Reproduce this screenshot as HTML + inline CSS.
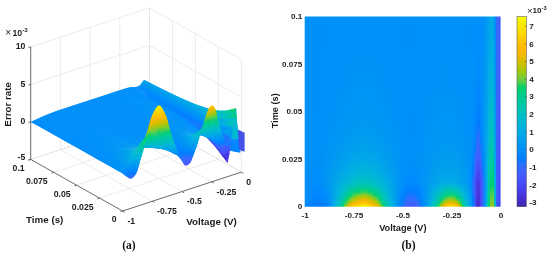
<!DOCTYPE html>
<html><head><meta charset="utf-8"><title>Figure</title>
<style>html,body{margin:0;padding:0;background:#fff}svg{display:block;filter:blur(0.32px)}</style></head>
<body>
<svg width="550" height="255" viewBox="0 0 550 255">
<defs>
<linearGradient id="cb" x1="0" y1="0" x2="0" y2="1"><stop offset="0.0000" stop-color="#f9fb00"/><stop offset="0.0312" stop-color="#f7ef00"/><stop offset="0.0625" stop-color="#f9e200"/><stop offset="0.0938" stop-color="#ffd500"/><stop offset="0.1250" stop-color="#ffc700"/><stop offset="0.1562" stop-color="#ffbb00"/><stop offset="0.1875" stop-color="#fbb700"/><stop offset="0.2188" stop-color="#e5bb00"/><stop offset="0.2500" stop-color="#cac100"/><stop offset="0.2812" stop-color="#a9c700"/><stop offset="0.3125" stop-color="#83cc2a"/><stop offset="0.3438" stop-color="#54cf4e"/><stop offset="0.3750" stop-color="#00d06c"/><stop offset="0.4062" stop-color="#00ce84"/><stop offset="0.4375" stop-color="#00ca99"/><stop offset="0.4688" stop-color="#00c6aa"/><stop offset="0.5000" stop-color="#00c2ba"/><stop offset="0.5312" stop-color="#00bdc9"/><stop offset="0.5625" stop-color="#00b6d7"/><stop offset="0.5938" stop-color="#00afe2"/><stop offset="0.6250" stop-color="#00a6e9"/><stop offset="0.6562" stop-color="#009cef"/><stop offset="0.6875" stop-color="#0092f7"/><stop offset="0.7188" stop-color="#0088ff"/><stop offset="0.7500" stop-color="#007cff"/><stop offset="0.7812" stop-color="#2d6fff"/><stop offset="0.8125" stop-color="#3c63ff"/><stop offset="0.8438" stop-color="#4358ff"/><stop offset="0.8750" stop-color="#474cf9"/><stop offset="0.9062" stop-color="#4840ee"/><stop offset="0.9375" stop-color="#4836dd"/><stop offset="0.9688" stop-color="#452dc7"/><stop offset="1.0000" stop-color="#4225af"/></linearGradient>
<clipPath id="hc"><rect x="304.7" y="16.5" width="195.9" height="190.2"/></clipPath>
<filter id="bl" x="-5%" y="-5%" width="110%" height="110%"><feGaussianBlur stdDeviation="0.75 0.3"/></filter>
<linearGradient id="s109" gradientUnits="userSpaceOnUse" x1="240.9" y1="0" x2="149.0" y2="0"><stop offset="0.040" stop-color="#0b79ff"/><stop offset="0.069" stop-color="#0d79ff"/><stop offset="0.098" stop-color="#0e79ff"/><stop offset="0.127" stop-color="#1079ff"/><stop offset="0.156" stop-color="#1178ff"/><stop offset="0.184" stop-color="#1378ff"/><stop offset="0.213" stop-color="#1478ff"/><stop offset="0.242" stop-color="#1578ff"/><stop offset="0.271" stop-color="#1677ff"/><stop offset="0.300" stop-color="#1777ff"/><stop offset="0.440" stop-color="#1b76ff"/><stop offset="0.580" stop-color="#1b76ff"/><stop offset="0.720" stop-color="#1b76ff"/><stop offset="0.860" stop-color="#1b76ff"/><stop offset="1.000" stop-color="#1b76ff"/></linearGradient>
<linearGradient id="s108" gradientUnits="userSpaceOnUse" x1="239.8" y1="0" x2="147.9" y2="0"><stop offset="0.040" stop-color="#0a7aff"/><stop offset="0.069" stop-color="#0c79ff"/><stop offset="0.098" stop-color="#0d79ff"/><stop offset="0.127" stop-color="#0e79ff"/><stop offset="0.156" stop-color="#1079ff"/><stop offset="0.184" stop-color="#1179ff"/><stop offset="0.213" stop-color="#1278ff"/><stop offset="0.242" stop-color="#1378ff"/><stop offset="0.271" stop-color="#1478ff"/><stop offset="0.300" stop-color="#1578ff"/><stop offset="0.440" stop-color="#1877ff"/><stop offset="0.580" stop-color="#1877ff"/><stop offset="0.720" stop-color="#1877ff"/><stop offset="0.860" stop-color="#1877ff"/><stop offset="1.000" stop-color="#1877ff"/></linearGradient>
<linearGradient id="s107" gradientUnits="userSpaceOnUse" x1="238.7" y1="0" x2="146.8" y2="0"><stop offset="0.040" stop-color="#0087ff"/><stop offset="0.069" stop-color="#0086ff"/><stop offset="0.098" stop-color="#0085ff"/><stop offset="0.127" stop-color="#0084ff"/><stop offset="0.156" stop-color="#0083ff"/><stop offset="0.184" stop-color="#0083ff"/><stop offset="0.213" stop-color="#0082ff"/><stop offset="0.242" stop-color="#0081ff"/><stop offset="0.271" stop-color="#0081ff"/><stop offset="0.300" stop-color="#0080ff"/><stop offset="0.440" stop-color="#007eff"/><stop offset="0.580" stop-color="#007eff"/><stop offset="0.720" stop-color="#007dff"/><stop offset="0.860" stop-color="#007dff"/><stop offset="1.000" stop-color="#007cff"/></linearGradient>
<linearGradient id="s106" gradientUnits="userSpaceOnUse" x1="237.6" y1="0" x2="145.7" y2="0"><stop offset="0.040" stop-color="#00b7d5"/><stop offset="0.069" stop-color="#00b4db"/><stop offset="0.098" stop-color="#00b1e0"/><stop offset="0.127" stop-color="#00aee3"/><stop offset="0.156" stop-color="#00abe6"/><stop offset="0.184" stop-color="#00a8e8"/><stop offset="0.213" stop-color="#00a6ea"/><stop offset="0.242" stop-color="#00a3eb"/><stop offset="0.271" stop-color="#00a1ec"/><stop offset="0.300" stop-color="#00a0ed"/><stop offset="0.440" stop-color="#0099f2"/><stop offset="0.580" stop-color="#0095f5"/><stop offset="0.720" stop-color="#0093f7"/><stop offset="0.860" stop-color="#0091f9"/><stop offset="1.000" stop-color="#008ffa"/></linearGradient>
<linearGradient id="s105" gradientUnits="userSpaceOnUse" x1="236.5" y1="0" x2="144.6" y2="0"><stop offset="0.040" stop-color="#00ce87"/><stop offset="0.069" stop-color="#00ca98"/><stop offset="0.098" stop-color="#00c7a6"/><stop offset="0.127" stop-color="#00c4b0"/><stop offset="0.156" stop-color="#00c2b9"/><stop offset="0.184" stop-color="#00c0c1"/><stop offset="0.213" stop-color="#00bdc8"/><stop offset="0.242" stop-color="#00bbcd"/><stop offset="0.271" stop-color="#00b9d2"/><stop offset="0.300" stop-color="#00b7d6"/><stop offset="0.440" stop-color="#00aee3"/><stop offset="0.580" stop-color="#00a8e8"/><stop offset="0.720" stop-color="#00a4ea"/><stop offset="0.860" stop-color="#00a1ec"/><stop offset="1.000" stop-color="#009eee"/></linearGradient>
<linearGradient id="c105" gradientUnits="userSpaceOnUse" x1="0" y1="109.9" x2="0" y2="111.3"><stop offset="0.000" stop-color="#1ed065"/><stop offset="0.167" stop-color="#00d06c"/><stop offset="0.333" stop-color="#00cf72"/><stop offset="0.500" stop-color="#00cf78"/><stop offset="0.667" stop-color="#00cf7d"/><stop offset="0.833" stop-color="#00ce82"/><stop offset="1.000" stop-color="#00ce87"/></linearGradient>
<linearGradient id="s104" gradientUnits="userSpaceOnUse" x1="235.5" y1="0" x2="143.6" y2="0"><stop offset="0.040" stop-color="#00ce81"/><stop offset="0.069" stop-color="#00cb94"/><stop offset="0.098" stop-color="#00c8a3"/><stop offset="0.127" stop-color="#00c5ae"/><stop offset="0.156" stop-color="#00c2b7"/><stop offset="0.184" stop-color="#00c0bf"/><stop offset="0.213" stop-color="#00bec6"/><stop offset="0.242" stop-color="#00bccb"/><stop offset="0.271" stop-color="#00bad0"/><stop offset="0.300" stop-color="#00b8d5"/><stop offset="0.440" stop-color="#00afe1"/><stop offset="0.580" stop-color="#00aae7"/><stop offset="0.720" stop-color="#00a5ea"/><stop offset="0.860" stop-color="#00a2eb"/><stop offset="1.000" stop-color="#00a0ed"/></linearGradient>
<linearGradient id="c104" gradientUnits="userSpaceOnUse" x1="0" y1="109.5" x2="0" y2="110.3"><stop offset="0.000" stop-color="#23d063"/><stop offset="0.167" stop-color="#05d069"/><stop offset="0.333" stop-color="#00cf6e"/><stop offset="0.500" stop-color="#00cf73"/><stop offset="0.667" stop-color="#00cf78"/><stop offset="0.833" stop-color="#00cf7c"/><stop offset="1.000" stop-color="#00ce81"/></linearGradient>
<linearGradient id="s103" gradientUnits="userSpaceOnUse" x1="234.4" y1="0" x2="142.5" y2="0"><stop offset="0.040" stop-color="#00c8a2"/><stop offset="0.069" stop-color="#00c4b2"/><stop offset="0.098" stop-color="#00c1be"/><stop offset="0.127" stop-color="#00bdc7"/><stop offset="0.156" stop-color="#00bacf"/><stop offset="0.184" stop-color="#00b7d5"/><stop offset="0.213" stop-color="#00b5da"/><stop offset="0.242" stop-color="#00b2de"/><stop offset="0.271" stop-color="#00b0e1"/><stop offset="0.300" stop-color="#00aee3"/><stop offset="0.440" stop-color="#00a6e9"/><stop offset="0.580" stop-color="#00a2ec"/><stop offset="0.720" stop-color="#009fee"/><stop offset="0.860" stop-color="#009def"/><stop offset="1.000" stop-color="#009bf0"/></linearGradient>
<linearGradient id="s102" gradientUnits="userSpaceOnUse" x1="233.3" y1="0" x2="141.4" y2="0"><stop offset="0.040" stop-color="#00bcca"/><stop offset="0.069" stop-color="#00b7d6"/><stop offset="0.098" stop-color="#00b2de"/><stop offset="0.127" stop-color="#00ade4"/><stop offset="0.156" stop-color="#00aae7"/><stop offset="0.184" stop-color="#00a6e9"/><stop offset="0.213" stop-color="#00a4ea"/><stop offset="0.242" stop-color="#00a2ec"/><stop offset="0.271" stop-color="#00a0ed"/><stop offset="0.300" stop-color="#009fee"/><stop offset="0.440" stop-color="#009af1"/><stop offset="0.580" stop-color="#0098f3"/><stop offset="0.720" stop-color="#0097f4"/><stop offset="0.860" stop-color="#0096f5"/><stop offset="1.000" stop-color="#0095f5"/></linearGradient>
<linearGradient id="s101" gradientUnits="userSpaceOnUse" x1="232.2" y1="0" x2="140.3" y2="0"><stop offset="0.040" stop-color="#00a2ec"/><stop offset="0.069" stop-color="#009cef"/><stop offset="0.098" stop-color="#0099f2"/><stop offset="0.127" stop-color="#0096f5"/><stop offset="0.156" stop-color="#0094f6"/><stop offset="0.184" stop-color="#0092f7"/><stop offset="0.213" stop-color="#0091f8"/><stop offset="0.242" stop-color="#0090f9"/><stop offset="0.271" stop-color="#0090f9"/><stop offset="0.300" stop-color="#0090fa"/><stop offset="0.440" stop-color="#008ffa"/><stop offset="0.580" stop-color="#0090f9"/><stop offset="0.720" stop-color="#0090f9"/><stop offset="0.860" stop-color="#0090f9"/><stop offset="1.000" stop-color="#0090f9"/></linearGradient>
<linearGradient id="c101" gradientUnits="userSpaceOnUse" x1="0" y1="134.6" x2="0" y2="130.6"><stop offset="0.000" stop-color="#009bf1"/><stop offset="0.167" stop-color="#009cf0"/><stop offset="0.333" stop-color="#009def"/><stop offset="0.500" stop-color="#009eee"/><stop offset="0.667" stop-color="#009fed"/><stop offset="0.833" stop-color="#00a0ed"/><stop offset="1.000" stop-color="#00a2ec"/></linearGradient>
<linearGradient id="s100" gradientUnits="userSpaceOnUse" x1="231.1" y1="0" x2="139.2" y2="0"><stop offset="0.040" stop-color="#1e75ff"/><stop offset="0.069" stop-color="#1b76ff"/><stop offset="0.098" stop-color="#1578ff"/><stop offset="0.127" stop-color="#0d79ff"/><stop offset="0.156" stop-color="#027bff"/><stop offset="0.184" stop-color="#007cff"/><stop offset="0.213" stop-color="#007eff"/><stop offset="0.242" stop-color="#007fff"/><stop offset="0.271" stop-color="#0081ff"/><stop offset="0.300" stop-color="#0082ff"/><stop offset="0.440" stop-color="#0087ff"/><stop offset="0.580" stop-color="#008afe"/><stop offset="0.720" stop-color="#008cfd"/><stop offset="0.860" stop-color="#008dfc"/><stop offset="1.000" stop-color="#008efb"/></linearGradient>
<linearGradient id="c100" gradientUnits="userSpaceOnUse" x1="0" y1="143.2" x2="0" y2="141.3"><stop offset="0.000" stop-color="#1b76ff"/><stop offset="0.167" stop-color="#1c76ff"/><stop offset="0.333" stop-color="#1c76ff"/><stop offset="0.500" stop-color="#1d76ff"/><stop offset="0.667" stop-color="#1d75ff"/><stop offset="0.833" stop-color="#1e75ff"/><stop offset="1.000" stop-color="#1e75ff"/></linearGradient>
<linearGradient id="s99" gradientUnits="userSpaceOnUse" x1="230.1" y1="0" x2="138.2" y2="0"><stop offset="0.040" stop-color="#474af7"/><stop offset="0.069" stop-color="#4552fd"/><stop offset="0.098" stop-color="#4358ff"/><stop offset="0.127" stop-color="#405dff"/><stop offset="0.156" stop-color="#3d62ff"/><stop offset="0.184" stop-color="#3967ff"/><stop offset="0.213" stop-color="#356bff"/><stop offset="0.242" stop-color="#2f6eff"/><stop offset="0.271" stop-color="#2871ff"/><stop offset="0.300" stop-color="#2075ff"/><stop offset="0.440" stop-color="#007fff"/><stop offset="0.580" stop-color="#0085ff"/><stop offset="0.720" stop-color="#0089ff"/><stop offset="0.860" stop-color="#008bfe"/><stop offset="1.000" stop-color="#008cfc"/></linearGradient>
<linearGradient id="c99" gradientUnits="userSpaceOnUse" x1="0" y1="149.6" x2="0" y2="150.7"><stop offset="0.000" stop-color="#4259ff"/><stop offset="0.167" stop-color="#4457ff"/><stop offset="0.333" stop-color="#4454ff"/><stop offset="0.500" stop-color="#4552fd"/><stop offset="0.667" stop-color="#464ffb"/><stop offset="0.833" stop-color="#474df9"/><stop offset="1.000" stop-color="#474af7"/></linearGradient>
<linearGradient id="s98" gradientUnits="userSpaceOnUse" x1="229.0" y1="0" x2="137.1" y2="0"><stop offset="0.040" stop-color="#4837e0"/><stop offset="0.069" stop-color="#4840ec"/><stop offset="0.098" stop-color="#4847f5"/><stop offset="0.127" stop-color="#464efa"/><stop offset="0.156" stop-color="#4454ff"/><stop offset="0.184" stop-color="#425aff"/><stop offset="0.213" stop-color="#405fff"/><stop offset="0.242" stop-color="#3c63ff"/><stop offset="0.271" stop-color="#3867ff"/><stop offset="0.300" stop-color="#346bff"/><stop offset="0.440" stop-color="#0c79ff"/><stop offset="0.580" stop-color="#0082ff"/><stop offset="0.720" stop-color="#0087ff"/><stop offset="0.860" stop-color="#008aff"/><stop offset="1.000" stop-color="#008cfd"/></linearGradient>
<linearGradient id="c98" gradientUnits="userSpaceOnUse" x1="0" y1="156.3" x2="0" y2="155.3"><stop offset="0.000" stop-color="#483de8"/><stop offset="0.167" stop-color="#483ce7"/><stop offset="0.333" stop-color="#483be6"/><stop offset="0.500" stop-color="#483ae5"/><stop offset="0.667" stop-color="#4839e3"/><stop offset="0.833" stop-color="#4838e2"/><stop offset="1.000" stop-color="#4837e0"/></linearGradient>
<linearGradient id="s97" gradientUnits="userSpaceOnUse" x1="227.9" y1="0" x2="136.0" y2="0"><stop offset="0.040" stop-color="#4630cd"/><stop offset="0.069" stop-color="#4837e0"/><stop offset="0.098" stop-color="#483fec"/><stop offset="0.127" stop-color="#4847f4"/><stop offset="0.156" stop-color="#464efa"/><stop offset="0.184" stop-color="#4554fe"/><stop offset="0.213" stop-color="#425aff"/><stop offset="0.242" stop-color="#405eff"/><stop offset="0.271" stop-color="#3c63ff"/><stop offset="0.300" stop-color="#3967ff"/><stop offset="0.440" stop-color="#1877ff"/><stop offset="0.580" stop-color="#0080ff"/><stop offset="0.720" stop-color="#0086ff"/><stop offset="0.860" stop-color="#0089ff"/><stop offset="1.000" stop-color="#008bfd"/></linearGradient>
<linearGradient id="c97" gradientUnits="userSpaceOnUse" x1="0" y1="162.5" x2="0" y2="157.9"><stop offset="0.000" stop-color="#4327b7"/><stop offset="0.167" stop-color="#4429bb"/><stop offset="0.333" stop-color="#442abf"/><stop offset="0.500" stop-color="#452bc2"/><stop offset="0.667" stop-color="#452dc6"/><stop offset="0.833" stop-color="#462eca"/><stop offset="1.000" stop-color="#4630cd"/></linearGradient>
<linearGradient id="s96" gradientUnits="userSpaceOnUse" x1="226.8" y1="0" x2="134.9" y2="0"><stop offset="0.040" stop-color="#4733d5"/><stop offset="0.069" stop-color="#483be6"/><stop offset="0.098" stop-color="#4844f1"/><stop offset="0.127" stop-color="#474bf8"/><stop offset="0.156" stop-color="#4552fd"/><stop offset="0.184" stop-color="#4358ff"/><stop offset="0.213" stop-color="#405dff"/><stop offset="0.242" stop-color="#3d62ff"/><stop offset="0.271" stop-color="#3966ff"/><stop offset="0.300" stop-color="#356aff"/><stop offset="0.440" stop-color="#0e79ff"/><stop offset="0.580" stop-color="#0082ff"/><stop offset="0.720" stop-color="#0087ff"/><stop offset="0.860" stop-color="#008aff"/><stop offset="1.000" stop-color="#008cfd"/></linearGradient>
<linearGradient id="c96" gradientUnits="userSpaceOnUse" x1="0" y1="159.1" x2="0" y2="157.3"><stop offset="0.000" stop-color="#4734d9"/><stop offset="0.167" stop-color="#4734d9"/><stop offset="0.333" stop-color="#4734d8"/><stop offset="0.500" stop-color="#4733d7"/><stop offset="0.667" stop-color="#4733d7"/><stop offset="0.833" stop-color="#4733d6"/><stop offset="1.000" stop-color="#4733d5"/></linearGradient>
<linearGradient id="s95" gradientUnits="userSpaceOnUse" x1="225.7" y1="0" x2="133.8" y2="0"><stop offset="0.040" stop-color="#483eeb"/><stop offset="0.069" stop-color="#4748f5"/><stop offset="0.098" stop-color="#4650fc"/><stop offset="0.127" stop-color="#4357ff"/><stop offset="0.156" stop-color="#405dff"/><stop offset="0.184" stop-color="#3d63ff"/><stop offset="0.213" stop-color="#3867ff"/><stop offset="0.242" stop-color="#336cff"/><stop offset="0.271" stop-color="#2d6fff"/><stop offset="0.300" stop-color="#2573ff"/><stop offset="0.440" stop-color="#007fff"/><stop offset="0.580" stop-color="#0085ff"/><stop offset="0.720" stop-color="#0089ff"/><stop offset="0.860" stop-color="#008bfd"/><stop offset="1.000" stop-color="#008dfc"/></linearGradient>
<linearGradient id="c95" gradientUnits="userSpaceOnUse" x1="0" y1="150.5" x2="0" y2="154.7"><stop offset="0.000" stop-color="#415cff"/><stop offset="0.167" stop-color="#4357ff"/><stop offset="0.333" stop-color="#4552fd"/><stop offset="0.500" stop-color="#474dfa"/><stop offset="0.667" stop-color="#4748f5"/><stop offset="0.833" stop-color="#4843f1"/><stop offset="1.000" stop-color="#483eeb"/></linearGradient>
<linearGradient id="s94" gradientUnits="userSpaceOnUse" x1="224.7" y1="0" x2="132.8" y2="0"><stop offset="0.040" stop-color="#464ffb"/><stop offset="0.069" stop-color="#4358ff"/><stop offset="0.098" stop-color="#3f60ff"/><stop offset="0.127" stop-color="#3a66ff"/><stop offset="0.156" stop-color="#336bff"/><stop offset="0.184" stop-color="#2c70ff"/><stop offset="0.213" stop-color="#2274ff"/><stop offset="0.242" stop-color="#1677ff"/><stop offset="0.271" stop-color="#047aff"/><stop offset="0.300" stop-color="#007dff"/><stop offset="0.440" stop-color="#0085ff"/><stop offset="0.580" stop-color="#0089ff"/><stop offset="0.720" stop-color="#008bfd"/><stop offset="0.860" stop-color="#008dfc"/><stop offset="1.000" stop-color="#008dfb"/></linearGradient>
<linearGradient id="c94" gradientUnits="userSpaceOnUse" x1="0" y1="143.4" x2="0" y2="151.5"><stop offset="0.000" stop-color="#007fff"/><stop offset="0.167" stop-color="#1877ff"/><stop offset="0.333" stop-color="#2f6eff"/><stop offset="0.500" stop-color="#3a66ff"/><stop offset="0.667" stop-color="#405eff"/><stop offset="0.833" stop-color="#4456ff"/><stop offset="1.000" stop-color="#464ffb"/></linearGradient>
<linearGradient id="s93" gradientUnits="userSpaceOnUse" x1="223.6" y1="0" x2="131.7" y2="0"><stop offset="0.040" stop-color="#425aff"/><stop offset="0.069" stop-color="#3c64ff"/><stop offset="0.098" stop-color="#336cff"/><stop offset="0.127" stop-color="#2872ff"/><stop offset="0.156" stop-color="#1877ff"/><stop offset="0.184" stop-color="#007bff"/><stop offset="0.213" stop-color="#007eff"/><stop offset="0.242" stop-color="#0081ff"/><stop offset="0.271" stop-color="#0083ff"/><stop offset="0.300" stop-color="#0084ff"/><stop offset="0.440" stop-color="#0089ff"/><stop offset="0.580" stop-color="#008cfd"/><stop offset="0.720" stop-color="#008dfc"/><stop offset="0.860" stop-color="#008efb"/><stop offset="1.000" stop-color="#008efb"/></linearGradient>
<linearGradient id="c93" gradientUnits="userSpaceOnUse" x1="0" y1="138.6" x2="0" y2="149.2"><stop offset="0.000" stop-color="#0096f5"/><stop offset="0.167" stop-color="#008dfc"/><stop offset="0.333" stop-color="#0083ff"/><stop offset="0.500" stop-color="#0d79ff"/><stop offset="0.667" stop-color="#2e6eff"/><stop offset="0.833" stop-color="#3b64ff"/><stop offset="1.000" stop-color="#425aff"/></linearGradient>
<linearGradient id="s92" gradientUnits="userSpaceOnUse" x1="222.5" y1="0" x2="130.6" y2="0"><stop offset="0.040" stop-color="#3c63ff"/><stop offset="0.069" stop-color="#316dff"/><stop offset="0.098" stop-color="#2174ff"/><stop offset="0.127" stop-color="#057aff"/><stop offset="0.156" stop-color="#007fff"/><stop offset="0.184" stop-color="#0082ff"/><stop offset="0.213" stop-color="#0084ff"/><stop offset="0.242" stop-color="#0086ff"/><stop offset="0.271" stop-color="#0088ff"/><stop offset="0.300" stop-color="#0089ff"/><stop offset="0.440" stop-color="#008cfc"/><stop offset="0.580" stop-color="#008efb"/><stop offset="0.720" stop-color="#008efb"/><stop offset="0.860" stop-color="#008ffa"/><stop offset="1.000" stop-color="#008ffa"/></linearGradient>
<linearGradient id="c92" gradientUnits="userSpaceOnUse" x1="0" y1="134.6" x2="0" y2="147.7"><stop offset="0.000" stop-color="#00a7e9"/><stop offset="0.167" stop-color="#009def"/><stop offset="0.333" stop-color="#0093f7"/><stop offset="0.500" stop-color="#0088ff"/><stop offset="0.667" stop-color="#007cff"/><stop offset="0.833" stop-color="#2d6fff"/><stop offset="1.000" stop-color="#3c63ff"/></linearGradient>
<linearGradient id="s91" gradientUnits="userSpaceOnUse" x1="221.4" y1="0" x2="129.5" y2="0"><stop offset="0.040" stop-color="#336cff"/><stop offset="0.069" stop-color="#2174ff"/><stop offset="0.098" stop-color="#007bff"/><stop offset="0.127" stop-color="#0080ff"/><stop offset="0.156" stop-color="#0083ff"/><stop offset="0.184" stop-color="#0086ff"/><stop offset="0.213" stop-color="#0088ff"/><stop offset="0.242" stop-color="#0089ff"/><stop offset="0.271" stop-color="#008bfe"/><stop offset="0.300" stop-color="#008cfd"/><stop offset="0.440" stop-color="#008efb"/><stop offset="0.580" stop-color="#008ffa"/><stop offset="0.720" stop-color="#008ffa"/><stop offset="0.860" stop-color="#008ffa"/><stop offset="1.000" stop-color="#008ffa"/></linearGradient>
<linearGradient id="c91" gradientUnits="userSpaceOnUse" x1="0" y1="131.2" x2="0" y2="146.2"><stop offset="0.000" stop-color="#00b4db"/><stop offset="0.167" stop-color="#00abe6"/><stop offset="0.333" stop-color="#00a0ed"/><stop offset="0.500" stop-color="#0094f6"/><stop offset="0.667" stop-color="#0087ff"/><stop offset="0.833" stop-color="#067aff"/><stop offset="1.000" stop-color="#336cff"/></linearGradient>
<linearGradient id="s90" gradientUnits="userSpaceOnUse" x1="220.3" y1="0" x2="128.4" y2="0"><stop offset="0.040" stop-color="#2274ff"/><stop offset="0.069" stop-color="#007bff"/><stop offset="0.098" stop-color="#0080ff"/><stop offset="0.127" stop-color="#0084ff"/><stop offset="0.156" stop-color="#0087ff"/><stop offset="0.184" stop-color="#0089ff"/><stop offset="0.213" stop-color="#008afe"/><stop offset="0.242" stop-color="#008bfd"/><stop offset="0.271" stop-color="#008cfc"/><stop offset="0.300" stop-color="#008dfc"/><stop offset="0.440" stop-color="#008ffa"/><stop offset="0.580" stop-color="#008ffa"/><stop offset="0.720" stop-color="#008ffa"/><stop offset="0.860" stop-color="#0090fa"/><stop offset="1.000" stop-color="#0090fa"/></linearGradient>
<linearGradient id="c90" gradientUnits="userSpaceOnUse" x1="0" y1="128.1" x2="0" y2="144.9"><stop offset="0.000" stop-color="#00bdc7"/><stop offset="0.167" stop-color="#00b5d9"/><stop offset="0.333" stop-color="#00abe6"/><stop offset="0.500" stop-color="#009eee"/><stop offset="0.667" stop-color="#0091f8"/><stop offset="0.833" stop-color="#0083ff"/><stop offset="1.000" stop-color="#2274ff"/></linearGradient>
<linearGradient id="s89" gradientUnits="userSpaceOnUse" x1="219.3" y1="0" x2="127.4" y2="0"><stop offset="0.040" stop-color="#007cff"/><stop offset="0.069" stop-color="#0081ff"/><stop offset="0.098" stop-color="#0084ff"/><stop offset="0.127" stop-color="#0087ff"/><stop offset="0.156" stop-color="#0089ff"/><stop offset="0.184" stop-color="#008afe"/><stop offset="0.213" stop-color="#008cfd"/><stop offset="0.242" stop-color="#008dfc"/><stop offset="0.271" stop-color="#008dfc"/><stop offset="0.300" stop-color="#008efb"/><stop offset="0.440" stop-color="#008ffa"/><stop offset="0.580" stop-color="#0090fa"/><stop offset="0.720" stop-color="#0090fa"/><stop offset="0.860" stop-color="#0090fa"/><stop offset="1.000" stop-color="#0090fa"/></linearGradient>
<linearGradient id="c89" gradientUnits="userSpaceOnUse" x1="0" y1="124.8" x2="0" y2="143.7"><stop offset="0.000" stop-color="#00c5ae"/><stop offset="0.167" stop-color="#00bec5"/><stop offset="0.333" stop-color="#00b5d9"/><stop offset="0.500" stop-color="#00a9e7"/><stop offset="0.667" stop-color="#009bf1"/><stop offset="0.833" stop-color="#008cfd"/><stop offset="1.000" stop-color="#007cff"/></linearGradient>
<linearGradient id="s88" gradientUnits="userSpaceOnUse" x1="218.2" y1="0" x2="126.3" y2="0"><stop offset="0.040" stop-color="#0083ff"/><stop offset="0.069" stop-color="#0086ff"/><stop offset="0.098" stop-color="#0088ff"/><stop offset="0.127" stop-color="#008aff"/><stop offset="0.156" stop-color="#008bfe"/><stop offset="0.184" stop-color="#008cfd"/><stop offset="0.213" stop-color="#008dfc"/><stop offset="0.242" stop-color="#008efb"/><stop offset="0.271" stop-color="#008efb"/><stop offset="0.300" stop-color="#008ffb"/><stop offset="0.440" stop-color="#0090fa"/><stop offset="0.580" stop-color="#0090f9"/><stop offset="0.720" stop-color="#0090f9"/><stop offset="0.860" stop-color="#0090f9"/><stop offset="1.000" stop-color="#0090f9"/></linearGradient>
<linearGradient id="c88" gradientUnits="userSpaceOnUse" x1="0" y1="120.5" x2="0" y2="142.6"><stop offset="0.000" stop-color="#00ce86"/><stop offset="0.167" stop-color="#00c7a8"/><stop offset="0.333" stop-color="#00bfc3"/><stop offset="0.500" stop-color="#00b4db"/><stop offset="0.667" stop-color="#00a5ea"/><stop offset="0.833" stop-color="#0094f6"/><stop offset="1.000" stop-color="#0083ff"/></linearGradient>
<linearGradient id="s87" gradientUnits="userSpaceOnUse" x1="217.1" y1="0" x2="125.2" y2="0"><stop offset="0.040" stop-color="#0089ff"/><stop offset="0.069" stop-color="#008afe"/><stop offset="0.098" stop-color="#008bfd"/><stop offset="0.127" stop-color="#008cfd"/><stop offset="0.156" stop-color="#008dfc"/><stop offset="0.184" stop-color="#008efb"/><stop offset="0.213" stop-color="#008efb"/><stop offset="0.242" stop-color="#008ffb"/><stop offset="0.271" stop-color="#008ffa"/><stop offset="0.300" stop-color="#008ffa"/><stop offset="0.440" stop-color="#0090f9"/><stop offset="0.580" stop-color="#0090f9"/><stop offset="0.720" stop-color="#0090f9"/><stop offset="0.860" stop-color="#0090f9"/><stop offset="1.000" stop-color="#0090f9"/></linearGradient>
<linearGradient id="c87" gradientUnits="userSpaceOnUse" x1="0" y1="115.4" x2="0" y2="141.6"><stop offset="0.000" stop-color="#69ce41"/><stop offset="0.167" stop-color="#00cf7c"/><stop offset="0.333" stop-color="#00c7a6"/><stop offset="0.500" stop-color="#00bec6"/><stop offset="0.667" stop-color="#00b0e0"/><stop offset="0.833" stop-color="#009eef"/><stop offset="1.000" stop-color="#0089ff"/></linearGradient>
<linearGradient id="s86" gradientUnits="userSpaceOnUse" x1="216.0" y1="0" x2="124.1" y2="0"><stop offset="0.040" stop-color="#008ffb"/><stop offset="0.069" stop-color="#008ffa"/><stop offset="0.098" stop-color="#008ffa"/><stop offset="0.127" stop-color="#008ffa"/><stop offset="0.156" stop-color="#008ffa"/><stop offset="0.184" stop-color="#008ffa"/><stop offset="0.213" stop-color="#008ffa"/><stop offset="0.242" stop-color="#0090fa"/><stop offset="0.271" stop-color="#0090fa"/><stop offset="0.300" stop-color="#0090fa"/><stop offset="0.440" stop-color="#0090f9"/><stop offset="0.580" stop-color="#0090f9"/><stop offset="0.720" stop-color="#0090f9"/><stop offset="0.860" stop-color="#0090f9"/><stop offset="1.000" stop-color="#0090f9"/></linearGradient>
<linearGradient id="c86" gradientUnits="userSpaceOnUse" x1="0" y1="110.9" x2="0" y2="140.6"><stop offset="0.000" stop-color="#c1c300"/><stop offset="0.167" stop-color="#67ce43"/><stop offset="0.333" stop-color="#00ce84"/><stop offset="0.500" stop-color="#00c4b0"/><stop offset="0.667" stop-color="#00b9d2"/><stop offset="0.833" stop-color="#00a6e9"/><stop offset="1.000" stop-color="#008ffb"/></linearGradient>
<linearGradient id="s85" gradientUnits="userSpaceOnUse" x1="214.9" y1="0" x2="123.0" y2="0"><stop offset="0.040" stop-color="#0095f5"/><stop offset="0.069" stop-color="#0093f7"/><stop offset="0.098" stop-color="#0092f7"/><stop offset="0.127" stop-color="#0092f8"/><stop offset="0.156" stop-color="#0091f8"/><stop offset="0.184" stop-color="#0091f9"/><stop offset="0.213" stop-color="#0091f9"/><stop offset="0.242" stop-color="#0090f9"/><stop offset="0.271" stop-color="#0090f9"/><stop offset="0.300" stop-color="#0090f9"/><stop offset="0.440" stop-color="#0091f9"/><stop offset="0.580" stop-color="#0091f9"/><stop offset="0.720" stop-color="#0091f9"/><stop offset="0.860" stop-color="#0091f9"/><stop offset="1.000" stop-color="#0091f9"/></linearGradient>
<linearGradient id="c85" gradientUnits="userSpaceOnUse" x1="0" y1="108.1" x2="0" y2="139.6"><stop offset="0.000" stop-color="#edb900"/><stop offset="0.167" stop-color="#a2c800"/><stop offset="0.333" stop-color="#22d064"/><stop offset="0.500" stop-color="#00c99d"/><stop offset="0.667" stop-color="#00bec5"/><stop offset="0.833" stop-color="#00ade4"/><stop offset="1.000" stop-color="#0095f5"/></linearGradient>
<linearGradient id="s84" gradientUnits="userSpaceOnUse" x1="213.9" y1="0" x2="122.0" y2="0"><stop offset="0.040" stop-color="#009af1"/><stop offset="0.069" stop-color="#0098f3"/><stop offset="0.098" stop-color="#0096f5"/><stop offset="0.127" stop-color="#0094f6"/><stop offset="0.156" stop-color="#0093f7"/><stop offset="0.184" stop-color="#0092f7"/><stop offset="0.213" stop-color="#0092f8"/><stop offset="0.242" stop-color="#0091f8"/><stop offset="0.271" stop-color="#0091f8"/><stop offset="0.300" stop-color="#0091f9"/><stop offset="0.440" stop-color="#0091f9"/><stop offset="0.580" stop-color="#0091f9"/><stop offset="0.720" stop-color="#0091f9"/><stop offset="0.860" stop-color="#0091f9"/><stop offset="1.000" stop-color="#0091f9"/></linearGradient>
<linearGradient id="c84" gradientUnits="userSpaceOnUse" x1="0" y1="106.5" x2="0" y2="138.7"><stop offset="0.000" stop-color="#ffb700"/><stop offset="0.167" stop-color="#c3c200"/><stop offset="0.333" stop-color="#5ecf49"/><stop offset="0.500" stop-color="#00cd8d"/><stop offset="0.667" stop-color="#00c2ba"/><stop offset="0.833" stop-color="#00b2de"/><stop offset="1.000" stop-color="#009af1"/></linearGradient>
<linearGradient id="s83" gradientUnits="userSpaceOnUse" x1="212.8" y1="0" x2="120.9" y2="0"><stop offset="0.040" stop-color="#00a0ed"/><stop offset="0.069" stop-color="#009cf0"/><stop offset="0.098" stop-color="#0099f2"/><stop offset="0.127" stop-color="#0097f4"/><stop offset="0.156" stop-color="#0095f5"/><stop offset="0.184" stop-color="#0094f6"/><stop offset="0.213" stop-color="#0093f7"/><stop offset="0.242" stop-color="#0092f8"/><stop offset="0.271" stop-color="#0092f8"/><stop offset="0.300" stop-color="#0091f8"/><stop offset="0.440" stop-color="#0091f8"/><stop offset="0.580" stop-color="#0091f9"/><stop offset="0.720" stop-color="#0091f9"/><stop offset="0.860" stop-color="#0091f9"/><stop offset="1.000" stop-color="#0091f9"/></linearGradient>
<linearGradient id="c83" gradientUnits="userSpaceOnUse" x1="0" y1="105.8" x2="0" y2="137.9"><stop offset="0.000" stop-color="#ffbb00"/><stop offset="0.167" stop-color="#d4be00"/><stop offset="0.333" stop-color="#79cd34"/><stop offset="0.500" stop-color="#00ce81"/><stop offset="0.667" stop-color="#00c4b2"/><stop offset="0.833" stop-color="#00b6d7"/><stop offset="1.000" stop-color="#00a0ed"/></linearGradient>
<linearGradient id="s82" gradientUnits="userSpaceOnUse" x1="211.7" y1="0" x2="119.8" y2="0"><stop offset="0.040" stop-color="#00a5ea"/><stop offset="0.069" stop-color="#00a0ed"/><stop offset="0.098" stop-color="#009cf0"/><stop offset="0.127" stop-color="#0099f2"/><stop offset="0.156" stop-color="#0097f4"/><stop offset="0.184" stop-color="#0095f5"/><stop offset="0.213" stop-color="#0094f6"/><stop offset="0.242" stop-color="#0093f7"/><stop offset="0.271" stop-color="#0092f7"/><stop offset="0.300" stop-color="#0092f8"/><stop offset="0.440" stop-color="#0091f8"/><stop offset="0.580" stop-color="#0091f9"/><stop offset="0.720" stop-color="#0091f9"/><stop offset="0.860" stop-color="#0091f9"/><stop offset="1.000" stop-color="#0091f9"/></linearGradient>
<linearGradient id="c82" gradientUnits="userSpaceOnUse" x1="0" y1="105.6" x2="0" y2="137.1"><stop offset="0.000" stop-color="#ffbf00"/><stop offset="0.167" stop-color="#debc00"/><stop offset="0.333" stop-color="#8acb22"/><stop offset="0.500" stop-color="#00cf76"/><stop offset="0.667" stop-color="#00c6aa"/><stop offset="0.833" stop-color="#00b9d1"/><stop offset="1.000" stop-color="#00a5ea"/></linearGradient>
<linearGradient id="s81" gradientUnits="userSpaceOnUse" x1="210.6" y1="0" x2="118.7" y2="0"><stop offset="0.040" stop-color="#00aae7"/><stop offset="0.069" stop-color="#00a3eb"/><stop offset="0.098" stop-color="#009fee"/><stop offset="0.127" stop-color="#009bf1"/><stop offset="0.156" stop-color="#0098f3"/><stop offset="0.184" stop-color="#0096f4"/><stop offset="0.213" stop-color="#0095f5"/><stop offset="0.242" stop-color="#0094f6"/><stop offset="0.271" stop-color="#0093f7"/><stop offset="0.300" stop-color="#0092f7"/><stop offset="0.440" stop-color="#0091f8"/><stop offset="0.580" stop-color="#0091f9"/><stop offset="0.720" stop-color="#0091f9"/><stop offset="0.860" stop-color="#0091f9"/><stop offset="1.000" stop-color="#0091f9"/></linearGradient>
<linearGradient id="c81" gradientUnits="userSpaceOnUse" x1="0" y1="106.1" x2="0" y2="136.3"><stop offset="0.000" stop-color="#ffbd00"/><stop offset="0.167" stop-color="#debc00"/><stop offset="0.333" stop-color="#8ecb1d"/><stop offset="0.500" stop-color="#00cf71"/><stop offset="0.667" stop-color="#00c7a5"/><stop offset="0.833" stop-color="#00bccb"/><stop offset="1.000" stop-color="#00aae7"/></linearGradient>
<linearGradient id="s80" gradientUnits="userSpaceOnUse" x1="209.5" y1="0" x2="117.6" y2="0"><stop offset="0.040" stop-color="#00aee3"/><stop offset="0.069" stop-color="#00a7e9"/><stop offset="0.098" stop-color="#00a1ec"/><stop offset="0.127" stop-color="#009def"/><stop offset="0.156" stop-color="#009af2"/><stop offset="0.184" stop-color="#0097f3"/><stop offset="0.213" stop-color="#0096f5"/><stop offset="0.242" stop-color="#0094f6"/><stop offset="0.271" stop-color="#0093f7"/><stop offset="0.300" stop-color="#0093f7"/><stop offset="0.440" stop-color="#0091f8"/><stop offset="0.580" stop-color="#0091f9"/><stop offset="0.720" stop-color="#0091f9"/><stop offset="0.860" stop-color="#0091f9"/><stop offset="1.000" stop-color="#0091f9"/></linearGradient>
<linearGradient id="c80" gradientUnits="userSpaceOnUse" x1="0" y1="107.4" x2="0" y2="135.6"><stop offset="0.000" stop-color="#ffb900"/><stop offset="0.167" stop-color="#d5be00"/><stop offset="0.333" stop-color="#87cc26"/><stop offset="0.500" stop-color="#00cf72"/><stop offset="0.667" stop-color="#00c8a2"/><stop offset="0.833" stop-color="#00bec6"/><stop offset="1.000" stop-color="#00aee3"/></linearGradient>
<linearGradient id="s79" gradientUnits="userSpaceOnUse" x1="208.5" y1="0" x2="116.6" y2="0"><stop offset="0.040" stop-color="#00b1df"/><stop offset="0.069" stop-color="#00aae7"/><stop offset="0.098" stop-color="#00a3eb"/><stop offset="0.127" stop-color="#009fee"/><stop offset="0.156" stop-color="#009bf1"/><stop offset="0.184" stop-color="#0098f3"/><stop offset="0.213" stop-color="#0096f4"/><stop offset="0.242" stop-color="#0095f5"/><stop offset="0.271" stop-color="#0094f6"/><stop offset="0.300" stop-color="#0093f7"/><stop offset="0.440" stop-color="#0091f8"/><stop offset="0.580" stop-color="#0091f9"/><stop offset="0.720" stop-color="#0091f9"/><stop offset="0.860" stop-color="#0091f9"/><stop offset="1.000" stop-color="#0091f9"/></linearGradient>
<linearGradient id="c79" gradientUnits="userSpaceOnUse" x1="0" y1="109.0" x2="0" y2="134.9"><stop offset="0.000" stop-color="#fbb700"/><stop offset="0.167" stop-color="#c6c200"/><stop offset="0.333" stop-color="#79cd34"/><stop offset="0.500" stop-color="#00cf75"/><stop offset="0.667" stop-color="#00c8a1"/><stop offset="0.833" stop-color="#00bfc3"/><stop offset="1.000" stop-color="#00b1df"/></linearGradient>
<linearGradient id="s78" gradientUnits="userSpaceOnUse" x1="207.4" y1="0" x2="115.5" y2="0"><stop offset="0.040" stop-color="#00b5da"/><stop offset="0.069" stop-color="#00ace5"/><stop offset="0.098" stop-color="#00a6ea"/><stop offset="0.127" stop-color="#00a0ed"/><stop offset="0.156" stop-color="#009cf0"/><stop offset="0.184" stop-color="#0099f2"/><stop offset="0.213" stop-color="#0097f4"/><stop offset="0.242" stop-color="#0095f5"/><stop offset="0.271" stop-color="#0094f6"/><stop offset="0.300" stop-color="#0093f7"/><stop offset="0.440" stop-color="#0091f8"/><stop offset="0.580" stop-color="#0091f9"/><stop offset="0.720" stop-color="#0091f9"/><stop offset="0.860" stop-color="#0090f9"/><stop offset="1.000" stop-color="#0090f9"/></linearGradient>
<linearGradient id="c78" gradientUnits="userSpaceOnUse" x1="0" y1="111.4" x2="0" y2="134.2"><stop offset="0.000" stop-color="#e2bc00"/><stop offset="0.167" stop-color="#aac700"/><stop offset="0.333" stop-color="#5ccf4a"/><stop offset="0.500" stop-color="#00cf7d"/><stop offset="0.667" stop-color="#00c8a3"/><stop offset="0.833" stop-color="#00c0c1"/><stop offset="1.000" stop-color="#00b5da"/></linearGradient>
<linearGradient id="s77" gradientUnits="userSpaceOnUse" x1="206.3" y1="0" x2="114.4" y2="0"><stop offset="0.040" stop-color="#00b7d5"/><stop offset="0.069" stop-color="#00afe2"/><stop offset="0.098" stop-color="#00a7e8"/><stop offset="0.127" stop-color="#00a2ec"/><stop offset="0.156" stop-color="#009def"/><stop offset="0.184" stop-color="#009af1"/><stop offset="0.213" stop-color="#0098f3"/><stop offset="0.242" stop-color="#0096f5"/><stop offset="0.271" stop-color="#0094f6"/><stop offset="0.300" stop-color="#0093f7"/><stop offset="0.440" stop-color="#0091f8"/><stop offset="0.580" stop-color="#0091f9"/><stop offset="0.720" stop-color="#0090f9"/><stop offset="0.860" stop-color="#0090f9"/><stop offset="1.000" stop-color="#0090f9"/></linearGradient>
<linearGradient id="c77" gradientUnits="userSpaceOnUse" x1="0" y1="114.5" x2="0" y2="133.6"><stop offset="0.000" stop-color="#b9c400"/><stop offset="0.167" stop-color="#7fcc2f"/><stop offset="0.333" stop-color="#27d062"/><stop offset="0.500" stop-color="#00cd89"/><stop offset="0.667" stop-color="#00c7a7"/><stop offset="0.833" stop-color="#00c0bf"/><stop offset="1.000" stop-color="#00b7d5"/></linearGradient>
<linearGradient id="s76" gradientUnits="userSpaceOnUse" x1="205.2" y1="0" x2="113.3" y2="0"><stop offset="0.040" stop-color="#00b9d1"/><stop offset="0.069" stop-color="#00b1e0"/><stop offset="0.098" stop-color="#00a9e7"/><stop offset="0.127" stop-color="#00a3eb"/><stop offset="0.156" stop-color="#009eee"/><stop offset="0.184" stop-color="#009bf1"/><stop offset="0.213" stop-color="#0098f3"/><stop offset="0.242" stop-color="#0096f4"/><stop offset="0.271" stop-color="#0095f6"/><stop offset="0.300" stop-color="#0093f6"/><stop offset="0.440" stop-color="#0091f8"/><stop offset="0.580" stop-color="#0090f9"/><stop offset="0.720" stop-color="#0090f9"/><stop offset="0.860" stop-color="#0090f9"/><stop offset="1.000" stop-color="#0090f9"/></linearGradient>
<linearGradient id="c76" gradientUnits="userSpaceOnUse" x1="0" y1="118.1" x2="0" y2="133.0"><stop offset="0.000" stop-color="#7bcd32"/><stop offset="0.167" stop-color="#3bd05b"/><stop offset="0.333" stop-color="#00cf7c"/><stop offset="0.500" stop-color="#00cb96"/><stop offset="0.667" stop-color="#00c5ac"/><stop offset="0.833" stop-color="#00c0bf"/><stop offset="1.000" stop-color="#00b9d1"/></linearGradient>
<linearGradient id="s75" gradientUnits="userSpaceOnUse" x1="204.1" y1="0" x2="112.2" y2="0"><stop offset="0.040" stop-color="#00bccc"/><stop offset="0.069" stop-color="#00b3dc"/><stop offset="0.098" stop-color="#00abe6"/><stop offset="0.127" stop-color="#00a4ea"/><stop offset="0.156" stop-color="#009fed"/><stop offset="0.184" stop-color="#009cf0"/><stop offset="0.213" stop-color="#0099f2"/><stop offset="0.242" stop-color="#0096f4"/><stop offset="0.271" stop-color="#0095f5"/><stop offset="0.300" stop-color="#0094f6"/><stop offset="0.440" stop-color="#0091f9"/><stop offset="0.580" stop-color="#0090f9"/><stop offset="0.720" stop-color="#0090f9"/><stop offset="0.860" stop-color="#0090f9"/><stop offset="1.000" stop-color="#0090f9"/></linearGradient>
<linearGradient id="c75" gradientUnits="userSpaceOnUse" x1="0" y1="122.0" x2="0" y2="132.2"><stop offset="0.000" stop-color="#08d068"/><stop offset="0.167" stop-color="#00ce7f"/><stop offset="0.333" stop-color="#00cc92"/><stop offset="0.500" stop-color="#00c8a3"/><stop offset="0.667" stop-color="#00c4b1"/><stop offset="0.833" stop-color="#00c0bf"/><stop offset="1.000" stop-color="#00bccc"/></linearGradient>
<linearGradient id="s74" gradientUnits="userSpaceOnUse" x1="203.1" y1="0" x2="111.2" y2="0"><stop offset="0.040" stop-color="#00bec7"/><stop offset="0.069" stop-color="#00b5d9"/><stop offset="0.098" stop-color="#00ade4"/><stop offset="0.127" stop-color="#00a6e9"/><stop offset="0.156" stop-color="#00a0ed"/><stop offset="0.184" stop-color="#009cf0"/><stop offset="0.213" stop-color="#0099f2"/><stop offset="0.242" stop-color="#0097f4"/><stop offset="0.271" stop-color="#0095f5"/><stop offset="0.300" stop-color="#0094f6"/><stop offset="0.440" stop-color="#0091f9"/><stop offset="0.580" stop-color="#0090f9"/><stop offset="0.720" stop-color="#0090f9"/><stop offset="0.860" stop-color="#0090fa"/><stop offset="1.000" stop-color="#0090fa"/></linearGradient>
<linearGradient id="c74" gradientUnits="userSpaceOnUse" x1="0" y1="125.7" x2="0" y2="131.6"><stop offset="0.000" stop-color="#00cd8d"/><stop offset="0.167" stop-color="#00ca99"/><stop offset="0.333" stop-color="#00c8a3"/><stop offset="0.500" stop-color="#00c5ac"/><stop offset="0.667" stop-color="#00c3b5"/><stop offset="0.833" stop-color="#00c0be"/><stop offset="1.000" stop-color="#00bec7"/></linearGradient>
<linearGradient id="s73" gradientUnits="userSpaceOnUse" x1="202.0" y1="0" x2="110.1" y2="0"><stop offset="0.040" stop-color="#00bec6"/><stop offset="0.069" stop-color="#00b5d9"/><stop offset="0.098" stop-color="#00ade4"/><stop offset="0.127" stop-color="#00a6e9"/><stop offset="0.156" stop-color="#00a1ec"/><stop offset="0.184" stop-color="#009cef"/><stop offset="0.213" stop-color="#0099f2"/><stop offset="0.242" stop-color="#0097f4"/><stop offset="0.271" stop-color="#0095f5"/><stop offset="0.300" stop-color="#0094f6"/><stop offset="0.440" stop-color="#0091f9"/><stop offset="0.580" stop-color="#0090f9"/><stop offset="0.720" stop-color="#0090fa"/><stop offset="0.860" stop-color="#0090fa"/><stop offset="1.000" stop-color="#0090fa"/></linearGradient>
<linearGradient id="c73" gradientUnits="userSpaceOnUse" x1="0" y1="128.9" x2="0" y2="131.6"><stop offset="0.000" stop-color="#00c7a6"/><stop offset="0.167" stop-color="#00c6ab"/><stop offset="0.333" stop-color="#00c4b1"/><stop offset="0.500" stop-color="#00c3b6"/><stop offset="0.667" stop-color="#00c1bb"/><stop offset="0.833" stop-color="#00c0c1"/><stop offset="1.000" stop-color="#00bec6"/></linearGradient>
<linearGradient id="s72" gradientUnits="userSpaceOnUse" x1="200.9" y1="0" x2="109.0" y2="0"><stop offset="0.040" stop-color="#00bdc9"/><stop offset="0.069" stop-color="#00b4db"/><stop offset="0.098" stop-color="#00ace5"/><stop offset="0.127" stop-color="#00a5ea"/><stop offset="0.156" stop-color="#00a0ed"/><stop offset="0.184" stop-color="#009cf0"/><stop offset="0.213" stop-color="#0099f2"/><stop offset="0.242" stop-color="#0096f4"/><stop offset="0.271" stop-color="#0095f5"/><stop offset="0.300" stop-color="#0093f6"/><stop offset="0.440" stop-color="#0091f9"/><stop offset="0.580" stop-color="#0090fa"/><stop offset="0.720" stop-color="#0090fa"/><stop offset="0.860" stop-color="#0090fa"/><stop offset="1.000" stop-color="#0090fa"/></linearGradient>
<linearGradient id="s71" gradientUnits="userSpaceOnUse" x1="199.8" y1="0" x2="107.9" y2="0"><stop offset="0.040" stop-color="#00bbce"/><stop offset="0.069" stop-color="#00b2de"/><stop offset="0.098" stop-color="#00aae6"/><stop offset="0.127" stop-color="#00a4eb"/><stop offset="0.156" stop-color="#009fee"/><stop offset="0.184" stop-color="#009bf1"/><stop offset="0.213" stop-color="#0098f3"/><stop offset="0.242" stop-color="#0096f4"/><stop offset="0.271" stop-color="#0094f6"/><stop offset="0.300" stop-color="#0093f7"/><stop offset="0.440" stop-color="#0090f9"/><stop offset="0.580" stop-color="#0090fa"/><stop offset="0.720" stop-color="#0090fa"/><stop offset="0.860" stop-color="#008ffa"/><stop offset="1.000" stop-color="#008ffa"/></linearGradient>
<linearGradient id="c71" gradientUnits="userSpaceOnUse" x1="0" y1="135.8" x2="0" y2="133.4"><stop offset="0.000" stop-color="#00bace"/><stop offset="0.167" stop-color="#00bbce"/><stop offset="0.333" stop-color="#00bbce"/><stop offset="0.500" stop-color="#00bbce"/><stop offset="0.667" stop-color="#00bbce"/><stop offset="0.833" stop-color="#00bbce"/><stop offset="1.000" stop-color="#00bbce"/></linearGradient>
<linearGradient id="s70" gradientUnits="userSpaceOnUse" x1="198.7" y1="0" x2="106.8" y2="0"><stop offset="0.040" stop-color="#00b8d4"/><stop offset="0.069" stop-color="#00afe1"/><stop offset="0.098" stop-color="#00a8e8"/><stop offset="0.127" stop-color="#00a2ec"/><stop offset="0.156" stop-color="#009def"/><stop offset="0.184" stop-color="#009af1"/><stop offset="0.213" stop-color="#0097f3"/><stop offset="0.242" stop-color="#0095f5"/><stop offset="0.271" stop-color="#0094f6"/><stop offset="0.300" stop-color="#0093f7"/><stop offset="0.440" stop-color="#0090f9"/><stop offset="0.580" stop-color="#0090fa"/><stop offset="0.720" stop-color="#008ffa"/><stop offset="0.860" stop-color="#008ffa"/><stop offset="1.000" stop-color="#008ffa"/></linearGradient>
<linearGradient id="c70" gradientUnits="userSpaceOnUse" x1="0" y1="139.8" x2="0" y2="134.8"><stop offset="0.000" stop-color="#00b0e1"/><stop offset="0.167" stop-color="#00b1df"/><stop offset="0.333" stop-color="#00b3dd"/><stop offset="0.500" stop-color="#00b4db"/><stop offset="0.667" stop-color="#00b5d8"/><stop offset="0.833" stop-color="#00b7d6"/><stop offset="1.000" stop-color="#00b8d4"/></linearGradient>
<linearGradient id="s69" gradientUnits="userSpaceOnUse" x1="197.7" y1="0" x2="105.8" y2="0"><stop offset="0.040" stop-color="#00b4dc"/><stop offset="0.069" stop-color="#00abe5"/><stop offset="0.098" stop-color="#00a5ea"/><stop offset="0.127" stop-color="#009fed"/><stop offset="0.156" stop-color="#009bf0"/><stop offset="0.184" stop-color="#0098f3"/><stop offset="0.213" stop-color="#0096f4"/><stop offset="0.242" stop-color="#0094f6"/><stop offset="0.271" stop-color="#0093f7"/><stop offset="0.300" stop-color="#0092f8"/><stop offset="0.440" stop-color="#0090f9"/><stop offset="0.580" stop-color="#0090fa"/><stop offset="0.720" stop-color="#008ffa"/><stop offset="0.860" stop-color="#008ffa"/><stop offset="1.000" stop-color="#008ffa"/></linearGradient>
<linearGradient id="c69" gradientUnits="userSpaceOnUse" x1="0" y1="143.6" x2="0" y2="136.7"><stop offset="0.000" stop-color="#00a3eb"/><stop offset="0.167" stop-color="#00a6e9"/><stop offset="0.333" stop-color="#00a9e7"/><stop offset="0.500" stop-color="#00ace5"/><stop offset="0.667" stop-color="#00afe2"/><stop offset="0.833" stop-color="#00b1df"/><stop offset="1.000" stop-color="#00b4dc"/></linearGradient>
<linearGradient id="s68" gradientUnits="userSpaceOnUse" x1="196.6" y1="0" x2="104.7" y2="0"><stop offset="0.040" stop-color="#00aee3"/><stop offset="0.069" stop-color="#00a7e9"/><stop offset="0.098" stop-color="#00a1ec"/><stop offset="0.127" stop-color="#009def"/><stop offset="0.156" stop-color="#0099f2"/><stop offset="0.184" stop-color="#0097f4"/><stop offset="0.213" stop-color="#0095f5"/><stop offset="0.242" stop-color="#0093f6"/><stop offset="0.271" stop-color="#0092f7"/><stop offset="0.300" stop-color="#0092f8"/><stop offset="0.440" stop-color="#0090f9"/><stop offset="0.580" stop-color="#008ffa"/><stop offset="0.720" stop-color="#008ffa"/><stop offset="0.860" stop-color="#008ffa"/><stop offset="1.000" stop-color="#008ffa"/></linearGradient>
<linearGradient id="c68" gradientUnits="userSpaceOnUse" x1="0" y1="146.8" x2="0" y2="138.8"><stop offset="0.000" stop-color="#0098f3"/><stop offset="0.167" stop-color="#009cf0"/><stop offset="0.333" stop-color="#00a0ed"/><stop offset="0.500" stop-color="#00a3eb"/><stop offset="0.667" stop-color="#00a7e9"/><stop offset="0.833" stop-color="#00aae6"/><stop offset="1.000" stop-color="#00aee3"/></linearGradient>
<linearGradient id="s67" gradientUnits="userSpaceOnUse" x1="195.5" y1="0" x2="103.6" y2="0"><stop offset="0.040" stop-color="#00a7e8"/><stop offset="0.069" stop-color="#00a2ec"/><stop offset="0.098" stop-color="#009def"/><stop offset="0.127" stop-color="#009af2"/><stop offset="0.156" stop-color="#0097f4"/><stop offset="0.184" stop-color="#0095f5"/><stop offset="0.213" stop-color="#0093f6"/><stop offset="0.242" stop-color="#0092f7"/><stop offset="0.271" stop-color="#0092f8"/><stop offset="0.300" stop-color="#0091f9"/><stop offset="0.440" stop-color="#0090fa"/><stop offset="0.580" stop-color="#008ffa"/><stop offset="0.720" stop-color="#008ffa"/><stop offset="0.860" stop-color="#008ffa"/><stop offset="1.000" stop-color="#008ffa"/></linearGradient>
<linearGradient id="c67" gradientUnits="userSpaceOnUse" x1="0" y1="149.8" x2="0" y2="140.9"><stop offset="0.000" stop-color="#008efb"/><stop offset="0.167" stop-color="#0092f8"/><stop offset="0.333" stop-color="#0097f4"/><stop offset="0.500" stop-color="#009bf1"/><stop offset="0.667" stop-color="#009fed"/><stop offset="0.833" stop-color="#00a3eb"/><stop offset="1.000" stop-color="#00a7e8"/></linearGradient>
<linearGradient id="s66" gradientUnits="userSpaceOnUse" x1="194.4" y1="0" x2="102.5" y2="0"><stop offset="0.040" stop-color="#00a1ec"/><stop offset="0.069" stop-color="#009def"/><stop offset="0.098" stop-color="#0099f2"/><stop offset="0.127" stop-color="#0097f4"/><stop offset="0.156" stop-color="#0095f5"/><stop offset="0.184" stop-color="#0093f7"/><stop offset="0.213" stop-color="#0092f7"/><stop offset="0.242" stop-color="#0091f8"/><stop offset="0.271" stop-color="#0091f9"/><stop offset="0.300" stop-color="#0090f9"/><stop offset="0.440" stop-color="#0090fa"/><stop offset="0.580" stop-color="#008ffa"/><stop offset="0.720" stop-color="#008ffa"/><stop offset="0.860" stop-color="#008ffa"/><stop offset="1.000" stop-color="#008ffa"/></linearGradient>
<linearGradient id="c66" gradientUnits="userSpaceOnUse" x1="0" y1="152.5" x2="0" y2="143.0"><stop offset="0.000" stop-color="#0083ff"/><stop offset="0.167" stop-color="#0089ff"/><stop offset="0.333" stop-color="#008efb"/><stop offset="0.500" stop-color="#0093f7"/><stop offset="0.667" stop-color="#0098f3"/><stop offset="0.833" stop-color="#009cef"/><stop offset="1.000" stop-color="#00a1ec"/></linearGradient>
<linearGradient id="s65" gradientUnits="userSpaceOnUse" x1="193.3" y1="0" x2="101.4" y2="0"><stop offset="0.040" stop-color="#009af2"/><stop offset="0.069" stop-color="#0097f4"/><stop offset="0.098" stop-color="#0095f5"/><stop offset="0.127" stop-color="#0093f6"/><stop offset="0.156" stop-color="#0092f7"/><stop offset="0.184" stop-color="#0091f8"/><stop offset="0.213" stop-color="#0091f9"/><stop offset="0.242" stop-color="#0090f9"/><stop offset="0.271" stop-color="#0090f9"/><stop offset="0.300" stop-color="#0090fa"/><stop offset="0.440" stop-color="#008ffa"/><stop offset="0.580" stop-color="#008ffa"/><stop offset="0.720" stop-color="#008ffa"/><stop offset="0.860" stop-color="#008ffa"/><stop offset="1.000" stop-color="#008ffa"/></linearGradient>
<linearGradient id="c65" gradientUnits="userSpaceOnUse" x1="0" y1="155.2" x2="0" y2="145.2"><stop offset="0.000" stop-color="#1378ff"/><stop offset="0.167" stop-color="#007eff"/><stop offset="0.333" stop-color="#0084ff"/><stop offset="0.500" stop-color="#008afe"/><stop offset="0.667" stop-color="#008ffa"/><stop offset="0.833" stop-color="#0095f5"/><stop offset="1.000" stop-color="#009af2"/></linearGradient>
<linearGradient id="s64" gradientUnits="userSpaceOnUse" x1="192.3" y1="0" x2="100.4" y2="0"><stop offset="0.040" stop-color="#0092f8"/><stop offset="0.069" stop-color="#0091f8"/><stop offset="0.098" stop-color="#0091f9"/><stop offset="0.127" stop-color="#0090f9"/><stop offset="0.156" stop-color="#0090fa"/><stop offset="0.184" stop-color="#0090fa"/><stop offset="0.213" stop-color="#008ffa"/><stop offset="0.242" stop-color="#008ffa"/><stop offset="0.271" stop-color="#008ffa"/><stop offset="0.300" stop-color="#008ffa"/><stop offset="0.440" stop-color="#008ffa"/><stop offset="0.580" stop-color="#008ffa"/><stop offset="0.720" stop-color="#008ffa"/><stop offset="0.860" stop-color="#008ffa"/><stop offset="1.000" stop-color="#008ffa"/></linearGradient>
<linearGradient id="c64" gradientUnits="userSpaceOnUse" x1="0" y1="158.1" x2="0" y2="147.5"><stop offset="0.000" stop-color="#346bff"/><stop offset="0.167" stop-color="#2772ff"/><stop offset="0.333" stop-color="#0e79ff"/><stop offset="0.500" stop-color="#0080ff"/><stop offset="0.667" stop-color="#0086ff"/><stop offset="0.833" stop-color="#008cfd"/><stop offset="1.000" stop-color="#0092f8"/></linearGradient>
<linearGradient id="s63" gradientUnits="userSpaceOnUse" x1="191.2" y1="0" x2="99.3" y2="0"><stop offset="0.040" stop-color="#008bfe"/><stop offset="0.069" stop-color="#008cfd"/><stop offset="0.098" stop-color="#008dfc"/><stop offset="0.127" stop-color="#008dfc"/><stop offset="0.156" stop-color="#008efb"/><stop offset="0.184" stop-color="#008efb"/><stop offset="0.213" stop-color="#008efb"/><stop offset="0.242" stop-color="#008efb"/><stop offset="0.271" stop-color="#008ffb"/><stop offset="0.300" stop-color="#008ffa"/><stop offset="0.440" stop-color="#008ffa"/><stop offset="0.580" stop-color="#008ffa"/><stop offset="0.720" stop-color="#008ffa"/><stop offset="0.860" stop-color="#008ffa"/><stop offset="1.000" stop-color="#008ffa"/></linearGradient>
<linearGradient id="c63" gradientUnits="userSpaceOnUse" x1="0" y1="161.1" x2="0" y2="149.5"><stop offset="0.000" stop-color="#3f5fff"/><stop offset="0.167" stop-color="#3966ff"/><stop offset="0.333" stop-color="#306eff"/><stop offset="0.500" stop-color="#1d75ff"/><stop offset="0.667" stop-color="#007dff"/><stop offset="0.833" stop-color="#0084ff"/><stop offset="1.000" stop-color="#008bfe"/></linearGradient>
<linearGradient id="s62" gradientUnits="userSpaceOnUse" x1="190.1" y1="0" x2="98.2" y2="0"><stop offset="0.040" stop-color="#0086ff"/><stop offset="0.069" stop-color="#0088ff"/><stop offset="0.098" stop-color="#008aff"/><stop offset="0.127" stop-color="#008bfe"/><stop offset="0.156" stop-color="#008cfd"/><stop offset="0.184" stop-color="#008dfc"/><stop offset="0.213" stop-color="#008dfc"/><stop offset="0.242" stop-color="#008efb"/><stop offset="0.271" stop-color="#008efb"/><stop offset="0.300" stop-color="#008efb"/><stop offset="0.440" stop-color="#008ffa"/><stop offset="0.580" stop-color="#008ffa"/><stop offset="0.720" stop-color="#008ffa"/><stop offset="0.860" stop-color="#008ffa"/><stop offset="1.000" stop-color="#008ffa"/></linearGradient>
<linearGradient id="c62" gradientUnits="userSpaceOnUse" x1="0" y1="163.0" x2="0" y2="151.0"><stop offset="0.000" stop-color="#4358ff"/><stop offset="0.167" stop-color="#3f5fff"/><stop offset="0.333" stop-color="#3967ff"/><stop offset="0.500" stop-color="#2e6eff"/><stop offset="0.667" stop-color="#1977ff"/><stop offset="0.833" stop-color="#007fff"/><stop offset="1.000" stop-color="#0086ff"/></linearGradient>
<linearGradient id="s61" gradientUnits="userSpaceOnUse" x1="189.0" y1="0" x2="97.1" y2="0"><stop offset="0.040" stop-color="#0082ff"/><stop offset="0.069" stop-color="#0085ff"/><stop offset="0.098" stop-color="#0087ff"/><stop offset="0.127" stop-color="#0089ff"/><stop offset="0.156" stop-color="#008bfe"/><stop offset="0.184" stop-color="#008cfd"/><stop offset="0.213" stop-color="#008dfc"/><stop offset="0.242" stop-color="#008dfc"/><stop offset="0.271" stop-color="#008efb"/><stop offset="0.300" stop-color="#008efb"/><stop offset="0.440" stop-color="#008ffa"/><stop offset="0.580" stop-color="#008ffa"/><stop offset="0.720" stop-color="#008ffa"/><stop offset="0.860" stop-color="#008ffa"/><stop offset="1.000" stop-color="#008ffa"/></linearGradient>
<linearGradient id="c61" gradientUnits="userSpaceOnUse" x1="0" y1="164.0" x2="0" y2="152.4"><stop offset="0.000" stop-color="#4455ff"/><stop offset="0.167" stop-color="#415cff"/><stop offset="0.333" stop-color="#3c63ff"/><stop offset="0.500" stop-color="#356bff"/><stop offset="0.667" stop-color="#2772ff"/><stop offset="0.833" stop-color="#067aff"/><stop offset="1.000" stop-color="#0082ff"/></linearGradient>
<linearGradient id="s60" gradientUnits="userSpaceOnUse" x1="187.9" y1="0" x2="96.0" y2="0"><stop offset="0.040" stop-color="#007eff"/><stop offset="0.069" stop-color="#0082ff"/><stop offset="0.098" stop-color="#0085ff"/><stop offset="0.127" stop-color="#0088ff"/><stop offset="0.156" stop-color="#008aff"/><stop offset="0.184" stop-color="#008bfe"/><stop offset="0.213" stop-color="#008cfd"/><stop offset="0.242" stop-color="#008dfc"/><stop offset="0.271" stop-color="#008dfc"/><stop offset="0.300" stop-color="#008efb"/><stop offset="0.440" stop-color="#008ffa"/><stop offset="0.580" stop-color="#008ffa"/><stop offset="0.720" stop-color="#008ffa"/><stop offset="0.860" stop-color="#008ffa"/><stop offset="1.000" stop-color="#008ffa"/></linearGradient>
<linearGradient id="c60" gradientUnits="userSpaceOnUse" x1="0" y1="164.8" x2="0" y2="153.6"><stop offset="0.000" stop-color="#4553fe"/><stop offset="0.167" stop-color="#425aff"/><stop offset="0.333" stop-color="#3e61ff"/><stop offset="0.500" stop-color="#3867ff"/><stop offset="0.667" stop-color="#2e6fff"/><stop offset="0.833" stop-color="#1b76ff"/><stop offset="1.000" stop-color="#007eff"/></linearGradient>
<linearGradient id="s59" gradientUnits="userSpaceOnUse" x1="186.9" y1="0" x2="95.0" y2="0"><stop offset="0.040" stop-color="#057aff"/><stop offset="0.069" stop-color="#0080ff"/><stop offset="0.098" stop-color="#0084ff"/><stop offset="0.127" stop-color="#0087ff"/><stop offset="0.156" stop-color="#0089ff"/><stop offset="0.184" stop-color="#008afe"/><stop offset="0.213" stop-color="#008bfd"/><stop offset="0.242" stop-color="#008cfc"/><stop offset="0.271" stop-color="#008dfc"/><stop offset="0.300" stop-color="#008efb"/><stop offset="0.440" stop-color="#008ffa"/><stop offset="0.580" stop-color="#008ffa"/><stop offset="0.720" stop-color="#008ffa"/><stop offset="0.860" stop-color="#008ffa"/><stop offset="1.000" stop-color="#008ffa"/></linearGradient>
<linearGradient id="c59" gradientUnits="userSpaceOnUse" x1="0" y1="165.4" x2="0" y2="154.6"><stop offset="0.000" stop-color="#4552fd"/><stop offset="0.167" stop-color="#4358ff"/><stop offset="0.333" stop-color="#405fff"/><stop offset="0.500" stop-color="#3a65ff"/><stop offset="0.667" stop-color="#326cff"/><stop offset="0.833" stop-color="#2473ff"/><stop offset="1.000" stop-color="#057aff"/></linearGradient>
<linearGradient id="s58" gradientUnits="userSpaceOnUse" x1="185.8" y1="0" x2="93.9" y2="0"><stop offset="0.040" stop-color="#0f79ff"/><stop offset="0.069" stop-color="#007fff"/><stop offset="0.098" stop-color="#0083ff"/><stop offset="0.127" stop-color="#0086ff"/><stop offset="0.156" stop-color="#0088ff"/><stop offset="0.184" stop-color="#008afe"/><stop offset="0.213" stop-color="#008bfd"/><stop offset="0.242" stop-color="#008cfd"/><stop offset="0.271" stop-color="#008dfc"/><stop offset="0.300" stop-color="#008dfb"/><stop offset="0.440" stop-color="#008ffa"/><stop offset="0.580" stop-color="#008ffa"/><stop offset="0.720" stop-color="#008ffa"/><stop offset="0.860" stop-color="#008ffa"/><stop offset="1.000" stop-color="#008ffa"/></linearGradient>
<linearGradient id="c58" gradientUnits="userSpaceOnUse" x1="0" y1="165.7" x2="0" y2="155.2"><stop offset="0.000" stop-color="#4552fd"/><stop offset="0.167" stop-color="#4358ff"/><stop offset="0.333" stop-color="#405eff"/><stop offset="0.500" stop-color="#3b65ff"/><stop offset="0.667" stop-color="#346bff"/><stop offset="0.833" stop-color="#2772ff"/><stop offset="1.000" stop-color="#0f79ff"/></linearGradient>
<linearGradient id="s57" gradientUnits="userSpaceOnUse" x1="184.7" y1="0" x2="92.8" y2="0"><stop offset="0.040" stop-color="#0d79ff"/><stop offset="0.069" stop-color="#007fff"/><stop offset="0.098" stop-color="#0083ff"/><stop offset="0.127" stop-color="#0086ff"/><stop offset="0.156" stop-color="#0088ff"/><stop offset="0.184" stop-color="#008afe"/><stop offset="0.213" stop-color="#008bfd"/><stop offset="0.242" stop-color="#008cfd"/><stop offset="0.271" stop-color="#008dfc"/><stop offset="0.300" stop-color="#008dfb"/><stop offset="0.440" stop-color="#008ffa"/><stop offset="0.580" stop-color="#008ffa"/><stop offset="0.720" stop-color="#008ffa"/><stop offset="0.860" stop-color="#008ffa"/><stop offset="1.000" stop-color="#008ffa"/></linearGradient>
<linearGradient id="c57" gradientUnits="userSpaceOnUse" x1="0" y1="165.2" x2="0" y2="155.5"><stop offset="0.000" stop-color="#4456ff"/><stop offset="0.167" stop-color="#415cff"/><stop offset="0.333" stop-color="#3e61ff"/><stop offset="0.500" stop-color="#3967ff"/><stop offset="0.667" stop-color="#316dff"/><stop offset="0.833" stop-color="#2573ff"/><stop offset="1.000" stop-color="#0d79ff"/></linearGradient>
<linearGradient id="s56" gradientUnits="userSpaceOnUse" x1="183.6" y1="0" x2="91.7" y2="0"><stop offset="0.040" stop-color="#007bff"/><stop offset="0.069" stop-color="#0080ff"/><stop offset="0.098" stop-color="#0084ff"/><stop offset="0.127" stop-color="#0087ff"/><stop offset="0.156" stop-color="#0089ff"/><stop offset="0.184" stop-color="#008afe"/><stop offset="0.213" stop-color="#008bfd"/><stop offset="0.242" stop-color="#008cfc"/><stop offset="0.271" stop-color="#008dfc"/><stop offset="0.300" stop-color="#008efb"/><stop offset="0.440" stop-color="#008ffa"/><stop offset="0.580" stop-color="#008ffa"/><stop offset="0.720" stop-color="#008ffa"/><stop offset="0.860" stop-color="#008ffa"/><stop offset="1.000" stop-color="#008ffa"/></linearGradient>
<linearGradient id="c56" gradientUnits="userSpaceOnUse" x1="0" y1="163.9" x2="0" y2="155.5"><stop offset="0.000" stop-color="#405dff"/><stop offset="0.167" stop-color="#3d62ff"/><stop offset="0.333" stop-color="#3967ff"/><stop offset="0.500" stop-color="#336cff"/><stop offset="0.667" stop-color="#2a71ff"/><stop offset="0.833" stop-color="#1c76ff"/><stop offset="1.000" stop-color="#007bff"/></linearGradient>
<linearGradient id="s55" gradientUnits="userSpaceOnUse" x1="182.5" y1="0" x2="90.6" y2="0"><stop offset="0.040" stop-color="#007eff"/><stop offset="0.069" stop-color="#0082ff"/><stop offset="0.098" stop-color="#0085ff"/><stop offset="0.127" stop-color="#0088ff"/><stop offset="0.156" stop-color="#008aff"/><stop offset="0.184" stop-color="#008bfe"/><stop offset="0.213" stop-color="#008cfd"/><stop offset="0.242" stop-color="#008dfc"/><stop offset="0.271" stop-color="#008dfc"/><stop offset="0.300" stop-color="#008efb"/><stop offset="0.440" stop-color="#008ffa"/><stop offset="0.580" stop-color="#008ffa"/><stop offset="0.720" stop-color="#008ffa"/><stop offset="0.860" stop-color="#008ffa"/><stop offset="1.000" stop-color="#008ffa"/></linearGradient>
<linearGradient id="c55" gradientUnits="userSpaceOnUse" x1="0" y1="162.1" x2="0" y2="155.3"><stop offset="0.000" stop-color="#3867ff"/><stop offset="0.167" stop-color="#346bff"/><stop offset="0.333" stop-color="#2e6fff"/><stop offset="0.500" stop-color="#2672ff"/><stop offset="0.667" stop-color="#1b76ff"/><stop offset="0.833" stop-color="#087aff"/><stop offset="1.000" stop-color="#007eff"/></linearGradient>
<linearGradient id="s54" gradientUnits="userSpaceOnUse" x1="181.5" y1="0" x2="89.6" y2="0"><stop offset="0.040" stop-color="#0080ff"/><stop offset="0.069" stop-color="#0084ff"/><stop offset="0.098" stop-color="#0087ff"/><stop offset="0.127" stop-color="#0089ff"/><stop offset="0.156" stop-color="#008afe"/><stop offset="0.184" stop-color="#008bfd"/><stop offset="0.213" stop-color="#008cfc"/><stop offset="0.242" stop-color="#008dfc"/><stop offset="0.271" stop-color="#008efb"/><stop offset="0.300" stop-color="#008efb"/><stop offset="0.440" stop-color="#008ffa"/><stop offset="0.580" stop-color="#008ffa"/><stop offset="0.720" stop-color="#008ffa"/><stop offset="0.860" stop-color="#008ffa"/><stop offset="1.000" stop-color="#008ffa"/></linearGradient>
<linearGradient id="c54" gradientUnits="userSpaceOnUse" x1="0" y1="160.1" x2="0" y2="155.1"><stop offset="0.000" stop-color="#2473ff"/><stop offset="0.167" stop-color="#1e75ff"/><stop offset="0.333" stop-color="#1578ff"/><stop offset="0.500" stop-color="#087aff"/><stop offset="0.667" stop-color="#007cff"/><stop offset="0.833" stop-color="#007eff"/><stop offset="1.000" stop-color="#0080ff"/></linearGradient>
<linearGradient id="s53" gradientUnits="userSpaceOnUse" x1="180.4" y1="0" x2="88.5" y2="0"><stop offset="0.040" stop-color="#0083ff"/><stop offset="0.069" stop-color="#0086ff"/><stop offset="0.098" stop-color="#0088ff"/><stop offset="0.127" stop-color="#008afe"/><stop offset="0.156" stop-color="#008bfd"/><stop offset="0.184" stop-color="#008cfd"/><stop offset="0.213" stop-color="#008dfc"/><stop offset="0.242" stop-color="#008dfc"/><stop offset="0.271" stop-color="#008efb"/><stop offset="0.300" stop-color="#008efb"/><stop offset="0.440" stop-color="#008ffa"/><stop offset="0.580" stop-color="#008ffa"/><stop offset="0.720" stop-color="#008ffa"/><stop offset="0.860" stop-color="#008ffa"/><stop offset="1.000" stop-color="#008ffa"/></linearGradient>
<linearGradient id="c53" gradientUnits="userSpaceOnUse" x1="0" y1="158.0" x2="0" y2="154.8"><stop offset="0.000" stop-color="#007fff"/><stop offset="0.167" stop-color="#0080ff"/><stop offset="0.333" stop-color="#0080ff"/><stop offset="0.500" stop-color="#0081ff"/><stop offset="0.667" stop-color="#0082ff"/><stop offset="0.833" stop-color="#0082ff"/><stop offset="1.000" stop-color="#0083ff"/></linearGradient>
<linearGradient id="s52" gradientUnits="userSpaceOnUse" x1="179.3" y1="0" x2="87.4" y2="0"><stop offset="0.040" stop-color="#0086ff"/><stop offset="0.069" stop-color="#0088ff"/><stop offset="0.098" stop-color="#008afe"/><stop offset="0.127" stop-color="#008bfd"/><stop offset="0.156" stop-color="#008cfd"/><stop offset="0.184" stop-color="#008dfc"/><stop offset="0.213" stop-color="#008dfc"/><stop offset="0.242" stop-color="#008efb"/><stop offset="0.271" stop-color="#008efb"/><stop offset="0.300" stop-color="#008efb"/><stop offset="0.440" stop-color="#008ffa"/><stop offset="0.580" stop-color="#008ffa"/><stop offset="0.720" stop-color="#008ffa"/><stop offset="0.860" stop-color="#008ffa"/><stop offset="1.000" stop-color="#008ffa"/></linearGradient>
<linearGradient id="c52" gradientUnits="userSpaceOnUse" x1="0" y1="155.9" x2="0" y2="154.5"><stop offset="0.000" stop-color="#008afe"/><stop offset="0.167" stop-color="#0089ff"/><stop offset="0.333" stop-color="#0089ff"/><stop offset="0.500" stop-color="#0088ff"/><stop offset="0.667" stop-color="#0087ff"/><stop offset="0.833" stop-color="#0087ff"/><stop offset="1.000" stop-color="#0086ff"/></linearGradient>
<linearGradient id="s51" gradientUnits="userSpaceOnUse" x1="178.2" y1="0" x2="86.3" y2="0"><stop offset="0.040" stop-color="#008aff"/><stop offset="0.069" stop-color="#008bfe"/><stop offset="0.098" stop-color="#008cfd"/><stop offset="0.127" stop-color="#008dfc"/><stop offset="0.156" stop-color="#008dfc"/><stop offset="0.184" stop-color="#008efb"/><stop offset="0.213" stop-color="#008efb"/><stop offset="0.242" stop-color="#008efb"/><stop offset="0.271" stop-color="#008efb"/><stop offset="0.300" stop-color="#008ffb"/><stop offset="0.440" stop-color="#008ffa"/><stop offset="0.580" stop-color="#008ffa"/><stop offset="0.720" stop-color="#008ffa"/><stop offset="0.860" stop-color="#008ffa"/><stop offset="1.000" stop-color="#008ffa"/></linearGradient>
<linearGradient id="c51" gradientUnits="userSpaceOnUse" x1="0" y1="153.3" x2="0" y2="154.1"><stop offset="0.000" stop-color="#0096f4"/><stop offset="0.167" stop-color="#0094f6"/><stop offset="0.333" stop-color="#0092f7"/><stop offset="0.500" stop-color="#0090f9"/><stop offset="0.667" stop-color="#008efb"/><stop offset="0.833" stop-color="#008cfd"/><stop offset="1.000" stop-color="#008aff"/></linearGradient>
<linearGradient id="s50" gradientUnits="userSpaceOnUse" x1="177.1" y1="0" x2="85.2" y2="0"><stop offset="0.040" stop-color="#008dfc"/><stop offset="0.069" stop-color="#008efb"/><stop offset="0.098" stop-color="#008efb"/><stop offset="0.127" stop-color="#008efb"/><stop offset="0.156" stop-color="#008efb"/><stop offset="0.184" stop-color="#008efb"/><stop offset="0.213" stop-color="#008ffb"/><stop offset="0.242" stop-color="#008ffa"/><stop offset="0.271" stop-color="#008ffa"/><stop offset="0.300" stop-color="#008ffa"/><stop offset="0.440" stop-color="#008ffa"/><stop offset="0.580" stop-color="#008ffa"/><stop offset="0.720" stop-color="#008ffa"/><stop offset="0.860" stop-color="#008ffa"/><stop offset="1.000" stop-color="#008ffa"/></linearGradient>
<linearGradient id="c50" gradientUnits="userSpaceOnUse" x1="0" y1="150.4" x2="0" y2="153.6"><stop offset="0.000" stop-color="#00a3eb"/><stop offset="0.167" stop-color="#00a0ed"/><stop offset="0.333" stop-color="#009cf0"/><stop offset="0.500" stop-color="#0099f2"/><stop offset="0.667" stop-color="#0095f5"/><stop offset="0.833" stop-color="#0091f8"/><stop offset="1.000" stop-color="#008dfc"/></linearGradient>
<linearGradient id="s49" gradientUnits="userSpaceOnUse" x1="176.1" y1="0" x2="84.2" y2="0"><stop offset="0.040" stop-color="#0091f8"/><stop offset="0.069" stop-color="#0091f9"/><stop offset="0.098" stop-color="#0090f9"/><stop offset="0.127" stop-color="#0090fa"/><stop offset="0.156" stop-color="#0090fa"/><stop offset="0.184" stop-color="#008ffa"/><stop offset="0.213" stop-color="#008ffa"/><stop offset="0.242" stop-color="#008ffa"/><stop offset="0.271" stop-color="#008ffa"/><stop offset="0.300" stop-color="#008ffa"/><stop offset="0.440" stop-color="#008ffa"/><stop offset="0.580" stop-color="#008ffa"/><stop offset="0.720" stop-color="#008ffa"/><stop offset="0.860" stop-color="#008ffa"/><stop offset="1.000" stop-color="#008ffa"/></linearGradient>
<linearGradient id="c49" gradientUnits="userSpaceOnUse" x1="0" y1="147.4" x2="0" y2="153.0"><stop offset="0.000" stop-color="#00afe2"/><stop offset="0.167" stop-color="#00aae6"/><stop offset="0.333" stop-color="#00a6e9"/><stop offset="0.500" stop-color="#00a1ec"/><stop offset="0.667" stop-color="#009cf0"/><stop offset="0.833" stop-color="#0097f4"/><stop offset="1.000" stop-color="#0091f8"/></linearGradient>
<linearGradient id="s48" gradientUnits="userSpaceOnUse" x1="175.0" y1="0" x2="83.1" y2="0"><stop offset="0.040" stop-color="#0095f5"/><stop offset="0.069" stop-color="#0094f6"/><stop offset="0.098" stop-color="#0092f7"/><stop offset="0.127" stop-color="#0091f8"/><stop offset="0.156" stop-color="#0091f9"/><stop offset="0.184" stop-color="#0090f9"/><stop offset="0.213" stop-color="#0090f9"/><stop offset="0.242" stop-color="#0090fa"/><stop offset="0.271" stop-color="#0090fa"/><stop offset="0.300" stop-color="#008ffa"/><stop offset="0.440" stop-color="#008ffa"/><stop offset="0.580" stop-color="#008ffa"/><stop offset="0.720" stop-color="#008ffa"/><stop offset="0.860" stop-color="#008ffa"/><stop offset="1.000" stop-color="#008ffa"/></linearGradient>
<linearGradient id="c48" gradientUnits="userSpaceOnUse" x1="0" y1="144.4" x2="0" y2="152.3"><stop offset="0.000" stop-color="#00b9d2"/><stop offset="0.167" stop-color="#00b4db"/><stop offset="0.333" stop-color="#00afe2"/><stop offset="0.500" stop-color="#00a9e8"/><stop offset="0.667" stop-color="#00a2eb"/><stop offset="0.833" stop-color="#009cf0"/><stop offset="1.000" stop-color="#0095f5"/></linearGradient>
<linearGradient id="s47" gradientUnits="userSpaceOnUse" x1="173.9" y1="0" x2="82.0" y2="0"><stop offset="0.040" stop-color="#0099f2"/><stop offset="0.069" stop-color="#0097f4"/><stop offset="0.098" stop-color="#0095f5"/><stop offset="0.127" stop-color="#0093f7"/><stop offset="0.156" stop-color="#0092f8"/><stop offset="0.184" stop-color="#0091f8"/><stop offset="0.213" stop-color="#0091f9"/><stop offset="0.242" stop-color="#0090f9"/><stop offset="0.271" stop-color="#0090f9"/><stop offset="0.300" stop-color="#0090fa"/><stop offset="0.440" stop-color="#008ffa"/><stop offset="0.580" stop-color="#008ffa"/><stop offset="0.720" stop-color="#008ffa"/><stop offset="0.860" stop-color="#008ffa"/><stop offset="1.000" stop-color="#008ffa"/></linearGradient>
<linearGradient id="c47" gradientUnits="userSpaceOnUse" x1="0" y1="141.6" x2="0" y2="151.7"><stop offset="0.000" stop-color="#00c0c0"/><stop offset="0.167" stop-color="#00bbcc"/><stop offset="0.333" stop-color="#00b6d7"/><stop offset="0.500" stop-color="#00b0e1"/><stop offset="0.667" stop-color="#00a9e7"/><stop offset="0.833" stop-color="#00a1ec"/><stop offset="1.000" stop-color="#0099f2"/></linearGradient>
<linearGradient id="s46" gradientUnits="userSpaceOnUse" x1="172.8" y1="0" x2="80.9" y2="0"><stop offset="0.040" stop-color="#009def"/><stop offset="0.069" stop-color="#009af2"/><stop offset="0.098" stop-color="#0097f4"/><stop offset="0.127" stop-color="#0095f5"/><stop offset="0.156" stop-color="#0093f6"/><stop offset="0.184" stop-color="#0092f7"/><stop offset="0.213" stop-color="#0091f8"/><stop offset="0.242" stop-color="#0091f9"/><stop offset="0.271" stop-color="#0090f9"/><stop offset="0.300" stop-color="#0090f9"/><stop offset="0.440" stop-color="#008ffa"/><stop offset="0.580" stop-color="#008ffa"/><stop offset="0.720" stop-color="#008ffa"/><stop offset="0.860" stop-color="#008ffa"/><stop offset="1.000" stop-color="#008ffa"/></linearGradient>
<linearGradient id="c46" gradientUnits="userSpaceOnUse" x1="0" y1="138.6" x2="0" y2="151.0"><stop offset="0.000" stop-color="#00c5ac"/><stop offset="0.167" stop-color="#00c1bb"/><stop offset="0.333" stop-color="#00bcca"/><stop offset="0.500" stop-color="#00b6d7"/><stop offset="0.667" stop-color="#00afe2"/><stop offset="0.833" stop-color="#00a6e9"/><stop offset="1.000" stop-color="#009def"/></linearGradient>
<linearGradient id="s45" gradientUnits="userSpaceOnUse" x1="171.7" y1="0" x2="79.8" y2="0"><stop offset="0.040" stop-color="#00a1ec"/><stop offset="0.069" stop-color="#009cef"/><stop offset="0.098" stop-color="#0099f2"/><stop offset="0.127" stop-color="#0097f4"/><stop offset="0.156" stop-color="#0095f5"/><stop offset="0.184" stop-color="#0093f7"/><stop offset="0.213" stop-color="#0092f8"/><stop offset="0.242" stop-color="#0091f8"/><stop offset="0.271" stop-color="#0091f9"/><stop offset="0.300" stop-color="#0090f9"/><stop offset="0.440" stop-color="#0090fa"/><stop offset="0.580" stop-color="#008ffa"/><stop offset="0.720" stop-color="#008ffa"/><stop offset="0.860" stop-color="#008ffa"/><stop offset="1.000" stop-color="#008ffa"/></linearGradient>
<linearGradient id="c45" gradientUnits="userSpaceOnUse" x1="0" y1="135.6" x2="0" y2="150.4"><stop offset="0.000" stop-color="#00cb94"/><stop offset="0.167" stop-color="#00c6a9"/><stop offset="0.333" stop-color="#00c2ba"/><stop offset="0.500" stop-color="#00bccb"/><stop offset="0.667" stop-color="#00b4da"/><stop offset="0.833" stop-color="#00abe6"/><stop offset="1.000" stop-color="#00a1ec"/></linearGradient>
<linearGradient id="s44" gradientUnits="userSpaceOnUse" x1="170.7" y1="0" x2="78.8" y2="0"><stop offset="0.040" stop-color="#00a4ea"/><stop offset="0.069" stop-color="#009fed"/><stop offset="0.098" stop-color="#009bf0"/><stop offset="0.127" stop-color="#0098f3"/><stop offset="0.156" stop-color="#0096f5"/><stop offset="0.184" stop-color="#0094f6"/><stop offset="0.213" stop-color="#0093f7"/><stop offset="0.242" stop-color="#0092f8"/><stop offset="0.271" stop-color="#0091f8"/><stop offset="0.300" stop-color="#0091f9"/><stop offset="0.440" stop-color="#0090fa"/><stop offset="0.580" stop-color="#008ffa"/><stop offset="0.720" stop-color="#008ffa"/><stop offset="0.860" stop-color="#008ffa"/><stop offset="1.000" stop-color="#008ffa"/></linearGradient>
<linearGradient id="c44" gradientUnits="userSpaceOnUse" x1="0" y1="132.2" x2="0" y2="149.9"><stop offset="0.000" stop-color="#00cf73"/><stop offset="0.167" stop-color="#00cc91"/><stop offset="0.333" stop-color="#00c6a9"/><stop offset="0.500" stop-color="#00c1be"/><stop offset="0.667" stop-color="#00b9d1"/><stop offset="0.833" stop-color="#00b0e1"/><stop offset="1.000" stop-color="#00a4ea"/></linearGradient>
<linearGradient id="s43" gradientUnits="userSpaceOnUse" x1="169.6" y1="0" x2="77.7" y2="0"><stop offset="0.040" stop-color="#00a8e8"/><stop offset="0.069" stop-color="#00a2ec"/><stop offset="0.098" stop-color="#009def"/><stop offset="0.127" stop-color="#009af2"/><stop offset="0.156" stop-color="#0097f4"/><stop offset="0.184" stop-color="#0095f5"/><stop offset="0.213" stop-color="#0093f6"/><stop offset="0.242" stop-color="#0092f7"/><stop offset="0.271" stop-color="#0092f8"/><stop offset="0.300" stop-color="#0091f9"/><stop offset="0.440" stop-color="#0090fa"/><stop offset="0.580" stop-color="#008ffa"/><stop offset="0.720" stop-color="#008ffa"/><stop offset="0.860" stop-color="#008ffa"/><stop offset="1.000" stop-color="#008ffa"/></linearGradient>
<linearGradient id="c43" gradientUnits="userSpaceOnUse" x1="0" y1="128.4" x2="0" y2="149.3"><stop offset="0.000" stop-color="#68ce42"/><stop offset="0.167" stop-color="#00cf70"/><stop offset="0.333" stop-color="#00cc93"/><stop offset="0.500" stop-color="#00c5ae"/><stop offset="0.667" stop-color="#00bec6"/><stop offset="0.833" stop-color="#00b4da"/><stop offset="1.000" stop-color="#00a8e8"/></linearGradient>
<linearGradient id="s42" gradientUnits="userSpaceOnUse" x1="168.5" y1="0" x2="76.6" y2="0"><stop offset="0.040" stop-color="#00abe6"/><stop offset="0.069" stop-color="#00a4ea"/><stop offset="0.098" stop-color="#009fee"/><stop offset="0.127" stop-color="#009bf1"/><stop offset="0.156" stop-color="#0098f3"/><stop offset="0.184" stop-color="#0096f5"/><stop offset="0.213" stop-color="#0094f6"/><stop offset="0.242" stop-color="#0093f7"/><stop offset="0.271" stop-color="#0092f8"/><stop offset="0.300" stop-color="#0091f8"/><stop offset="0.440" stop-color="#0090fa"/><stop offset="0.580" stop-color="#008ffa"/><stop offset="0.720" stop-color="#008ffa"/><stop offset="0.860" stop-color="#008ffa"/><stop offset="1.000" stop-color="#008ffa"/></linearGradient>
<linearGradient id="c42" gradientUnits="userSpaceOnUse" x1="0" y1="124.0" x2="0" y2="148.8"><stop offset="0.000" stop-color="#b1c600"/><stop offset="0.167" stop-color="#6bce40"/><stop offset="0.333" stop-color="#00cf75"/><stop offset="0.500" stop-color="#00ca9b"/><stop offset="0.667" stop-color="#00c2b9"/><stop offset="0.833" stop-color="#00b8d3"/><stop offset="1.000" stop-color="#00abe6"/></linearGradient>
<linearGradient id="s41" gradientUnits="userSpaceOnUse" x1="167.4" y1="0" x2="75.5" y2="0"><stop offset="0.040" stop-color="#00aee3"/><stop offset="0.069" stop-color="#00a7e9"/><stop offset="0.098" stop-color="#00a1ec"/><stop offset="0.127" stop-color="#009cef"/><stop offset="0.156" stop-color="#0099f2"/><stop offset="0.184" stop-color="#0097f4"/><stop offset="0.213" stop-color="#0095f5"/><stop offset="0.242" stop-color="#0093f7"/><stop offset="0.271" stop-color="#0092f7"/><stop offset="0.300" stop-color="#0091f8"/><stop offset="0.440" stop-color="#0090fa"/><stop offset="0.580" stop-color="#008ffa"/><stop offset="0.720" stop-color="#008ffa"/><stop offset="0.860" stop-color="#008ffa"/><stop offset="1.000" stop-color="#008ffa"/></linearGradient>
<linearGradient id="c41" gradientUnits="userSpaceOnUse" x1="0" y1="120.0" x2="0" y2="148.3"><stop offset="0.000" stop-color="#e4bb00"/><stop offset="0.167" stop-color="#a7c700"/><stop offset="0.333" stop-color="#50cf51"/><stop offset="0.500" stop-color="#00ce86"/><stop offset="0.667" stop-color="#00c5ac"/><stop offset="0.833" stop-color="#00bccb"/><stop offset="1.000" stop-color="#00aee3"/></linearGradient>
<linearGradient id="s40" gradientUnits="userSpaceOnUse" x1="166.3" y1="0" x2="74.4" y2="0"><stop offset="0.040" stop-color="#00b1e0"/><stop offset="0.069" stop-color="#00a9e7"/><stop offset="0.098" stop-color="#00a3eb"/><stop offset="0.127" stop-color="#009eee"/><stop offset="0.156" stop-color="#009af1"/><stop offset="0.184" stop-color="#0098f3"/><stop offset="0.213" stop-color="#0095f5"/><stop offset="0.242" stop-color="#0094f6"/><stop offset="0.271" stop-color="#0093f7"/><stop offset="0.300" stop-color="#0092f8"/><stop offset="0.440" stop-color="#0090f9"/><stop offset="0.580" stop-color="#008ffa"/><stop offset="0.720" stop-color="#008ffa"/><stop offset="0.860" stop-color="#008ffa"/><stop offset="1.000" stop-color="#008ffa"/></linearGradient>
<linearGradient id="c40" gradientUnits="userSpaceOnUse" x1="0" y1="116.6" x2="0" y2="147.7"><stop offset="0.000" stop-color="#ffb700"/><stop offset="0.167" stop-color="#d1bf00"/><stop offset="0.333" stop-color="#85cc29"/><stop offset="0.500" stop-color="#00cf70"/><stop offset="0.667" stop-color="#00c9a0"/><stop offset="0.833" stop-color="#00bfc3"/><stop offset="1.000" stop-color="#00b1e0"/></linearGradient>
<linearGradient id="s39" gradientUnits="userSpaceOnUse" x1="165.3" y1="0" x2="73.4" y2="0"><stop offset="0.040" stop-color="#00b3dc"/><stop offset="0.069" stop-color="#00abe6"/><stop offset="0.098" stop-color="#00a5ea"/><stop offset="0.127" stop-color="#009fed"/><stop offset="0.156" stop-color="#009bf0"/><stop offset="0.184" stop-color="#0098f3"/><stop offset="0.213" stop-color="#0096f4"/><stop offset="0.242" stop-color="#0094f6"/><stop offset="0.271" stop-color="#0093f7"/><stop offset="0.300" stop-color="#0092f8"/><stop offset="0.440" stop-color="#0090f9"/><stop offset="0.580" stop-color="#008ffa"/><stop offset="0.720" stop-color="#008ffa"/><stop offset="0.860" stop-color="#008ffa"/><stop offset="1.000" stop-color="#008ffa"/></linearGradient>
<linearGradient id="c39" gradientUnits="userSpaceOnUse" x1="0" y1="114.1" x2="0" y2="147.2"><stop offset="0.000" stop-color="#ffc200"/><stop offset="0.167" stop-color="#ebba00"/><stop offset="0.333" stop-color="#a6c800"/><stop offset="0.500" stop-color="#3ad05b"/><stop offset="0.667" stop-color="#00cb94"/><stop offset="0.833" stop-color="#00c1bc"/><stop offset="1.000" stop-color="#00b3dc"/></linearGradient>
<linearGradient id="s38" gradientUnits="userSpaceOnUse" x1="164.2" y1="0" x2="72.3" y2="0"><stop offset="0.040" stop-color="#00b6d8"/><stop offset="0.069" stop-color="#00aee3"/><stop offset="0.098" stop-color="#00a6e9"/><stop offset="0.127" stop-color="#00a1ec"/><stop offset="0.156" stop-color="#009cef"/><stop offset="0.184" stop-color="#0099f2"/><stop offset="0.213" stop-color="#0097f4"/><stop offset="0.242" stop-color="#0095f5"/><stop offset="0.271" stop-color="#0093f7"/><stop offset="0.300" stop-color="#0092f7"/><stop offset="0.440" stop-color="#0090f9"/><stop offset="0.580" stop-color="#008ffa"/><stop offset="0.720" stop-color="#008ffa"/><stop offset="0.860" stop-color="#008ffa"/><stop offset="1.000" stop-color="#008ffa"/></linearGradient>
<linearGradient id="c38" gradientUnits="userSpaceOnUse" x1="0" y1="112.1" x2="0" y2="146.7"><stop offset="0.000" stop-color="#ffce00"/><stop offset="0.167" stop-color="#fdb700"/><stop offset="0.333" stop-color="#bfc300"/><stop offset="0.500" stop-color="#60ce47"/><stop offset="0.667" stop-color="#00cd89"/><stop offset="0.833" stop-color="#00c3b5"/><stop offset="1.000" stop-color="#00b6d8"/></linearGradient>
<linearGradient id="s37" gradientUnits="userSpaceOnUse" x1="163.1" y1="0" x2="71.2" y2="0"><stop offset="0.040" stop-color="#00b8d3"/><stop offset="0.069" stop-color="#00b0e1"/><stop offset="0.098" stop-color="#00a8e8"/><stop offset="0.127" stop-color="#00a2eb"/><stop offset="0.156" stop-color="#009eee"/><stop offset="0.184" stop-color="#009af1"/><stop offset="0.213" stop-color="#0097f3"/><stop offset="0.242" stop-color="#0095f5"/><stop offset="0.271" stop-color="#0094f6"/><stop offset="0.300" stop-color="#0093f7"/><stop offset="0.440" stop-color="#0090f9"/><stop offset="0.580" stop-color="#008ffa"/><stop offset="0.720" stop-color="#008ffa"/><stop offset="0.860" stop-color="#008ffa"/><stop offset="1.000" stop-color="#008ffa"/></linearGradient>
<linearGradient id="c37" gradientUnits="userSpaceOnUse" x1="0" y1="110.1" x2="0" y2="146.1"><stop offset="0.000" stop-color="#fddb00"/><stop offset="0.167" stop-color="#ffba00"/><stop offset="0.333" stop-color="#d5be00"/><stop offset="0.500" stop-color="#7dcc30"/><stop offset="0.667" stop-color="#00cf7c"/><stop offset="0.833" stop-color="#00c5ad"/><stop offset="1.000" stop-color="#00b8d3"/></linearGradient>
<linearGradient id="s36" gradientUnits="userSpaceOnUse" x1="162.0" y1="0" x2="70.1" y2="0"><stop offset="0.040" stop-color="#00bbce"/><stop offset="0.069" stop-color="#00b2de"/><stop offset="0.098" stop-color="#00aae6"/><stop offset="0.127" stop-color="#00a4eb"/><stop offset="0.156" stop-color="#009fee"/><stop offset="0.184" stop-color="#009bf1"/><stop offset="0.213" stop-color="#0098f3"/><stop offset="0.242" stop-color="#0096f5"/><stop offset="0.271" stop-color="#0094f6"/><stop offset="0.300" stop-color="#0093f7"/><stop offset="0.440" stop-color="#0090f9"/><stop offset="0.580" stop-color="#008ffa"/><stop offset="0.720" stop-color="#008ffa"/><stop offset="0.860" stop-color="#008ffa"/><stop offset="1.000" stop-color="#008ffa"/></linearGradient>
<linearGradient id="c36" gradientUnits="userSpaceOnUse" x1="0" y1="108.1" x2="0" y2="145.5"><stop offset="0.000" stop-color="#f8e700"/><stop offset="0.167" stop-color="#ffc400"/><stop offset="0.333" stop-color="#e9ba00"/><stop offset="0.500" stop-color="#98ca09"/><stop offset="0.667" stop-color="#00cf6f"/><stop offset="0.833" stop-color="#00c7a6"/><stop offset="1.000" stop-color="#00bbce"/></linearGradient>
<linearGradient id="s35" gradientUnits="userSpaceOnUse" x1="160.9" y1="0" x2="69.0" y2="0"><stop offset="0.040" stop-color="#00bdc9"/><stop offset="0.069" stop-color="#00b4db"/><stop offset="0.098" stop-color="#00ace5"/><stop offset="0.127" stop-color="#00a5ea"/><stop offset="0.156" stop-color="#00a0ed"/><stop offset="0.184" stop-color="#009cf0"/><stop offset="0.213" stop-color="#0099f2"/><stop offset="0.242" stop-color="#0096f4"/><stop offset="0.271" stop-color="#0094f6"/><stop offset="0.300" stop-color="#0093f7"/><stop offset="0.440" stop-color="#0090f9"/><stop offset="0.580" stop-color="#008ffa"/><stop offset="0.720" stop-color="#008ffa"/><stop offset="0.860" stop-color="#008ffa"/><stop offset="1.000" stop-color="#008ffa"/></linearGradient>
<linearGradient id="c35" gradientUnits="userSpaceOnUse" x1="0" y1="106.5" x2="0" y2="145.0"><stop offset="0.000" stop-color="#f7f000"/><stop offset="0.167" stop-color="#ffcd00"/><stop offset="0.333" stop-color="#f6b800"/><stop offset="0.500" stop-color="#acc600"/><stop offset="0.667" stop-color="#2cd061"/><stop offset="0.833" stop-color="#00c99e"/><stop offset="1.000" stop-color="#00bdc9"/></linearGradient>
<linearGradient id="s34" gradientUnits="userSpaceOnUse" x1="159.9" y1="0" x2="68.0" y2="0"><stop offset="0.040" stop-color="#00bfc3"/><stop offset="0.069" stop-color="#00b6d7"/><stop offset="0.098" stop-color="#00aee3"/><stop offset="0.127" stop-color="#00a7e9"/><stop offset="0.156" stop-color="#00a1ec"/><stop offset="0.184" stop-color="#009def"/><stop offset="0.213" stop-color="#0099f2"/><stop offset="0.242" stop-color="#0097f4"/><stop offset="0.271" stop-color="#0095f5"/><stop offset="0.300" stop-color="#0093f6"/><stop offset="0.440" stop-color="#0090f9"/><stop offset="0.580" stop-color="#008ffa"/><stop offset="0.720" stop-color="#008ffa"/><stop offset="0.860" stop-color="#008ffa"/><stop offset="1.000" stop-color="#008ffa"/></linearGradient>
<linearGradient id="c34" gradientUnits="userSpaceOnUse" x1="0" y1="105.6" x2="0" y2="144.4"><stop offset="0.000" stop-color="#f8f700"/><stop offset="0.167" stop-color="#ffd400"/><stop offset="0.333" stop-color="#ffb700"/><stop offset="0.500" stop-color="#bbc400"/><stop offset="0.667" stop-color="#49cf54"/><stop offset="0.833" stop-color="#00cb97"/><stop offset="1.000" stop-color="#00bfc3"/></linearGradient>
<linearGradient id="s33" gradientUnits="userSpaceOnUse" x1="158.8" y1="0" x2="66.9" y2="0"><stop offset="0.040" stop-color="#00c1be"/><stop offset="0.069" stop-color="#00b8d4"/><stop offset="0.098" stop-color="#00b0e1"/><stop offset="0.127" stop-color="#00a8e8"/><stop offset="0.156" stop-color="#00a2ec"/><stop offset="0.184" stop-color="#009def"/><stop offset="0.213" stop-color="#009af1"/><stop offset="0.242" stop-color="#0097f3"/><stop offset="0.271" stop-color="#0095f5"/><stop offset="0.300" stop-color="#0094f6"/><stop offset="0.440" stop-color="#0090f9"/><stop offset="0.580" stop-color="#0090fa"/><stop offset="0.720" stop-color="#008ffa"/><stop offset="0.860" stop-color="#008ffa"/><stop offset="1.000" stop-color="#008ffa"/></linearGradient>
<linearGradient id="c33" gradientUnits="userSpaceOnUse" x1="0" y1="105.4" x2="0" y2="143.7"><stop offset="0.000" stop-color="#f8f900"/><stop offset="0.167" stop-color="#ffd700"/><stop offset="0.333" stop-color="#ffb700"/><stop offset="0.500" stop-color="#c4c200"/><stop offset="0.667" stop-color="#5ccf4a"/><stop offset="0.833" stop-color="#00cc90"/><stop offset="1.000" stop-color="#00c1be"/></linearGradient>
<linearGradient id="s32" gradientUnits="userSpaceOnUse" x1="157.7" y1="0" x2="65.8" y2="0"><stop offset="0.040" stop-color="#00c2b8"/><stop offset="0.069" stop-color="#00bad0"/><stop offset="0.098" stop-color="#00b1df"/><stop offset="0.127" stop-color="#00aae7"/><stop offset="0.156" stop-color="#00a3eb"/><stop offset="0.184" stop-color="#009eee"/><stop offset="0.213" stop-color="#009bf1"/><stop offset="0.242" stop-color="#0098f3"/><stop offset="0.271" stop-color="#0096f5"/><stop offset="0.300" stop-color="#0094f6"/><stop offset="0.440" stop-color="#0090f9"/><stop offset="0.580" stop-color="#0090fa"/><stop offset="0.720" stop-color="#008ffa"/><stop offset="0.860" stop-color="#008ffa"/><stop offset="1.000" stop-color="#008ffa"/></linearGradient>
<linearGradient id="c32" gradientUnits="userSpaceOnUse" x1="0" y1="106.2" x2="0" y2="143.1"><stop offset="0.000" stop-color="#f8f700"/><stop offset="0.167" stop-color="#ffd600"/><stop offset="0.333" stop-color="#ffb800"/><stop offset="0.500" stop-color="#c8c100"/><stop offset="0.667" stop-color="#66ce43"/><stop offset="0.833" stop-color="#00cd8a"/><stop offset="1.000" stop-color="#00c2b8"/></linearGradient>
<linearGradient id="s31" gradientUnits="userSpaceOnUse" x1="156.6" y1="0" x2="64.7" y2="0"><stop offset="0.040" stop-color="#00c4b2"/><stop offset="0.069" stop-color="#00bccc"/><stop offset="0.098" stop-color="#00b3dd"/><stop offset="0.127" stop-color="#00abe6"/><stop offset="0.156" stop-color="#00a4ea"/><stop offset="0.184" stop-color="#009fed"/><stop offset="0.213" stop-color="#009bf0"/><stop offset="0.242" stop-color="#0098f3"/><stop offset="0.271" stop-color="#0096f4"/><stop offset="0.300" stop-color="#0094f6"/><stop offset="0.440" stop-color="#0091f9"/><stop offset="0.580" stop-color="#0090fa"/><stop offset="0.720" stop-color="#008ffa"/><stop offset="0.860" stop-color="#008ffa"/><stop offset="1.000" stop-color="#008ffa"/></linearGradient>
<linearGradient id="c31" gradientUnits="userSpaceOnUse" x1="0" y1="107.3" x2="0" y2="142.5"><stop offset="0.000" stop-color="#f7f300"/><stop offset="0.167" stop-color="#ffd300"/><stop offset="0.333" stop-color="#ffb700"/><stop offset="0.500" stop-color="#c9c100"/><stop offset="0.667" stop-color="#6dce3e"/><stop offset="0.833" stop-color="#00ce84"/><stop offset="1.000" stop-color="#00c4b2"/></linearGradient>
<linearGradient id="s30" gradientUnits="userSpaceOnUse" x1="155.5" y1="0" x2="63.6" y2="0"><stop offset="0.040" stop-color="#00c5ac"/><stop offset="0.069" stop-color="#00bdc8"/><stop offset="0.098" stop-color="#00b4da"/><stop offset="0.127" stop-color="#00ace5"/><stop offset="0.156" stop-color="#00a5ea"/><stop offset="0.184" stop-color="#00a0ed"/><stop offset="0.213" stop-color="#009cf0"/><stop offset="0.242" stop-color="#0099f2"/><stop offset="0.271" stop-color="#0096f4"/><stop offset="0.300" stop-color="#0095f6"/><stop offset="0.440" stop-color="#0091f9"/><stop offset="0.580" stop-color="#0090fa"/><stop offset="0.720" stop-color="#008ffa"/><stop offset="0.860" stop-color="#008ffa"/><stop offset="1.000" stop-color="#008ffa"/></linearGradient>
<linearGradient id="c30" gradientUnits="userSpaceOnUse" x1="0" y1="109.0" x2="0" y2="142.0"><stop offset="0.000" stop-color="#f7ed00"/><stop offset="0.167" stop-color="#ffce00"/><stop offset="0.333" stop-color="#ffb700"/><stop offset="0.500" stop-color="#c6c200"/><stop offset="0.667" stop-color="#70ce3c"/><stop offset="0.833" stop-color="#00ce7f"/><stop offset="1.000" stop-color="#00c5ac"/></linearGradient>
<linearGradient id="s29" gradientUnits="userSpaceOnUse" x1="154.5" y1="0" x2="62.6" y2="0"><stop offset="0.040" stop-color="#00c7a6"/><stop offset="0.069" stop-color="#00bec4"/><stop offset="0.098" stop-color="#00b6d8"/><stop offset="0.127" stop-color="#00aee3"/><stop offset="0.156" stop-color="#00a6e9"/><stop offset="0.184" stop-color="#00a1ec"/><stop offset="0.213" stop-color="#009cef"/><stop offset="0.242" stop-color="#0099f2"/><stop offset="0.271" stop-color="#0097f4"/><stop offset="0.300" stop-color="#0095f5"/><stop offset="0.440" stop-color="#0091f9"/><stop offset="0.580" stop-color="#0090fa"/><stop offset="0.720" stop-color="#008ffa"/><stop offset="0.860" stop-color="#008ffa"/><stop offset="1.000" stop-color="#008ffa"/></linearGradient>
<linearGradient id="c29" gradientUnits="userSpaceOnUse" x1="0" y1="110.9" x2="0" y2="141.5"><stop offset="0.000" stop-color="#f8e500"/><stop offset="0.167" stop-color="#ffc800"/><stop offset="0.333" stop-color="#fab700"/><stop offset="0.500" stop-color="#c2c200"/><stop offset="0.667" stop-color="#71cd3b"/><stop offset="0.833" stop-color="#00cf7a"/><stop offset="1.000" stop-color="#00c7a6"/></linearGradient>
<linearGradient id="s28" gradientUnits="userSpaceOnUse" x1="153.4" y1="0" x2="61.5" y2="0"><stop offset="0.040" stop-color="#00c9a0"/><stop offset="0.069" stop-color="#00c0c0"/><stop offset="0.098" stop-color="#00b7d5"/><stop offset="0.127" stop-color="#00afe2"/><stop offset="0.156" stop-color="#00a7e8"/><stop offset="0.184" stop-color="#00a2ec"/><stop offset="0.213" stop-color="#009def"/><stop offset="0.242" stop-color="#009af2"/><stop offset="0.271" stop-color="#0097f4"/><stop offset="0.300" stop-color="#0095f5"/><stop offset="0.440" stop-color="#0091f9"/><stop offset="0.580" stop-color="#0090fa"/><stop offset="0.720" stop-color="#008ffa"/><stop offset="0.860" stop-color="#008ffa"/><stop offset="1.000" stop-color="#008ffa"/></linearGradient>
<linearGradient id="c28" gradientUnits="userSpaceOnUse" x1="0" y1="112.8" x2="0" y2="140.9"><stop offset="0.000" stop-color="#fbdd00"/><stop offset="0.167" stop-color="#ffc300"/><stop offset="0.333" stop-color="#f4b800"/><stop offset="0.500" stop-color="#bec300"/><stop offset="0.667" stop-color="#73cd39"/><stop offset="0.833" stop-color="#00cf75"/><stop offset="1.000" stop-color="#00c9a0"/></linearGradient>
<linearGradient id="s27" gradientUnits="userSpaceOnUse" x1="152.3" y1="0" x2="60.4" y2="0"><stop offset="0.040" stop-color="#00ca99"/><stop offset="0.069" stop-color="#00c1bc"/><stop offset="0.098" stop-color="#00b9d3"/><stop offset="0.127" stop-color="#00b0e1"/><stop offset="0.156" stop-color="#00a8e8"/><stop offset="0.184" stop-color="#00a2eb"/><stop offset="0.213" stop-color="#009eee"/><stop offset="0.242" stop-color="#009af1"/><stop offset="0.271" stop-color="#0097f3"/><stop offset="0.300" stop-color="#0095f5"/><stop offset="0.440" stop-color="#0091f9"/><stop offset="0.580" stop-color="#0090fa"/><stop offset="0.720" stop-color="#008ffa"/><stop offset="0.860" stop-color="#008ffa"/><stop offset="1.000" stop-color="#008ffa"/></linearGradient>
<linearGradient id="c27" gradientUnits="userSpaceOnUse" x1="0" y1="114.9" x2="0" y2="140.3"><stop offset="0.000" stop-color="#ffd400"/><stop offset="0.167" stop-color="#ffbc00"/><stop offset="0.333" stop-color="#ecb900"/><stop offset="0.500" stop-color="#b9c400"/><stop offset="0.667" stop-color="#73cd39"/><stop offset="0.833" stop-color="#00cf71"/><stop offset="1.000" stop-color="#00ca99"/></linearGradient>
<linearGradient id="s26" gradientUnits="userSpaceOnUse" x1="151.2" y1="0" x2="59.3" y2="0"><stop offset="0.040" stop-color="#00cb94"/><stop offset="0.069" stop-color="#00c2b9"/><stop offset="0.098" stop-color="#00bad0"/><stop offset="0.127" stop-color="#00b1df"/><stop offset="0.156" stop-color="#00a9e7"/><stop offset="0.184" stop-color="#00a3eb"/><stop offset="0.213" stop-color="#009eee"/><stop offset="0.242" stop-color="#009bf1"/><stop offset="0.271" stop-color="#0098f3"/><stop offset="0.300" stop-color="#0096f5"/><stop offset="0.440" stop-color="#0091f9"/><stop offset="0.580" stop-color="#0090fa"/><stop offset="0.720" stop-color="#008ffa"/><stop offset="0.860" stop-color="#008ffa"/><stop offset="1.000" stop-color="#008ffa"/></linearGradient>
<linearGradient id="c26" gradientUnits="userSpaceOnUse" x1="0" y1="117.6" x2="0" y2="139.9"><stop offset="0.000" stop-color="#ffc800"/><stop offset="0.167" stop-color="#ffb700"/><stop offset="0.333" stop-color="#dfbc00"/><stop offset="0.500" stop-color="#afc600"/><stop offset="0.667" stop-color="#6fce3d"/><stop offset="0.833" stop-color="#00cf6e"/><stop offset="1.000" stop-color="#00cb94"/></linearGradient>
<linearGradient id="s25" gradientUnits="userSpaceOnUse" x1="150.1" y1="0" x2="58.2" y2="0"><stop offset="0.040" stop-color="#00cc8f"/><stop offset="0.069" stop-color="#00c3b6"/><stop offset="0.098" stop-color="#00bacf"/><stop offset="0.127" stop-color="#00b2de"/><stop offset="0.156" stop-color="#00aae7"/><stop offset="0.184" stop-color="#00a3eb"/><stop offset="0.213" stop-color="#009fee"/><stop offset="0.242" stop-color="#009bf1"/><stop offset="0.271" stop-color="#0098f3"/><stop offset="0.300" stop-color="#0096f5"/><stop offset="0.440" stop-color="#0091f9"/><stop offset="0.580" stop-color="#0090fa"/><stop offset="0.720" stop-color="#008ffa"/><stop offset="0.860" stop-color="#008ffa"/><stop offset="1.000" stop-color="#008ffa"/></linearGradient>
<linearGradient id="c25" gradientUnits="userSpaceOnUse" x1="0" y1="121.3" x2="0" y2="139.7"><stop offset="0.000" stop-color="#ffb900"/><stop offset="0.167" stop-color="#edb900"/><stop offset="0.333" stop-color="#c9c100"/><stop offset="0.500" stop-color="#9bc900"/><stop offset="0.667" stop-color="#60ce47"/><stop offset="0.833" stop-color="#00cf70"/><stop offset="1.000" stop-color="#00cc8f"/></linearGradient>
<linearGradient id="s24" gradientUnits="userSpaceOnUse" x1="149.1" y1="0" x2="57.2" y2="0"><stop offset="0.040" stop-color="#00cd8d"/><stop offset="0.069" stop-color="#00c3b5"/><stop offset="0.098" stop-color="#00bbce"/><stop offset="0.127" stop-color="#00b2de"/><stop offset="0.156" stop-color="#00aae6"/><stop offset="0.184" stop-color="#00a4eb"/><stop offset="0.213" stop-color="#009fee"/><stop offset="0.242" stop-color="#009bf1"/><stop offset="0.271" stop-color="#0098f3"/><stop offset="0.300" stop-color="#0096f5"/><stop offset="0.440" stop-color="#0091f9"/><stop offset="0.580" stop-color="#0090fa"/><stop offset="0.720" stop-color="#008ffa"/><stop offset="0.860" stop-color="#008ffa"/><stop offset="1.000" stop-color="#008ffa"/></linearGradient>
<linearGradient id="c24" gradientUnits="userSpaceOnUse" x1="0" y1="125.3" x2="0" y2="139.8"><stop offset="0.000" stop-color="#ebb900"/><stop offset="0.167" stop-color="#cec000"/><stop offset="0.333" stop-color="#abc700"/><stop offset="0.500" stop-color="#80cc2d"/><stop offset="0.667" stop-color="#49cf54"/><stop offset="0.833" stop-color="#00cf73"/><stop offset="1.000" stop-color="#00cd8d"/></linearGradient>
<linearGradient id="s23" gradientUnits="userSpaceOnUse" x1="148.0" y1="0" x2="56.1" y2="0"><stop offset="0.040" stop-color="#00cd8b"/><stop offset="0.069" stop-color="#00c3b4"/><stop offset="0.098" stop-color="#00bbcd"/><stop offset="0.127" stop-color="#00b2dd"/><stop offset="0.156" stop-color="#00aae6"/><stop offset="0.184" stop-color="#00a4ea"/><stop offset="0.213" stop-color="#009fee"/><stop offset="0.242" stop-color="#009bf0"/><stop offset="0.271" stop-color="#0098f3"/><stop offset="0.300" stop-color="#0096f4"/><stop offset="0.440" stop-color="#0091f9"/><stop offset="0.580" stop-color="#0090fa"/><stop offset="0.720" stop-color="#008ffa"/><stop offset="0.860" stop-color="#008ffa"/><stop offset="1.000" stop-color="#008ffa"/></linearGradient>
<linearGradient id="c23" gradientUnits="userSpaceOnUse" x1="0" y1="129.5" x2="0" y2="140.0"><stop offset="0.000" stop-color="#c2c200"/><stop offset="0.167" stop-color="#a6c800"/><stop offset="0.333" stop-color="#85cc28"/><stop offset="0.500" stop-color="#5fcf48"/><stop offset="0.667" stop-color="#29d062"/><stop offset="0.833" stop-color="#00cf78"/><stop offset="1.000" stop-color="#00cd8b"/></linearGradient>
<linearGradient id="s22" gradientUnits="userSpaceOnUse" x1="146.9" y1="0" x2="55.0" y2="0"><stop offset="0.040" stop-color="#00cd8b"/><stop offset="0.069" stop-color="#00c3b3"/><stop offset="0.098" stop-color="#00bbcd"/><stop offset="0.127" stop-color="#00b2dd"/><stop offset="0.156" stop-color="#00abe6"/><stop offset="0.184" stop-color="#00a4ea"/><stop offset="0.213" stop-color="#009fee"/><stop offset="0.242" stop-color="#009bf0"/><stop offset="0.271" stop-color="#0098f3"/><stop offset="0.300" stop-color="#0096f4"/><stop offset="0.440" stop-color="#0091f9"/><stop offset="0.580" stop-color="#0090fa"/><stop offset="0.720" stop-color="#008ffa"/><stop offset="0.860" stop-color="#008ffa"/><stop offset="1.000" stop-color="#008ffa"/></linearGradient>
<linearGradient id="c22" gradientUnits="userSpaceOnUse" x1="0" y1="134.2" x2="0" y2="140.2"><stop offset="0.000" stop-color="#84cc29"/><stop offset="0.167" stop-color="#6cce3f"/><stop offset="0.333" stop-color="#4fcf51"/><stop offset="0.500" stop-color="#29d061"/><stop offset="0.667" stop-color="#00cf71"/><stop offset="0.833" stop-color="#00cf7e"/><stop offset="1.000" stop-color="#00cd8b"/></linearGradient>
<linearGradient id="s21" gradientUnits="userSpaceOnUse" x1="145.8" y1="0" x2="53.9" y2="0"><stop offset="0.040" stop-color="#00cd8c"/><stop offset="0.069" stop-color="#00c3b4"/><stop offset="0.098" stop-color="#00bbcd"/><stop offset="0.127" stop-color="#00b2de"/><stop offset="0.156" stop-color="#00aae6"/><stop offset="0.184" stop-color="#00a4ea"/><stop offset="0.213" stop-color="#009fee"/><stop offset="0.242" stop-color="#009bf1"/><stop offset="0.271" stop-color="#0098f3"/><stop offset="0.300" stop-color="#0096f5"/><stop offset="0.440" stop-color="#0091f9"/><stop offset="0.580" stop-color="#0090fa"/><stop offset="0.720" stop-color="#008ffa"/><stop offset="0.860" stop-color="#008ffa"/><stop offset="1.000" stop-color="#008ffa"/></linearGradient>
<linearGradient id="c21" gradientUnits="userSpaceOnUse" x1="0" y1="139.5" x2="0" y2="140.7"><stop offset="0.000" stop-color="#00d06b"/><stop offset="0.167" stop-color="#00cf71"/><stop offset="0.333" stop-color="#00cf77"/><stop offset="0.500" stop-color="#00cf7c"/><stop offset="0.667" stop-color="#00ce81"/><stop offset="0.833" stop-color="#00ce87"/><stop offset="1.000" stop-color="#00cd8c"/></linearGradient>
<linearGradient id="s20" gradientUnits="userSpaceOnUse" x1="144.7" y1="0" x2="52.8" y2="0"><stop offset="0.040" stop-color="#00cb94"/><stop offset="0.069" stop-color="#00c2b9"/><stop offset="0.098" stop-color="#00bad0"/><stop offset="0.127" stop-color="#00b1df"/><stop offset="0.156" stop-color="#00a9e7"/><stop offset="0.184" stop-color="#00a3eb"/><stop offset="0.213" stop-color="#009eee"/><stop offset="0.242" stop-color="#009bf1"/><stop offset="0.271" stop-color="#0098f3"/><stop offset="0.300" stop-color="#0096f5"/><stop offset="0.440" stop-color="#0091f9"/><stop offset="0.580" stop-color="#0090fa"/><stop offset="0.720" stop-color="#008ffa"/><stop offset="0.860" stop-color="#008ffa"/><stop offset="1.000" stop-color="#008ffa"/></linearGradient>
<linearGradient id="c20" gradientUnits="userSpaceOnUse" x1="0" y1="144.9" x2="0" y2="142.1"><stop offset="0.000" stop-color="#00ca98"/><stop offset="0.167" stop-color="#00cb97"/><stop offset="0.333" stop-color="#00cb96"/><stop offset="0.500" stop-color="#00cb96"/><stop offset="0.667" stop-color="#00cb95"/><stop offset="0.833" stop-color="#00cb94"/><stop offset="1.000" stop-color="#00cb94"/></linearGradient>
<linearGradient id="s19" gradientUnits="userSpaceOnUse" x1="143.7" y1="0" x2="51.8" y2="0"><stop offset="0.040" stop-color="#00c9a0"/><stop offset="0.069" stop-color="#00c0c0"/><stop offset="0.098" stop-color="#00b7d5"/><stop offset="0.127" stop-color="#00afe2"/><stop offset="0.156" stop-color="#00a7e8"/><stop offset="0.184" stop-color="#00a2ec"/><stop offset="0.213" stop-color="#009def"/><stop offset="0.242" stop-color="#009af2"/><stop offset="0.271" stop-color="#0097f4"/><stop offset="0.300" stop-color="#0095f5"/><stop offset="0.440" stop-color="#0091f9"/><stop offset="0.580" stop-color="#008ffa"/><stop offset="0.720" stop-color="#008ffa"/><stop offset="0.860" stop-color="#008ffa"/><stop offset="1.000" stop-color="#008ffa"/></linearGradient>
<linearGradient id="c19" gradientUnits="userSpaceOnUse" x1="0" y1="149.5" x2="0" y2="144.0"><stop offset="0.000" stop-color="#00c3b4"/><stop offset="0.167" stop-color="#00c4b1"/><stop offset="0.333" stop-color="#00c5ae"/><stop offset="0.500" stop-color="#00c6aa"/><stop offset="0.667" stop-color="#00c7a7"/><stop offset="0.833" stop-color="#00c8a3"/><stop offset="1.000" stop-color="#00c9a0"/></linearGradient>
<linearGradient id="s18" gradientUnits="userSpaceOnUse" x1="142.6" y1="0" x2="50.7" y2="0"><stop offset="0.040" stop-color="#00c6ac"/><stop offset="0.069" stop-color="#00bdc8"/><stop offset="0.098" stop-color="#00b5da"/><stop offset="0.127" stop-color="#00ace5"/><stop offset="0.156" stop-color="#00a5ea"/><stop offset="0.184" stop-color="#00a0ed"/><stop offset="0.213" stop-color="#009cf0"/><stop offset="0.242" stop-color="#0099f2"/><stop offset="0.271" stop-color="#0096f4"/><stop offset="0.300" stop-color="#0095f6"/><stop offset="0.440" stop-color="#0090f9"/><stop offset="0.580" stop-color="#008ffa"/><stop offset="0.720" stop-color="#008ffa"/><stop offset="0.860" stop-color="#008ffa"/><stop offset="1.000" stop-color="#008ffa"/></linearGradient>
<linearGradient id="c18" gradientUnits="userSpaceOnUse" x1="0" y1="152.8" x2="0" y2="146.2"><stop offset="0.000" stop-color="#00bec6"/><stop offset="0.167" stop-color="#00bfc2"/><stop offset="0.333" stop-color="#00c1bd"/><stop offset="0.500" stop-color="#00c2b9"/><stop offset="0.667" stop-color="#00c3b5"/><stop offset="0.833" stop-color="#00c4b0"/><stop offset="1.000" stop-color="#00c6ac"/></linearGradient>
<linearGradient id="s17" gradientUnits="userSpaceOnUse" x1="141.5" y1="0" x2="49.6" y2="0"><stop offset="0.040" stop-color="#00c3b6"/><stop offset="0.069" stop-color="#00bace"/><stop offset="0.098" stop-color="#00b2de"/><stop offset="0.127" stop-color="#00aae7"/><stop offset="0.156" stop-color="#00a3eb"/><stop offset="0.184" stop-color="#009fee"/><stop offset="0.213" stop-color="#009bf1"/><stop offset="0.242" stop-color="#0098f3"/><stop offset="0.271" stop-color="#0096f5"/><stop offset="0.300" stop-color="#0094f6"/><stop offset="0.440" stop-color="#0090f9"/><stop offset="0.580" stop-color="#008ffa"/><stop offset="0.720" stop-color="#008ffa"/><stop offset="0.860" stop-color="#008ffa"/><stop offset="1.000" stop-color="#008ffa"/></linearGradient>
<linearGradient id="c17" gradientUnits="userSpaceOnUse" x1="0" y1="156.2" x2="0" y2="148.1"><stop offset="0.000" stop-color="#00b6d7"/><stop offset="0.167" stop-color="#00b9d2"/><stop offset="0.333" stop-color="#00bbcc"/><stop offset="0.500" stop-color="#00bdc7"/><stop offset="0.667" stop-color="#00bfc1"/><stop offset="0.833" stop-color="#00c1bc"/><stop offset="1.000" stop-color="#00c3b6"/></linearGradient>
<linearGradient id="s16" gradientUnits="userSpaceOnUse" x1="140.4" y1="0" x2="48.5" y2="0"><stop offset="0.040" stop-color="#00c0bf"/><stop offset="0.069" stop-color="#00b8d4"/><stop offset="0.098" stop-color="#00afe2"/><stop offset="0.127" stop-color="#00a8e8"/><stop offset="0.156" stop-color="#00a2ec"/><stop offset="0.184" stop-color="#009def"/><stop offset="0.213" stop-color="#009af2"/><stop offset="0.242" stop-color="#0097f4"/><stop offset="0.271" stop-color="#0095f5"/><stop offset="0.300" stop-color="#0094f6"/><stop offset="0.440" stop-color="#0090f9"/><stop offset="0.580" stop-color="#008ffa"/><stop offset="0.720" stop-color="#008ffa"/><stop offset="0.860" stop-color="#008ffa"/><stop offset="1.000" stop-color="#008ffa"/></linearGradient>
<linearGradient id="c16" gradientUnits="userSpaceOnUse" x1="0" y1="160.0" x2="0" y2="150.0"><stop offset="0.000" stop-color="#00ace5"/><stop offset="0.167" stop-color="#00b0e1"/><stop offset="0.333" stop-color="#00b4db"/><stop offset="0.500" stop-color="#00b8d5"/><stop offset="0.667" stop-color="#00bbce"/><stop offset="0.833" stop-color="#00bec6"/><stop offset="1.000" stop-color="#00c0bf"/></linearGradient>
<linearGradient id="s15" gradientUnits="userSpaceOnUse" x1="139.3" y1="0" x2="47.4" y2="0"><stop offset="0.040" stop-color="#00bdc8"/><stop offset="0.069" stop-color="#00b4da"/><stop offset="0.098" stop-color="#00ace5"/><stop offset="0.127" stop-color="#00a5ea"/><stop offset="0.156" stop-color="#00a0ed"/><stop offset="0.184" stop-color="#009cf0"/><stop offset="0.213" stop-color="#0099f2"/><stop offset="0.242" stop-color="#0096f4"/><stop offset="0.271" stop-color="#0094f6"/><stop offset="0.300" stop-color="#0093f7"/><stop offset="0.440" stop-color="#0090f9"/><stop offset="0.580" stop-color="#008ffa"/><stop offset="0.720" stop-color="#008ffa"/><stop offset="0.860" stop-color="#008ffa"/><stop offset="1.000" stop-color="#008ffa"/></linearGradient>
<linearGradient id="c15" gradientUnits="userSpaceOnUse" x1="0" y1="163.8" x2="0" y2="151.9"><stop offset="0.000" stop-color="#009fed"/><stop offset="0.167" stop-color="#00a5ea"/><stop offset="0.333" stop-color="#00abe6"/><stop offset="0.500" stop-color="#00b0e0"/><stop offset="0.667" stop-color="#00b5d9"/><stop offset="0.833" stop-color="#00b9d1"/><stop offset="1.000" stop-color="#00bdc8"/></linearGradient>
<linearGradient id="s14" gradientUnits="userSpaceOnUse" x1="138.3" y1="0" x2="46.4" y2="0"><stop offset="0.040" stop-color="#00b9d1"/><stop offset="0.069" stop-color="#00b1e0"/><stop offset="0.098" stop-color="#00a9e7"/><stop offset="0.127" stop-color="#00a3eb"/><stop offset="0.156" stop-color="#009eee"/><stop offset="0.184" stop-color="#009af1"/><stop offset="0.213" stop-color="#0097f3"/><stop offset="0.242" stop-color="#0095f5"/><stop offset="0.271" stop-color="#0094f6"/><stop offset="0.300" stop-color="#0093f7"/><stop offset="0.440" stop-color="#0090f9"/><stop offset="0.580" stop-color="#008ffa"/><stop offset="0.720" stop-color="#008ffa"/><stop offset="0.860" stop-color="#008ffa"/><stop offset="1.000" stop-color="#008ffa"/></linearGradient>
<linearGradient id="c14" gradientUnits="userSpaceOnUse" x1="0" y1="167.8" x2="0" y2="153.9"><stop offset="0.000" stop-color="#0091f9"/><stop offset="0.167" stop-color="#0099f3"/><stop offset="0.333" stop-color="#00a0ed"/><stop offset="0.500" stop-color="#00a7e9"/><stop offset="0.667" stop-color="#00aee3"/><stop offset="0.833" stop-color="#00b4db"/><stop offset="1.000" stop-color="#00b9d1"/></linearGradient>
<linearGradient id="s13" gradientUnits="userSpaceOnUse" x1="137.2" y1="0" x2="45.3" y2="0"><stop offset="0.040" stop-color="#00b5d9"/><stop offset="0.069" stop-color="#00ade4"/><stop offset="0.098" stop-color="#00a6e9"/><stop offset="0.127" stop-color="#00a0ed"/><stop offset="0.156" stop-color="#009cf0"/><stop offset="0.184" stop-color="#0099f2"/><stop offset="0.213" stop-color="#0096f4"/><stop offset="0.242" stop-color="#0094f6"/><stop offset="0.271" stop-color="#0093f7"/><stop offset="0.300" stop-color="#0092f8"/><stop offset="0.440" stop-color="#0090fa"/><stop offset="0.580" stop-color="#008ffa"/><stop offset="0.720" stop-color="#008ffa"/><stop offset="0.860" stop-color="#008ffa"/><stop offset="1.000" stop-color="#008ffa"/></linearGradient>
<linearGradient id="c13" gradientUnits="userSpaceOnUse" x1="0" y1="171.5" x2="0" y2="155.9"><stop offset="0.000" stop-color="#0082ff"/><stop offset="0.167" stop-color="#008cfd"/><stop offset="0.333" stop-color="#0095f5"/><stop offset="0.500" stop-color="#009eee"/><stop offset="0.667" stop-color="#00a6e9"/><stop offset="0.833" stop-color="#00aee3"/><stop offset="1.000" stop-color="#00b5d9"/></linearGradient>
<linearGradient id="s12" gradientUnits="userSpaceOnUse" x1="136.1" y1="0" x2="44.2" y2="0"><stop offset="0.040" stop-color="#00b1e0"/><stop offset="0.069" stop-color="#00a9e7"/><stop offset="0.098" stop-color="#00a3eb"/><stop offset="0.127" stop-color="#009eee"/><stop offset="0.156" stop-color="#009af1"/><stop offset="0.184" stop-color="#0097f3"/><stop offset="0.213" stop-color="#0095f5"/><stop offset="0.242" stop-color="#0094f6"/><stop offset="0.271" stop-color="#0092f7"/><stop offset="0.300" stop-color="#0092f8"/><stop offset="0.440" stop-color="#0090fa"/><stop offset="0.580" stop-color="#008ffa"/><stop offset="0.720" stop-color="#008ffa"/><stop offset="0.860" stop-color="#008ffa"/><stop offset="1.000" stop-color="#008ffa"/></linearGradient>
<linearGradient id="c12" gradientUnits="userSpaceOnUse" x1="0" y1="173.7" x2="0" y2="157.7"><stop offset="0.000" stop-color="#0c79ff"/><stop offset="0.167" stop-color="#0084ff"/><stop offset="0.333" stop-color="#008efb"/><stop offset="0.500" stop-color="#0098f3"/><stop offset="0.667" stop-color="#00a0ed"/><stop offset="0.833" stop-color="#00a9e7"/><stop offset="1.000" stop-color="#00b1e0"/></linearGradient>
<linearGradient id="s11" gradientUnits="userSpaceOnUse" x1="135.0" y1="0" x2="43.1" y2="0"><stop offset="0.040" stop-color="#00ade4"/><stop offset="0.069" stop-color="#00a5ea"/><stop offset="0.098" stop-color="#00a0ed"/><stop offset="0.127" stop-color="#009cf0"/><stop offset="0.156" stop-color="#0099f2"/><stop offset="0.184" stop-color="#0096f4"/><stop offset="0.213" stop-color="#0094f6"/><stop offset="0.242" stop-color="#0093f7"/><stop offset="0.271" stop-color="#0092f8"/><stop offset="0.300" stop-color="#0091f8"/><stop offset="0.440" stop-color="#008ffa"/><stop offset="0.580" stop-color="#008ffa"/><stop offset="0.720" stop-color="#008ffa"/><stop offset="0.860" stop-color="#008ffa"/><stop offset="1.000" stop-color="#008ffa"/></linearGradient>
<linearGradient id="c11" gradientUnits="userSpaceOnUse" x1="0" y1="175.2" x2="0" y2="159.3"><stop offset="0.000" stop-color="#2473ff"/><stop offset="0.167" stop-color="#007fff"/><stop offset="0.333" stop-color="#0089ff"/><stop offset="0.500" stop-color="#0093f7"/><stop offset="0.667" stop-color="#009cf0"/><stop offset="0.833" stop-color="#00a4ea"/><stop offset="1.000" stop-color="#00ade4"/></linearGradient>
<linearGradient id="s10" gradientUnits="userSpaceOnUse" x1="133.9" y1="0" x2="42.0" y2="0"><stop offset="0.040" stop-color="#00a9e7"/><stop offset="0.069" stop-color="#00a3eb"/><stop offset="0.098" stop-color="#009eee"/><stop offset="0.127" stop-color="#009af1"/><stop offset="0.156" stop-color="#0097f3"/><stop offset="0.184" stop-color="#0095f5"/><stop offset="0.213" stop-color="#0094f6"/><stop offset="0.242" stop-color="#0092f7"/><stop offset="0.271" stop-color="#0091f8"/><stop offset="0.300" stop-color="#0091f9"/><stop offset="0.440" stop-color="#008ffa"/><stop offset="0.580" stop-color="#008ffa"/><stop offset="0.720" stop-color="#008ffa"/><stop offset="0.860" stop-color="#008ffa"/><stop offset="1.000" stop-color="#008ffa"/></linearGradient>
<linearGradient id="c10" gradientUnits="userSpaceOnUse" x1="0" y1="176.6" x2="0" y2="160.7"><stop offset="0.000" stop-color="#2f6eff"/><stop offset="0.167" stop-color="#0a7aff"/><stop offset="0.333" stop-color="#0084ff"/><stop offset="0.500" stop-color="#008efb"/><stop offset="0.667" stop-color="#0098f3"/><stop offset="0.833" stop-color="#00a0ed"/><stop offset="1.000" stop-color="#00a9e7"/></linearGradient>
<linearGradient id="s9" gradientUnits="userSpaceOnUse" x1="132.9" y1="0" x2="41.0" y2="0"><stop offset="0.040" stop-color="#00a5ea"/><stop offset="0.069" stop-color="#00a0ed"/><stop offset="0.098" stop-color="#009cf0"/><stop offset="0.127" stop-color="#0099f2"/><stop offset="0.156" stop-color="#0096f4"/><stop offset="0.184" stop-color="#0094f6"/><stop offset="0.213" stop-color="#0093f7"/><stop offset="0.242" stop-color="#0092f8"/><stop offset="0.271" stop-color="#0091f9"/><stop offset="0.300" stop-color="#0090f9"/><stop offset="0.440" stop-color="#008ffa"/><stop offset="0.580" stop-color="#008ffa"/><stop offset="0.720" stop-color="#008ffa"/><stop offset="0.860" stop-color="#008ffa"/><stop offset="1.000" stop-color="#008ffa"/></linearGradient>
<linearGradient id="c9" gradientUnits="userSpaceOnUse" x1="0" y1="177.7" x2="0" y2="162.0"><stop offset="0.000" stop-color="#356bff"/><stop offset="0.167" stop-color="#1c76ff"/><stop offset="0.333" stop-color="#0081ff"/><stop offset="0.500" stop-color="#008bfe"/><stop offset="0.667" stop-color="#0094f6"/><stop offset="0.833" stop-color="#009def"/><stop offset="1.000" stop-color="#00a5ea"/></linearGradient>
<linearGradient id="s8" gradientUnits="userSpaceOnUse" x1="131.8" y1="0" x2="39.9" y2="0"><stop offset="0.040" stop-color="#00a2eb"/><stop offset="0.069" stop-color="#009eef"/><stop offset="0.098" stop-color="#009af1"/><stop offset="0.127" stop-color="#0097f4"/><stop offset="0.156" stop-color="#0095f5"/><stop offset="0.184" stop-color="#0093f7"/><stop offset="0.213" stop-color="#0092f8"/><stop offset="0.242" stop-color="#0091f8"/><stop offset="0.271" stop-color="#0091f9"/><stop offset="0.300" stop-color="#0090f9"/><stop offset="0.440" stop-color="#008ffa"/><stop offset="0.580" stop-color="#008ffa"/><stop offset="0.720" stop-color="#008ffa"/><stop offset="0.860" stop-color="#008ffa"/><stop offset="1.000" stop-color="#008ffa"/></linearGradient>
<linearGradient id="c8" gradientUnits="userSpaceOnUse" x1="0" y1="178.5" x2="0" y2="163.3"><stop offset="0.000" stop-color="#3769ff"/><stop offset="0.167" stop-color="#2473ff"/><stop offset="0.333" stop-color="#007eff"/><stop offset="0.500" stop-color="#0088ff"/><stop offset="0.667" stop-color="#0091f8"/><stop offset="0.833" stop-color="#009af1"/><stop offset="1.000" stop-color="#00a2eb"/></linearGradient>
<linearGradient id="s7" gradientUnits="userSpaceOnUse" x1="130.7" y1="0" x2="38.8" y2="0"><stop offset="0.040" stop-color="#009fed"/><stop offset="0.069" stop-color="#009bf0"/><stop offset="0.098" stop-color="#0098f3"/><stop offset="0.127" stop-color="#0096f5"/><stop offset="0.156" stop-color="#0094f6"/><stop offset="0.184" stop-color="#0093f7"/><stop offset="0.213" stop-color="#0092f8"/><stop offset="0.242" stop-color="#0091f9"/><stop offset="0.271" stop-color="#0090f9"/><stop offset="0.300" stop-color="#0090fa"/><stop offset="0.440" stop-color="#008ffa"/><stop offset="0.580" stop-color="#008ffa"/><stop offset="0.720" stop-color="#008ffb"/><stop offset="0.860" stop-color="#008ffb"/><stop offset="1.000" stop-color="#008ffb"/></linearGradient>
<linearGradient id="c7" gradientUnits="userSpaceOnUse" x1="0" y1="178.8" x2="0" y2="164.4"><stop offset="0.000" stop-color="#3769ff"/><stop offset="0.167" stop-color="#2573ff"/><stop offset="0.333" stop-color="#007dff"/><stop offset="0.500" stop-color="#0086ff"/><stop offset="0.667" stop-color="#008ffa"/><stop offset="0.833" stop-color="#0097f3"/><stop offset="1.000" stop-color="#009fed"/></linearGradient>
<linearGradient id="s6" gradientUnits="userSpaceOnUse" x1="129.6" y1="0" x2="37.7" y2="0"><stop offset="0.040" stop-color="#009def"/><stop offset="0.069" stop-color="#0099f2"/><stop offset="0.098" stop-color="#0096f4"/><stop offset="0.127" stop-color="#0094f6"/><stop offset="0.156" stop-color="#0093f7"/><stop offset="0.184" stop-color="#0092f8"/><stop offset="0.213" stop-color="#0091f9"/><stop offset="0.242" stop-color="#0090f9"/><stop offset="0.271" stop-color="#0090f9"/><stop offset="0.300" stop-color="#0090fa"/><stop offset="0.440" stop-color="#008ffa"/><stop offset="0.580" stop-color="#008ffb"/><stop offset="0.720" stop-color="#008ffb"/><stop offset="0.860" stop-color="#008ffb"/><stop offset="1.000" stop-color="#008ffb"/></linearGradient>
<linearGradient id="c6" gradientUnits="userSpaceOnUse" x1="0" y1="178.5" x2="0" y2="165.5"><stop offset="0.000" stop-color="#336cff"/><stop offset="0.167" stop-color="#2075ff"/><stop offset="0.333" stop-color="#007eff"/><stop offset="0.500" stop-color="#0086ff"/><stop offset="0.667" stop-color="#008efb"/><stop offset="0.833" stop-color="#0095f5"/><stop offset="1.000" stop-color="#009def"/></linearGradient>
<linearGradient id="s5" gradientUnits="userSpaceOnUse" x1="128.5" y1="0" x2="36.6" y2="0"><stop offset="0.040" stop-color="#009af1"/><stop offset="0.069" stop-color="#0097f4"/><stop offset="0.098" stop-color="#0095f5"/><stop offset="0.127" stop-color="#0093f7"/><stop offset="0.156" stop-color="#0092f8"/><stop offset="0.184" stop-color="#0091f8"/><stop offset="0.213" stop-color="#0090f9"/><stop offset="0.242" stop-color="#0090f9"/><stop offset="0.271" stop-color="#0090fa"/><stop offset="0.300" stop-color="#008ffa"/><stop offset="0.440" stop-color="#008ffa"/><stop offset="0.580" stop-color="#008ffb"/><stop offset="0.720" stop-color="#008ffb"/><stop offset="0.860" stop-color="#008ffb"/><stop offset="1.000" stop-color="#008efb"/></linearGradient>
<linearGradient id="c5" gradientUnits="userSpaceOnUse" x1="0" y1="177.9" x2="0" y2="166.5"><stop offset="0.000" stop-color="#2b71ff"/><stop offset="0.167" stop-color="#1278ff"/><stop offset="0.333" stop-color="#0080ff"/><stop offset="0.500" stop-color="#0087ff"/><stop offset="0.667" stop-color="#008dfc"/><stop offset="0.833" stop-color="#0094f6"/><stop offset="1.000" stop-color="#009af1"/></linearGradient>
<linearGradient id="s4" gradientUnits="userSpaceOnUse" x1="127.5" y1="0" x2="35.6" y2="0"><stop offset="0.040" stop-color="#0097f3"/><stop offset="0.069" stop-color="#0095f5"/><stop offset="0.098" stop-color="#0093f6"/><stop offset="0.127" stop-color="#0092f8"/><stop offset="0.156" stop-color="#0091f8"/><stop offset="0.184" stop-color="#0091f9"/><stop offset="0.213" stop-color="#0090f9"/><stop offset="0.242" stop-color="#0090fa"/><stop offset="0.271" stop-color="#008ffa"/><stop offset="0.300" stop-color="#008ffa"/><stop offset="0.440" stop-color="#008ffb"/><stop offset="0.580" stop-color="#008efb"/><stop offset="0.720" stop-color="#008efb"/><stop offset="0.860" stop-color="#008efb"/><stop offset="1.000" stop-color="#008efb"/></linearGradient>
<linearGradient id="c4" gradientUnits="userSpaceOnUse" x1="0" y1="177.1" x2="0" y2="167.5"><stop offset="0.000" stop-color="#1a76ff"/><stop offset="0.167" stop-color="#007dff"/><stop offset="0.333" stop-color="#0082ff"/><stop offset="0.500" stop-color="#0088ff"/><stop offset="0.667" stop-color="#008dfc"/><stop offset="0.833" stop-color="#0092f7"/><stop offset="1.000" stop-color="#0097f3"/></linearGradient>
<linearGradient id="s3" gradientUnits="userSpaceOnUse" x1="126.4" y1="0" x2="34.5" y2="0"><stop offset="0.040" stop-color="#0095f5"/><stop offset="0.069" stop-color="#0093f6"/><stop offset="0.098" stop-color="#0092f8"/><stop offset="0.127" stop-color="#0091f8"/><stop offset="0.156" stop-color="#0090f9"/><stop offset="0.184" stop-color="#0090f9"/><stop offset="0.213" stop-color="#0090fa"/><stop offset="0.242" stop-color="#008ffa"/><stop offset="0.271" stop-color="#008ffa"/><stop offset="0.300" stop-color="#008ffa"/><stop offset="0.440" stop-color="#008ffb"/><stop offset="0.580" stop-color="#008efb"/><stop offset="0.720" stop-color="#008efb"/><stop offset="0.860" stop-color="#008efb"/><stop offset="1.000" stop-color="#008efb"/></linearGradient>
<linearGradient id="c3" gradientUnits="userSpaceOnUse" x1="0" y1="176.4" x2="0" y2="168.5"><stop offset="0.000" stop-color="#007cff"/><stop offset="0.167" stop-color="#0080ff"/><stop offset="0.333" stop-color="#0085ff"/><stop offset="0.500" stop-color="#0089ff"/><stop offset="0.667" stop-color="#008dfc"/><stop offset="0.833" stop-color="#0091f8"/><stop offset="1.000" stop-color="#0095f5"/></linearGradient>
<linearGradient id="s2" gradientUnits="userSpaceOnUse" x1="125.3" y1="0" x2="33.4" y2="0"><stop offset="0.040" stop-color="#0093f7"/><stop offset="0.069" stop-color="#0092f8"/><stop offset="0.098" stop-color="#0091f9"/><stop offset="0.127" stop-color="#0090f9"/><stop offset="0.156" stop-color="#0090fa"/><stop offset="0.184" stop-color="#008ffa"/><stop offset="0.213" stop-color="#008ffa"/><stop offset="0.242" stop-color="#008ffa"/><stop offset="0.271" stop-color="#008ffa"/><stop offset="0.300" stop-color="#008ffb"/><stop offset="0.440" stop-color="#008efb"/><stop offset="0.580" stop-color="#008efb"/><stop offset="0.720" stop-color="#008efb"/><stop offset="0.860" stop-color="#008efb"/><stop offset="1.000" stop-color="#008efb"/></linearGradient>
<linearGradient id="c2" gradientUnits="userSpaceOnUse" x1="0" y1="175.7" x2="0" y2="169.4"><stop offset="0.000" stop-color="#0081ff"/><stop offset="0.167" stop-color="#0084ff"/><stop offset="0.333" stop-color="#0087ff"/><stop offset="0.500" stop-color="#008afe"/><stop offset="0.667" stop-color="#008dfc"/><stop offset="0.833" stop-color="#0090f9"/><stop offset="1.000" stop-color="#0093f7"/></linearGradient>
<linearGradient id="s1" gradientUnits="userSpaceOnUse" x1="124.2" y1="0" x2="32.3" y2="0"><stop offset="0.040" stop-color="#0091f9"/><stop offset="0.069" stop-color="#0090f9"/><stop offset="0.098" stop-color="#0090fa"/><stop offset="0.127" stop-color="#008ffa"/><stop offset="0.156" stop-color="#008ffa"/><stop offset="0.184" stop-color="#008ffa"/><stop offset="0.213" stop-color="#008ffa"/><stop offset="0.242" stop-color="#008ffb"/><stop offset="0.271" stop-color="#008ffb"/><stop offset="0.300" stop-color="#008efb"/><stop offset="0.440" stop-color="#008efb"/><stop offset="0.580" stop-color="#008efb"/><stop offset="0.720" stop-color="#008efb"/><stop offset="0.860" stop-color="#008efb"/><stop offset="1.000" stop-color="#008efb"/></linearGradient>
<linearGradient id="c1" gradientUnits="userSpaceOnUse" x1="0" y1="174.9" x2="0" y2="170.2"><stop offset="0.000" stop-color="#0086ff"/><stop offset="0.167" stop-color="#0088ff"/><stop offset="0.333" stop-color="#008aff"/><stop offset="0.500" stop-color="#008bfd"/><stop offset="0.667" stop-color="#008dfc"/><stop offset="0.833" stop-color="#008ffa"/><stop offset="1.000" stop-color="#0091f9"/></linearGradient>
<linearGradient id="s0" gradientUnits="userSpaceOnUse" x1="123.1" y1="0" x2="31.2" y2="0"><stop offset="0.040" stop-color="#008ffa"/><stop offset="0.069" stop-color="#008ffa"/><stop offset="0.098" stop-color="#008ffb"/><stop offset="0.127" stop-color="#008ffb"/><stop offset="0.156" stop-color="#008efb"/><stop offset="0.184" stop-color="#008efb"/><stop offset="0.213" stop-color="#008efb"/><stop offset="0.242" stop-color="#008efb"/><stop offset="0.271" stop-color="#008efb"/><stop offset="0.300" stop-color="#008efb"/><stop offset="0.440" stop-color="#008efb"/><stop offset="0.580" stop-color="#008efb"/><stop offset="0.720" stop-color="#008efb"/><stop offset="0.860" stop-color="#008efb"/><stop offset="1.000" stop-color="#008efb"/></linearGradient>
<linearGradient id="c0" gradientUnits="userSpaceOnUse" x1="0" y1="174.0" x2="0" y2="171.1"><stop offset="0.000" stop-color="#008bfd"/><stop offset="0.167" stop-color="#008cfd"/><stop offset="0.333" stop-color="#008dfc"/><stop offset="0.500" stop-color="#008dfc"/><stop offset="0.667" stop-color="#008efb"/><stop offset="0.833" stop-color="#008efb"/><stop offset="1.000" stop-color="#008ffa"/></linearGradient>
<linearGradient id="h0" gradientUnits="userSpaceOnUse" x1="0" y1="206.7" x2="0" y2="16.5"><stop offset="0.000" stop-color="#008ffa"/><stop offset="0.016" stop-color="#008ffa"/><stop offset="0.031" stop-color="#008ffa"/><stop offset="0.047" stop-color="#008ffa"/><stop offset="0.062" stop-color="#008ffa"/><stop offset="0.078" stop-color="#008ffa"/><stop offset="0.094" stop-color="#008ffa"/><stop offset="0.109" stop-color="#008ffa"/><stop offset="0.125" stop-color="#0090fa"/><stop offset="0.188" stop-color="#0090fa"/><stop offset="0.250" stop-color="#0090f9"/><stop offset="0.312" stop-color="#0090f9"/><stop offset="0.375" stop-color="#0090fa"/><stop offset="0.438" stop-color="#0090fa"/><stop offset="0.500" stop-color="#0090fa"/><stop offset="0.667" stop-color="#0090fa"/><stop offset="0.833" stop-color="#0090fa"/><stop offset="1.000" stop-color="#0090fa"/></linearGradient>
<linearGradient id="h1" gradientUnits="userSpaceOnUse" x1="0" y1="206.7" x2="0" y2="16.5"><stop offset="0.000" stop-color="#008ffa"/><stop offset="0.016" stop-color="#008ffa"/><stop offset="0.031" stop-color="#008ffa"/><stop offset="0.047" stop-color="#008ffa"/><stop offset="0.062" stop-color="#008ffa"/><stop offset="0.078" stop-color="#008ffa"/><stop offset="0.094" stop-color="#008ffa"/><stop offset="0.109" stop-color="#008ffa"/><stop offset="0.125" stop-color="#0090fa"/><stop offset="0.188" stop-color="#0090fa"/><stop offset="0.250" stop-color="#0090f9"/><stop offset="0.312" stop-color="#0090f9"/><stop offset="0.375" stop-color="#0090fa"/><stop offset="0.438" stop-color="#0090fa"/><stop offset="0.500" stop-color="#0090fa"/><stop offset="0.667" stop-color="#0090fa"/><stop offset="0.833" stop-color="#0090fa"/><stop offset="1.000" stop-color="#0090fa"/></linearGradient>
<linearGradient id="h2" gradientUnits="userSpaceOnUse" x1="0" y1="206.7" x2="0" y2="16.5"><stop offset="0.000" stop-color="#008efb"/><stop offset="0.016" stop-color="#008efb"/><stop offset="0.031" stop-color="#008ffb"/><stop offset="0.047" stop-color="#008ffa"/><stop offset="0.062" stop-color="#008ffa"/><stop offset="0.078" stop-color="#008ffa"/><stop offset="0.094" stop-color="#008ffa"/><stop offset="0.109" stop-color="#008ffa"/><stop offset="0.125" stop-color="#008ffa"/><stop offset="0.188" stop-color="#0090fa"/><stop offset="0.250" stop-color="#0090f9"/><stop offset="0.312" stop-color="#0090f9"/><stop offset="0.375" stop-color="#0090fa"/><stop offset="0.438" stop-color="#0090fa"/><stop offset="0.500" stop-color="#0090fa"/><stop offset="0.667" stop-color="#0090fa"/><stop offset="0.833" stop-color="#0090fa"/><stop offset="1.000" stop-color="#0090fa"/></linearGradient>
<linearGradient id="h3" gradientUnits="userSpaceOnUse" x1="0" y1="206.7" x2="0" y2="16.5"><stop offset="0.000" stop-color="#0089ff"/><stop offset="0.016" stop-color="#008afe"/><stop offset="0.031" stop-color="#008bfd"/><stop offset="0.047" stop-color="#008cfd"/><stop offset="0.062" stop-color="#008dfc"/><stop offset="0.078" stop-color="#008dfc"/><stop offset="0.094" stop-color="#008efb"/><stop offset="0.109" stop-color="#008efb"/><stop offset="0.125" stop-color="#008ffa"/><stop offset="0.188" stop-color="#0090fa"/><stop offset="0.250" stop-color="#0090f9"/><stop offset="0.312" stop-color="#0090f9"/><stop offset="0.375" stop-color="#0090f9"/><stop offset="0.438" stop-color="#0090f9"/><stop offset="0.500" stop-color="#0090fa"/><stop offset="0.667" stop-color="#0090fa"/><stop offset="0.833" stop-color="#0090fa"/><stop offset="1.000" stop-color="#0090fa"/></linearGradient>
<linearGradient id="h4" gradientUnits="userSpaceOnUse" x1="0" y1="206.7" x2="0" y2="16.5"><stop offset="0.000" stop-color="#0085ff"/><stop offset="0.016" stop-color="#0087ff"/><stop offset="0.031" stop-color="#0088ff"/><stop offset="0.047" stop-color="#008aff"/><stop offset="0.062" stop-color="#008bfe"/><stop offset="0.078" stop-color="#008cfd"/><stop offset="0.094" stop-color="#008dfc"/><stop offset="0.109" stop-color="#008dfb"/><stop offset="0.125" stop-color="#008efb"/><stop offset="0.188" stop-color="#008ffa"/><stop offset="0.250" stop-color="#0090f9"/><stop offset="0.312" stop-color="#0090f9"/><stop offset="0.375" stop-color="#0090f9"/><stop offset="0.438" stop-color="#0090f9"/><stop offset="0.500" stop-color="#0090f9"/><stop offset="0.667" stop-color="#0090fa"/><stop offset="0.833" stop-color="#0090fa"/><stop offset="1.000" stop-color="#0090fa"/></linearGradient>
<linearGradient id="h5" gradientUnits="userSpaceOnUse" x1="0" y1="206.7" x2="0" y2="16.5"><stop offset="0.000" stop-color="#0082ff"/><stop offset="0.016" stop-color="#0085ff"/><stop offset="0.031" stop-color="#0086ff"/><stop offset="0.047" stop-color="#0088ff"/><stop offset="0.062" stop-color="#0089ff"/><stop offset="0.078" stop-color="#008afe"/><stop offset="0.094" stop-color="#008bfd"/><stop offset="0.109" stop-color="#008cfc"/><stop offset="0.125" stop-color="#008dfb"/><stop offset="0.188" stop-color="#008ffa"/><stop offset="0.250" stop-color="#0090fa"/><stop offset="0.312" stop-color="#0090f9"/><stop offset="0.375" stop-color="#0090f9"/><stop offset="0.438" stop-color="#0090f9"/><stop offset="0.500" stop-color="#0090f9"/><stop offset="0.667" stop-color="#0090fa"/><stop offset="0.833" stop-color="#0090fa"/><stop offset="1.000" stop-color="#0090fa"/></linearGradient>
<linearGradient id="h6" gradientUnits="userSpaceOnUse" x1="0" y1="206.7" x2="0" y2="16.5"><stop offset="0.000" stop-color="#0080ff"/><stop offset="0.016" stop-color="#0083ff"/><stop offset="0.031" stop-color="#0085ff"/><stop offset="0.047" stop-color="#0086ff"/><stop offset="0.062" stop-color="#0088ff"/><stop offset="0.078" stop-color="#0089ff"/><stop offset="0.094" stop-color="#008afe"/><stop offset="0.109" stop-color="#008cfd"/><stop offset="0.125" stop-color="#008dfc"/><stop offset="0.188" stop-color="#008ffa"/><stop offset="0.250" stop-color="#0090fa"/><stop offset="0.312" stop-color="#0090f9"/><stop offset="0.375" stop-color="#0090f9"/><stop offset="0.438" stop-color="#0090f9"/><stop offset="0.500" stop-color="#0090f9"/><stop offset="0.667" stop-color="#0090f9"/><stop offset="0.833" stop-color="#0090fa"/><stop offset="1.000" stop-color="#0090fa"/></linearGradient>
<linearGradient id="h7" gradientUnits="userSpaceOnUse" x1="0" y1="206.7" x2="0" y2="16.5"><stop offset="0.000" stop-color="#007dff"/><stop offset="0.016" stop-color="#0080ff"/><stop offset="0.031" stop-color="#0083ff"/><stop offset="0.047" stop-color="#0085ff"/><stop offset="0.062" stop-color="#0086ff"/><stop offset="0.078" stop-color="#0088ff"/><stop offset="0.094" stop-color="#008aff"/><stop offset="0.109" stop-color="#008bfe"/><stop offset="0.125" stop-color="#008cfc"/><stop offset="0.188" stop-color="#008ffa"/><stop offset="0.250" stop-color="#0090f9"/><stop offset="0.312" stop-color="#0090f9"/><stop offset="0.375" stop-color="#0090f9"/><stop offset="0.438" stop-color="#0090f9"/><stop offset="0.500" stop-color="#0090f9"/><stop offset="0.667" stop-color="#0090f9"/><stop offset="0.833" stop-color="#0090fa"/><stop offset="1.000" stop-color="#0090fa"/></linearGradient>
<linearGradient id="h8" gradientUnits="userSpaceOnUse" x1="0" y1="206.7" x2="0" y2="16.5"><stop offset="0.000" stop-color="#067aff"/><stop offset="0.016" stop-color="#007fff"/><stop offset="0.031" stop-color="#0081ff"/><stop offset="0.047" stop-color="#0084ff"/><stop offset="0.062" stop-color="#0086ff"/><stop offset="0.078" stop-color="#0088ff"/><stop offset="0.094" stop-color="#0089ff"/><stop offset="0.109" stop-color="#008bfe"/><stop offset="0.125" stop-color="#008dfc"/><stop offset="0.188" stop-color="#008ffa"/><stop offset="0.250" stop-color="#0090f9"/><stop offset="0.312" stop-color="#0090f9"/><stop offset="0.375" stop-color="#0090f9"/><stop offset="0.438" stop-color="#0090f9"/><stop offset="0.500" stop-color="#0090f9"/><stop offset="0.667" stop-color="#0090f9"/><stop offset="0.833" stop-color="#0090f9"/><stop offset="1.000" stop-color="#0090fa"/></linearGradient>
<linearGradient id="h9" gradientUnits="userSpaceOnUse" x1="0" y1="206.7" x2="0" y2="16.5"><stop offset="0.000" stop-color="#0e79ff"/><stop offset="0.016" stop-color="#007eff"/><stop offset="0.031" stop-color="#0081ff"/><stop offset="0.047" stop-color="#0084ff"/><stop offset="0.062" stop-color="#0086ff"/><stop offset="0.078" stop-color="#0088ff"/><stop offset="0.094" stop-color="#008afe"/><stop offset="0.109" stop-color="#008cfd"/><stop offset="0.125" stop-color="#008efb"/><stop offset="0.188" stop-color="#0090f9"/><stop offset="0.250" stop-color="#0091f9"/><stop offset="0.312" stop-color="#0091f9"/><stop offset="0.375" stop-color="#0091f9"/><stop offset="0.438" stop-color="#0091f9"/><stop offset="0.500" stop-color="#0090f9"/><stop offset="0.667" stop-color="#0090f9"/><stop offset="0.833" stop-color="#0090f9"/><stop offset="1.000" stop-color="#0090fa"/></linearGradient>
<linearGradient id="h10" gradientUnits="userSpaceOnUse" x1="0" y1="206.7" x2="0" y2="16.5"><stop offset="0.000" stop-color="#0b79ff"/><stop offset="0.016" stop-color="#007fff"/><stop offset="0.031" stop-color="#0082ff"/><stop offset="0.047" stop-color="#0085ff"/><stop offset="0.062" stop-color="#0087ff"/><stop offset="0.078" stop-color="#0089ff"/><stop offset="0.094" stop-color="#008cfd"/><stop offset="0.109" stop-color="#008dfb"/><stop offset="0.125" stop-color="#008ffa"/><stop offset="0.188" stop-color="#0091f8"/><stop offset="0.250" stop-color="#0091f8"/><stop offset="0.312" stop-color="#0091f8"/><stop offset="0.375" stop-color="#0091f8"/><stop offset="0.438" stop-color="#0091f9"/><stop offset="0.500" stop-color="#0091f9"/><stop offset="0.667" stop-color="#0090f9"/><stop offset="0.833" stop-color="#0090f9"/><stop offset="1.000" stop-color="#0090f9"/></linearGradient>
<linearGradient id="h11" gradientUnits="userSpaceOnUse" x1="0" y1="206.7" x2="0" y2="16.5"><stop offset="0.000" stop-color="#037aff"/><stop offset="0.016" stop-color="#0080ff"/><stop offset="0.031" stop-color="#0084ff"/><stop offset="0.047" stop-color="#0087ff"/><stop offset="0.062" stop-color="#0089ff"/><stop offset="0.078" stop-color="#008cfd"/><stop offset="0.094" stop-color="#008efb"/><stop offset="0.109" stop-color="#0090f9"/><stop offset="0.125" stop-color="#0092f8"/><stop offset="0.188" stop-color="#0093f7"/><stop offset="0.250" stop-color="#0092f7"/><stop offset="0.312" stop-color="#0092f8"/><stop offset="0.375" stop-color="#0091f8"/><stop offset="0.438" stop-color="#0091f8"/><stop offset="0.500" stop-color="#0091f9"/><stop offset="0.667" stop-color="#0090f9"/><stop offset="0.833" stop-color="#0090f9"/><stop offset="1.000" stop-color="#0090f9"/></linearGradient>
<linearGradient id="h12" gradientUnits="userSpaceOnUse" x1="0" y1="206.7" x2="0" y2="16.5"><stop offset="0.000" stop-color="#007dff"/><stop offset="0.016" stop-color="#0082ff"/><stop offset="0.031" stop-color="#0086ff"/><stop offset="0.047" stop-color="#0089ff"/><stop offset="0.062" stop-color="#008cfd"/><stop offset="0.078" stop-color="#008efb"/><stop offset="0.094" stop-color="#0091f9"/><stop offset="0.109" stop-color="#0093f7"/><stop offset="0.125" stop-color="#0095f5"/><stop offset="0.188" stop-color="#0094f6"/><stop offset="0.250" stop-color="#0093f7"/><stop offset="0.312" stop-color="#0093f7"/><stop offset="0.375" stop-color="#0092f8"/><stop offset="0.438" stop-color="#0091f8"/><stop offset="0.500" stop-color="#0091f8"/><stop offset="0.667" stop-color="#0091f9"/><stop offset="0.833" stop-color="#0090f9"/><stop offset="1.000" stop-color="#0090f9"/></linearGradient>
<linearGradient id="h13" gradientUnits="userSpaceOnUse" x1="0" y1="206.7" x2="0" y2="16.5"><stop offset="0.000" stop-color="#0080ff"/><stop offset="0.016" stop-color="#0086ff"/><stop offset="0.031" stop-color="#0089ff"/><stop offset="0.047" stop-color="#008cfc"/><stop offset="0.062" stop-color="#008ffa"/><stop offset="0.078" stop-color="#0092f8"/><stop offset="0.094" stop-color="#0094f6"/><stop offset="0.109" stop-color="#0096f4"/><stop offset="0.125" stop-color="#0098f3"/><stop offset="0.188" stop-color="#0096f4"/><stop offset="0.250" stop-color="#0095f6"/><stop offset="0.312" stop-color="#0093f7"/><stop offset="0.375" stop-color="#0092f7"/><stop offset="0.438" stop-color="#0092f8"/><stop offset="0.500" stop-color="#0091f8"/><stop offset="0.667" stop-color="#0091f9"/><stop offset="0.833" stop-color="#0090f9"/><stop offset="1.000" stop-color="#0090f9"/></linearGradient>
<linearGradient id="h14" gradientUnits="userSpaceOnUse" x1="0" y1="206.7" x2="0" y2="16.5"><stop offset="0.000" stop-color="#0088ff"/><stop offset="0.016" stop-color="#008cfd"/><stop offset="0.031" stop-color="#008ffa"/><stop offset="0.047" stop-color="#0092f8"/><stop offset="0.062" stop-color="#0094f6"/><stop offset="0.078" stop-color="#0096f4"/><stop offset="0.094" stop-color="#0098f3"/><stop offset="0.109" stop-color="#009af1"/><stop offset="0.125" stop-color="#009cf0"/><stop offset="0.188" stop-color="#0098f3"/><stop offset="0.250" stop-color="#0096f5"/><stop offset="0.312" stop-color="#0094f6"/><stop offset="0.375" stop-color="#0093f7"/><stop offset="0.438" stop-color="#0092f8"/><stop offset="0.500" stop-color="#0092f8"/><stop offset="0.667" stop-color="#0091f9"/><stop offset="0.833" stop-color="#0090f9"/><stop offset="1.000" stop-color="#0090f9"/></linearGradient>
<linearGradient id="h15" gradientUnits="userSpaceOnUse" x1="0" y1="206.7" x2="0" y2="16.5"><stop offset="0.000" stop-color="#0096f4"/><stop offset="0.016" stop-color="#0098f3"/><stop offset="0.031" stop-color="#009af2"/><stop offset="0.047" stop-color="#009bf1"/><stop offset="0.062" stop-color="#009cf0"/><stop offset="0.078" stop-color="#009def"/><stop offset="0.094" stop-color="#009def"/><stop offset="0.109" stop-color="#009eee"/><stop offset="0.125" stop-color="#009fee"/><stop offset="0.188" stop-color="#009af1"/><stop offset="0.250" stop-color="#0097f4"/><stop offset="0.312" stop-color="#0095f5"/><stop offset="0.375" stop-color="#0093f6"/><stop offset="0.438" stop-color="#0093f7"/><stop offset="0.500" stop-color="#0092f8"/><stop offset="0.667" stop-color="#0091f9"/><stop offset="0.833" stop-color="#0091f9"/><stop offset="1.000" stop-color="#0090f9"/></linearGradient>
<linearGradient id="h16" gradientUnits="userSpaceOnUse" x1="0" y1="206.7" x2="0" y2="16.5"><stop offset="0.000" stop-color="#00a5ea"/><stop offset="0.016" stop-color="#00a4ea"/><stop offset="0.031" stop-color="#00a4eb"/><stop offset="0.047" stop-color="#00a3eb"/><stop offset="0.062" stop-color="#00a3eb"/><stop offset="0.078" stop-color="#00a3eb"/><stop offset="0.094" stop-color="#00a3eb"/><stop offset="0.109" stop-color="#00a2eb"/><stop offset="0.125" stop-color="#00a2ec"/><stop offset="0.188" stop-color="#009cf0"/><stop offset="0.250" stop-color="#0098f3"/><stop offset="0.312" stop-color="#0096f5"/><stop offset="0.375" stop-color="#0094f6"/><stop offset="0.438" stop-color="#0093f7"/><stop offset="0.500" stop-color="#0092f7"/><stop offset="0.667" stop-color="#0091f8"/><stop offset="0.833" stop-color="#0091f9"/><stop offset="1.000" stop-color="#0090f9"/></linearGradient>
<linearGradient id="h17" gradientUnits="userSpaceOnUse" x1="0" y1="206.7" x2="0" y2="16.5"><stop offset="0.000" stop-color="#00b2de"/><stop offset="0.016" stop-color="#00afe2"/><stop offset="0.031" stop-color="#00ade4"/><stop offset="0.047" stop-color="#00ace5"/><stop offset="0.062" stop-color="#00aae6"/><stop offset="0.078" stop-color="#00a9e7"/><stop offset="0.094" stop-color="#00a8e8"/><stop offset="0.109" stop-color="#00a6e9"/><stop offset="0.125" stop-color="#00a5ea"/><stop offset="0.188" stop-color="#009eee"/><stop offset="0.250" stop-color="#009af2"/><stop offset="0.312" stop-color="#0097f4"/><stop offset="0.375" stop-color="#0095f5"/><stop offset="0.438" stop-color="#0093f6"/><stop offset="0.500" stop-color="#0093f7"/><stop offset="0.667" stop-color="#0091f8"/><stop offset="0.833" stop-color="#0091f9"/><stop offset="1.000" stop-color="#0090f9"/></linearGradient>
<linearGradient id="h18" gradientUnits="userSpaceOnUse" x1="0" y1="206.7" x2="0" y2="16.5"><stop offset="0.000" stop-color="#00bccc"/><stop offset="0.016" stop-color="#00b8d3"/><stop offset="0.031" stop-color="#00b6d8"/><stop offset="0.047" stop-color="#00b3dc"/><stop offset="0.062" stop-color="#00b1df"/><stop offset="0.078" stop-color="#00afe2"/><stop offset="0.094" stop-color="#00ade4"/><stop offset="0.109" stop-color="#00abe6"/><stop offset="0.125" stop-color="#00a8e8"/><stop offset="0.188" stop-color="#00a0ed"/><stop offset="0.250" stop-color="#009bf1"/><stop offset="0.312" stop-color="#0098f3"/><stop offset="0.375" stop-color="#0095f5"/><stop offset="0.438" stop-color="#0094f6"/><stop offset="0.500" stop-color="#0093f7"/><stop offset="0.667" stop-color="#0092f8"/><stop offset="0.833" stop-color="#0091f9"/><stop offset="1.000" stop-color="#0090f9"/></linearGradient>
<linearGradient id="h19" gradientUnits="userSpaceOnUse" x1="0" y1="206.7" x2="0" y2="16.5"><stop offset="0.000" stop-color="#00c2b9"/><stop offset="0.016" stop-color="#00bec5"/><stop offset="0.031" stop-color="#00bbcc"/><stop offset="0.047" stop-color="#00b9d2"/><stop offset="0.062" stop-color="#00b6d7"/><stop offset="0.078" stop-color="#00b4dc"/><stop offset="0.094" stop-color="#00b1df"/><stop offset="0.109" stop-color="#00aee3"/><stop offset="0.125" stop-color="#00ace5"/><stop offset="0.188" stop-color="#00a2eb"/><stop offset="0.250" stop-color="#009cef"/><stop offset="0.312" stop-color="#0099f2"/><stop offset="0.375" stop-color="#0096f4"/><stop offset="0.438" stop-color="#0094f6"/><stop offset="0.500" stop-color="#0093f7"/><stop offset="0.667" stop-color="#0092f8"/><stop offset="0.833" stop-color="#0091f9"/><stop offset="1.000" stop-color="#0091f9"/></linearGradient>
<linearGradient id="h20" gradientUnits="userSpaceOnUse" x1="0" y1="206.7" x2="0" y2="16.5"><stop offset="0.000" stop-color="#00ca9c"/><stop offset="0.016" stop-color="#00c5ae"/><stop offset="0.031" stop-color="#00c2b9"/><stop offset="0.047" stop-color="#00bfc3"/><stop offset="0.062" stop-color="#00bccb"/><stop offset="0.078" stop-color="#00b9d2"/><stop offset="0.094" stop-color="#00b6d8"/><stop offset="0.109" stop-color="#00b2de"/><stop offset="0.125" stop-color="#00afe2"/><stop offset="0.188" stop-color="#00a4ea"/><stop offset="0.250" stop-color="#009eee"/><stop offset="0.312" stop-color="#009af2"/><stop offset="0.375" stop-color="#0097f4"/><stop offset="0.438" stop-color="#0095f5"/><stop offset="0.500" stop-color="#0094f6"/><stop offset="0.667" stop-color="#0092f8"/><stop offset="0.833" stop-color="#0091f8"/><stop offset="1.000" stop-color="#0091f9"/></linearGradient>
<linearGradient id="h21" gradientUnits="userSpaceOnUse" x1="0" y1="206.7" x2="0" y2="16.5"><stop offset="0.000" stop-color="#00d06a"/><stop offset="0.016" stop-color="#00cc8e"/><stop offset="0.031" stop-color="#00c8a1"/><stop offset="0.047" stop-color="#00c5af"/><stop offset="0.062" stop-color="#00c2bb"/><stop offset="0.078" stop-color="#00bec5"/><stop offset="0.094" stop-color="#00bacf"/><stop offset="0.109" stop-color="#00b6d7"/><stop offset="0.125" stop-color="#00b2df"/><stop offset="0.188" stop-color="#00a7e9"/><stop offset="0.250" stop-color="#009fed"/><stop offset="0.312" stop-color="#009af1"/><stop offset="0.375" stop-color="#0097f3"/><stop offset="0.438" stop-color="#0095f5"/><stop offset="0.500" stop-color="#0094f6"/><stop offset="0.667" stop-color="#0092f8"/><stop offset="0.833" stop-color="#0091f8"/><stop offset="1.000" stop-color="#0091f9"/></linearGradient>
<linearGradient id="h22" gradientUnits="userSpaceOnUse" x1="0" y1="206.7" x2="0" y2="16.5"><stop offset="0.000" stop-color="#8ecb1d"/><stop offset="0.016" stop-color="#28d062"/><stop offset="0.031" stop-color="#00ce82"/><stop offset="0.047" stop-color="#00ca98"/><stop offset="0.062" stop-color="#00c6a9"/><stop offset="0.078" stop-color="#00c2b8"/><stop offset="0.094" stop-color="#00bec5"/><stop offset="0.109" stop-color="#00bad0"/><stop offset="0.125" stop-color="#00b4da"/><stop offset="0.188" stop-color="#00a9e8"/><stop offset="0.250" stop-color="#00a1ec"/><stop offset="0.312" stop-color="#009bf0"/><stop offset="0.375" stop-color="#0098f3"/><stop offset="0.438" stop-color="#0096f5"/><stop offset="0.500" stop-color="#0094f6"/><stop offset="0.667" stop-color="#0092f7"/><stop offset="0.833" stop-color="#0091f8"/><stop offset="1.000" stop-color="#0091f9"/></linearGradient>
<linearGradient id="h23" gradientUnits="userSpaceOnUse" x1="0" y1="206.7" x2="0" y2="16.5"><stop offset="0.000" stop-color="#cec000"/><stop offset="0.016" stop-color="#7ecc2f"/><stop offset="0.031" stop-color="#2fd060"/><stop offset="0.047" stop-color="#00ce80"/><stop offset="0.062" stop-color="#00ca98"/><stop offset="0.078" stop-color="#00c6ab"/><stop offset="0.094" stop-color="#00c1bb"/><stop offset="0.109" stop-color="#00bdc9"/><stop offset="0.125" stop-color="#00b7d6"/><stop offset="0.188" stop-color="#00abe6"/><stop offset="0.250" stop-color="#00a2ec"/><stop offset="0.312" stop-color="#009cef"/><stop offset="0.375" stop-color="#0099f2"/><stop offset="0.438" stop-color="#0096f4"/><stop offset="0.500" stop-color="#0095f5"/><stop offset="0.667" stop-color="#0092f7"/><stop offset="0.833" stop-color="#0091f8"/><stop offset="1.000" stop-color="#0091f9"/></linearGradient>
<linearGradient id="h24" gradientUnits="userSpaceOnUse" x1="0" y1="206.7" x2="0" y2="16.5"><stop offset="0.000" stop-color="#f7b700"/><stop offset="0.016" stop-color="#b2c500"/><stop offset="0.031" stop-color="#72cd3a"/><stop offset="0.047" stop-color="#15d067"/><stop offset="0.062" stop-color="#00ce87"/><stop offset="0.078" stop-color="#00c99f"/><stop offset="0.094" stop-color="#00c4b2"/><stop offset="0.109" stop-color="#00bfc2"/><stop offset="0.125" stop-color="#00b9d1"/><stop offset="0.188" stop-color="#00ade4"/><stop offset="0.250" stop-color="#00a3eb"/><stop offset="0.312" stop-color="#009def"/><stop offset="0.375" stop-color="#0099f2"/><stop offset="0.438" stop-color="#0097f4"/><stop offset="0.500" stop-color="#0095f5"/><stop offset="0.667" stop-color="#0093f7"/><stop offset="0.833" stop-color="#0092f8"/><stop offset="1.000" stop-color="#0091f9"/></linearGradient>
<linearGradient id="h25" gradientUnits="userSpaceOnUse" x1="0" y1="206.7" x2="0" y2="16.5"><stop offset="0.000" stop-color="#ffc000"/><stop offset="0.016" stop-color="#dabd00"/><stop offset="0.031" stop-color="#a0c800"/><stop offset="0.047" stop-color="#5ccf4a"/><stop offset="0.062" stop-color="#00cf73"/><stop offset="0.078" stop-color="#00cc92"/><stop offset="0.094" stop-color="#00c6a9"/><stop offset="0.109" stop-color="#00c1bc"/><stop offset="0.125" stop-color="#00bbcd"/><stop offset="0.188" stop-color="#00aee3"/><stop offset="0.250" stop-color="#00a5ea"/><stop offset="0.312" stop-color="#009eee"/><stop offset="0.375" stop-color="#009af1"/><stop offset="0.438" stop-color="#0097f4"/><stop offset="0.500" stop-color="#0095f5"/><stop offset="0.667" stop-color="#0093f7"/><stop offset="0.833" stop-color="#0092f8"/><stop offset="1.000" stop-color="#0091f8"/></linearGradient>
<linearGradient id="h26" gradientUnits="userSpaceOnUse" x1="0" y1="206.7" x2="0" y2="16.5"><stop offset="0.000" stop-color="#ffd000"/><stop offset="0.016" stop-color="#f3b800"/><stop offset="0.031" stop-color="#bec300"/><stop offset="0.047" stop-color="#80cc2e"/><stop offset="0.062" stop-color="#29d061"/><stop offset="0.078" stop-color="#00ce86"/><stop offset="0.094" stop-color="#00c8a1"/><stop offset="0.109" stop-color="#00c3b6"/><stop offset="0.125" stop-color="#00bdc9"/><stop offset="0.188" stop-color="#00b0e1"/><stop offset="0.250" stop-color="#00a6e9"/><stop offset="0.312" stop-color="#009fee"/><stop offset="0.375" stop-color="#009af1"/><stop offset="0.438" stop-color="#0097f3"/><stop offset="0.500" stop-color="#0096f5"/><stop offset="0.667" stop-color="#0093f7"/><stop offset="0.833" stop-color="#0092f8"/><stop offset="1.000" stop-color="#0091f8"/></linearGradient>
<linearGradient id="h27" gradientUnits="userSpaceOnUse" x1="0" y1="206.7" x2="0" y2="16.5"><stop offset="0.000" stop-color="#fcdb00"/><stop offset="0.016" stop-color="#ffb700"/><stop offset="0.031" stop-color="#d1bf00"/><stop offset="0.047" stop-color="#96ca0e"/><stop offset="0.062" stop-color="#4bcf53"/><stop offset="0.078" stop-color="#00cf7c"/><stop offset="0.094" stop-color="#00ca9a"/><stop offset="0.109" stop-color="#00c4b1"/><stop offset="0.125" stop-color="#00bec5"/><stop offset="0.188" stop-color="#00b1df"/><stop offset="0.250" stop-color="#00a7e9"/><stop offset="0.312" stop-color="#009fed"/><stop offset="0.375" stop-color="#009bf1"/><stop offset="0.438" stop-color="#0098f3"/><stop offset="0.500" stop-color="#0096f5"/><stop offset="0.667" stop-color="#0093f7"/><stop offset="0.833" stop-color="#0092f8"/><stop offset="1.000" stop-color="#0091f8"/></linearGradient>
<linearGradient id="h28" gradientUnits="userSpaceOnUse" x1="0" y1="206.7" x2="0" y2="16.5"><stop offset="0.000" stop-color="#f8e400"/><stop offset="0.016" stop-color="#ffba00"/><stop offset="0.031" stop-color="#dfbc00"/><stop offset="0.047" stop-color="#a7c700"/><stop offset="0.062" stop-color="#62ce46"/><stop offset="0.078" stop-color="#00cf74"/><stop offset="0.094" stop-color="#00cb94"/><stop offset="0.109" stop-color="#00c5ad"/><stop offset="0.125" stop-color="#00bfc2"/><stop offset="0.188" stop-color="#00b2de"/><stop offset="0.250" stop-color="#00a7e9"/><stop offset="0.312" stop-color="#00a0ed"/><stop offset="0.375" stop-color="#009bf0"/><stop offset="0.438" stop-color="#0098f3"/><stop offset="0.500" stop-color="#0096f4"/><stop offset="0.667" stop-color="#0093f7"/><stop offset="0.833" stop-color="#0092f8"/><stop offset="1.000" stop-color="#0091f8"/></linearGradient>
<linearGradient id="h29" gradientUnits="userSpaceOnUse" x1="0" y1="206.7" x2="0" y2="16.5"><stop offset="0.000" stop-color="#f7ed00"/><stop offset="0.016" stop-color="#ffc100"/><stop offset="0.031" stop-color="#ebba00"/><stop offset="0.047" stop-color="#b5c500"/><stop offset="0.062" stop-color="#73cd3a"/><stop offset="0.078" stop-color="#00d06b"/><stop offset="0.094" stop-color="#00cc8f"/><stop offset="0.109" stop-color="#00c6aa"/><stop offset="0.125" stop-color="#00c0c0"/><stop offset="0.188" stop-color="#00b3dd"/><stop offset="0.250" stop-color="#00a8e8"/><stop offset="0.312" stop-color="#00a0ed"/><stop offset="0.375" stop-color="#009bf0"/><stop offset="0.438" stop-color="#0098f3"/><stop offset="0.500" stop-color="#0096f4"/><stop offset="0.667" stop-color="#0093f7"/><stop offset="0.833" stop-color="#0092f8"/><stop offset="1.000" stop-color="#0091f8"/></linearGradient>
<linearGradient id="h30" gradientUnits="userSpaceOnUse" x1="0" y1="206.7" x2="0" y2="16.5"><stop offset="0.000" stop-color="#f8f400"/><stop offset="0.016" stop-color="#ffc600"/><stop offset="0.031" stop-color="#f4b800"/><stop offset="0.047" stop-color="#c0c300"/><stop offset="0.062" stop-color="#7fcc2e"/><stop offset="0.078" stop-color="#1ed065"/><stop offset="0.094" stop-color="#00cd8b"/><stop offset="0.109" stop-color="#00c7a7"/><stop offset="0.125" stop-color="#00c0be"/><stop offset="0.188" stop-color="#00b3dc"/><stop offset="0.250" stop-color="#00a8e8"/><stop offset="0.312" stop-color="#00a1ec"/><stop offset="0.375" stop-color="#009cf0"/><stop offset="0.438" stop-color="#0098f3"/><stop offset="0.500" stop-color="#0096f4"/><stop offset="0.667" stop-color="#0093f7"/><stop offset="0.833" stop-color="#0092f8"/><stop offset="1.000" stop-color="#0091f8"/></linearGradient>
<linearGradient id="h31" gradientUnits="userSpaceOnUse" x1="0" y1="206.7" x2="0" y2="16.5"><stop offset="0.000" stop-color="#f8f800"/><stop offset="0.016" stop-color="#ffca00"/><stop offset="0.031" stop-color="#f9b700"/><stop offset="0.047" stop-color="#c6c200"/><stop offset="0.062" stop-color="#86cc27"/><stop offset="0.078" stop-color="#2ad061"/><stop offset="0.094" stop-color="#00cd89"/><stop offset="0.109" stop-color="#00c7a6"/><stop offset="0.125" stop-color="#00c1bd"/><stop offset="0.188" stop-color="#00b4db"/><stop offset="0.250" stop-color="#00a8e8"/><stop offset="0.312" stop-color="#00a1ec"/><stop offset="0.375" stop-color="#009cf0"/><stop offset="0.438" stop-color="#0098f3"/><stop offset="0.500" stop-color="#0096f4"/><stop offset="0.667" stop-color="#0093f7"/><stop offset="0.833" stop-color="#0092f8"/><stop offset="1.000" stop-color="#0091f8"/></linearGradient>
<linearGradient id="h32" gradientUnits="userSpaceOnUse" x1="0" y1="206.7" x2="0" y2="16.5"><stop offset="0.000" stop-color="#f8f900"/><stop offset="0.016" stop-color="#ffcb00"/><stop offset="0.031" stop-color="#fab700"/><stop offset="0.047" stop-color="#c7c100"/><stop offset="0.062" stop-color="#87cc26"/><stop offset="0.078" stop-color="#2cd061"/><stop offset="0.094" stop-color="#00cd89"/><stop offset="0.109" stop-color="#00c7a6"/><stop offset="0.125" stop-color="#00c1be"/><stop offset="0.188" stop-color="#00b4dc"/><stop offset="0.250" stop-color="#00a8e8"/><stop offset="0.312" stop-color="#00a1ec"/><stop offset="0.375" stop-color="#009cf0"/><stop offset="0.438" stop-color="#0098f3"/><stop offset="0.500" stop-color="#0096f4"/><stop offset="0.667" stop-color="#0093f7"/><stop offset="0.833" stop-color="#0092f8"/><stop offset="1.000" stop-color="#0091f8"/></linearGradient>
<linearGradient id="h33" gradientUnits="userSpaceOnUse" x1="0" y1="206.7" x2="0" y2="16.5"><stop offset="0.000" stop-color="#f8f400"/><stop offset="0.016" stop-color="#ffc600"/><stop offset="0.031" stop-color="#f4b800"/><stop offset="0.047" stop-color="#bfc300"/><stop offset="0.062" stop-color="#7ecc30"/><stop offset="0.078" stop-color="#19d066"/><stop offset="0.094" stop-color="#00cd8c"/><stop offset="0.109" stop-color="#00c6a8"/><stop offset="0.125" stop-color="#00c0bf"/><stop offset="0.188" stop-color="#00b3dc"/><stop offset="0.250" stop-color="#00a8e8"/><stop offset="0.312" stop-color="#00a0ed"/><stop offset="0.375" stop-color="#009cf0"/><stop offset="0.438" stop-color="#0098f3"/><stop offset="0.500" stop-color="#0096f4"/><stop offset="0.667" stop-color="#0093f7"/><stop offset="0.833" stop-color="#0092f8"/><stop offset="1.000" stop-color="#0091f8"/></linearGradient>
<linearGradient id="h34" gradientUnits="userSpaceOnUse" x1="0" y1="206.7" x2="0" y2="16.5"><stop offset="0.000" stop-color="#f7eb00"/><stop offset="0.016" stop-color="#ffbf00"/><stop offset="0.031" stop-color="#e9ba00"/><stop offset="0.047" stop-color="#b2c500"/><stop offset="0.062" stop-color="#6fce3d"/><stop offset="0.078" stop-color="#00cf6e"/><stop offset="0.094" stop-color="#00cc91"/><stop offset="0.109" stop-color="#00c6ab"/><stop offset="0.125" stop-color="#00c0c1"/><stop offset="0.188" stop-color="#00b3dd"/><stop offset="0.250" stop-color="#00a8e8"/><stop offset="0.312" stop-color="#00a0ed"/><stop offset="0.375" stop-color="#009bf0"/><stop offset="0.438" stop-color="#0098f3"/><stop offset="0.500" stop-color="#0096f4"/><stop offset="0.667" stop-color="#0093f7"/><stop offset="0.833" stop-color="#0092f8"/><stop offset="1.000" stop-color="#0091f8"/></linearGradient>
<linearGradient id="h35" gradientUnits="userSpaceOnUse" x1="0" y1="206.7" x2="0" y2="16.5"><stop offset="0.000" stop-color="#fbde00"/><stop offset="0.016" stop-color="#ffb700"/><stop offset="0.031" stop-color="#d6be00"/><stop offset="0.047" stop-color="#9cc900"/><stop offset="0.062" stop-color="#54cf4e"/><stop offset="0.078" stop-color="#00cf79"/><stop offset="0.094" stop-color="#00ca98"/><stop offset="0.109" stop-color="#00c5af"/><stop offset="0.125" stop-color="#00bfc4"/><stop offset="0.188" stop-color="#00b2de"/><stop offset="0.250" stop-color="#00a7e9"/><stop offset="0.312" stop-color="#00a0ed"/><stop offset="0.375" stop-color="#009bf1"/><stop offset="0.438" stop-color="#0098f3"/><stop offset="0.500" stop-color="#0096f5"/><stop offset="0.667" stop-color="#0093f7"/><stop offset="0.833" stop-color="#0092f8"/><stop offset="1.000" stop-color="#0091f8"/></linearGradient>
<linearGradient id="h36" gradientUnits="userSpaceOnUse" x1="0" y1="206.7" x2="0" y2="16.5"><stop offset="0.000" stop-color="#ffd000"/><stop offset="0.016" stop-color="#f4b800"/><stop offset="0.031" stop-color="#c0c300"/><stop offset="0.047" stop-color="#83cc2b"/><stop offset="0.062" stop-color="#31d05f"/><stop offset="0.078" stop-color="#00ce84"/><stop offset="0.094" stop-color="#00c99f"/><stop offset="0.109" stop-color="#00c3b4"/><stop offset="0.125" stop-color="#00bdc7"/><stop offset="0.188" stop-color="#00b1e0"/><stop offset="0.250" stop-color="#00a6e9"/><stop offset="0.312" stop-color="#009fed"/><stop offset="0.375" stop-color="#009bf1"/><stop offset="0.438" stop-color="#0098f3"/><stop offset="0.500" stop-color="#0096f5"/><stop offset="0.667" stop-color="#0093f7"/><stop offset="0.833" stop-color="#0092f8"/><stop offset="1.000" stop-color="#0091f8"/></linearGradient>
<linearGradient id="h37" gradientUnits="userSpaceOnUse" x1="0" y1="206.7" x2="0" y2="16.5"><stop offset="0.000" stop-color="#ffc200"/><stop offset="0.016" stop-color="#debc00"/><stop offset="0.031" stop-color="#a6c800"/><stop offset="0.047" stop-color="#64ce45"/><stop offset="0.062" stop-color="#00cf6f"/><stop offset="0.078" stop-color="#00cc8f"/><stop offset="0.094" stop-color="#00c7a6"/><stop offset="0.109" stop-color="#00c2ba"/><stop offset="0.125" stop-color="#00bccb"/><stop offset="0.188" stop-color="#00afe2"/><stop offset="0.250" stop-color="#00a5ea"/><stop offset="0.312" stop-color="#009eee"/><stop offset="0.375" stop-color="#009af1"/><stop offset="0.438" stop-color="#0097f3"/><stop offset="0.500" stop-color="#0095f5"/><stop offset="0.667" stop-color="#0093f7"/><stop offset="0.833" stop-color="#0092f8"/><stop offset="1.000" stop-color="#0091f8"/></linearGradient>
<linearGradient id="h38" gradientUnits="userSpaceOnUse" x1="0" y1="206.7" x2="0" y2="16.5"><stop offset="0.000" stop-color="#ffb700"/><stop offset="0.016" stop-color="#c0c300"/><stop offset="0.031" stop-color="#83cc2b"/><stop offset="0.047" stop-color="#36d05d"/><stop offset="0.062" stop-color="#00ce80"/><stop offset="0.078" stop-color="#00ca9a"/><stop offset="0.094" stop-color="#00c5ae"/><stop offset="0.109" stop-color="#00c0c0"/><stop offset="0.125" stop-color="#00bacf"/><stop offset="0.188" stop-color="#00ade3"/><stop offset="0.250" stop-color="#00a4ea"/><stop offset="0.312" stop-color="#009eee"/><stop offset="0.375" stop-color="#009af2"/><stop offset="0.438" stop-color="#0097f4"/><stop offset="0.500" stop-color="#0095f5"/><stop offset="0.667" stop-color="#0093f7"/><stop offset="0.833" stop-color="#0092f8"/><stop offset="1.000" stop-color="#0091f9"/></linearGradient>
<linearGradient id="h39" gradientUnits="userSpaceOnUse" x1="0" y1="206.7" x2="0" y2="16.5"><stop offset="0.000" stop-color="#dabd00"/><stop offset="0.016" stop-color="#8ecb1d"/><stop offset="0.031" stop-color="#46cf56"/><stop offset="0.047" stop-color="#00cf79"/><stop offset="0.062" stop-color="#00cb93"/><stop offset="0.078" stop-color="#00c7a7"/><stop offset="0.094" stop-color="#00c2b8"/><stop offset="0.109" stop-color="#00bec7"/><stop offset="0.125" stop-color="#00b8d4"/><stop offset="0.188" stop-color="#00ace5"/><stop offset="0.250" stop-color="#00a3eb"/><stop offset="0.312" stop-color="#009def"/><stop offset="0.375" stop-color="#0099f2"/><stop offset="0.438" stop-color="#0096f4"/><stop offset="0.500" stop-color="#0095f5"/><stop offset="0.667" stop-color="#0093f7"/><stop offset="0.833" stop-color="#0092f8"/><stop offset="1.000" stop-color="#0091f9"/></linearGradient>
<linearGradient id="h40" gradientUnits="userSpaceOnUse" x1="0" y1="206.7" x2="0" y2="16.5"><stop offset="0.000" stop-color="#9bc900"/><stop offset="0.016" stop-color="#3fcf59"/><stop offset="0.031" stop-color="#00cf7b"/><stop offset="0.047" stop-color="#00cb93"/><stop offset="0.062" stop-color="#00c7a6"/><stop offset="0.078" stop-color="#00c3b4"/><stop offset="0.094" stop-color="#00bfc2"/><stop offset="0.109" stop-color="#00bbce"/><stop offset="0.125" stop-color="#00b5d8"/><stop offset="0.188" stop-color="#00aae7"/><stop offset="0.250" stop-color="#00a1ec"/><stop offset="0.312" stop-color="#009cf0"/><stop offset="0.375" stop-color="#0098f3"/><stop offset="0.438" stop-color="#0096f4"/><stop offset="0.500" stop-color="#0095f6"/><stop offset="0.667" stop-color="#0092f7"/><stop offset="0.833" stop-color="#0091f8"/><stop offset="1.000" stop-color="#0091f9"/></linearGradient>
<linearGradient id="h41" gradientUnits="userSpaceOnUse" x1="0" y1="206.7" x2="0" y2="16.5"><stop offset="0.000" stop-color="#39d05c"/><stop offset="0.016" stop-color="#00ce85"/><stop offset="0.031" stop-color="#00ca9a"/><stop offset="0.047" stop-color="#00c6a9"/><stop offset="0.062" stop-color="#00c3b6"/><stop offset="0.078" stop-color="#00bfc2"/><stop offset="0.094" stop-color="#00bccc"/><stop offset="0.109" stop-color="#00b7d5"/><stop offset="0.125" stop-color="#00b3dd"/><stop offset="0.188" stop-color="#00a7e8"/><stop offset="0.250" stop-color="#00a0ed"/><stop offset="0.312" stop-color="#009bf1"/><stop offset="0.375" stop-color="#0098f3"/><stop offset="0.438" stop-color="#0096f5"/><stop offset="0.500" stop-color="#0094f6"/><stop offset="0.667" stop-color="#0092f8"/><stop offset="0.833" stop-color="#0091f8"/><stop offset="1.000" stop-color="#0091f9"/></linearGradient>
<linearGradient id="h42" gradientUnits="userSpaceOnUse" x1="0" y1="206.7" x2="0" y2="16.5"><stop offset="0.000" stop-color="#00cd88"/><stop offset="0.016" stop-color="#00c8a1"/><stop offset="0.031" stop-color="#00c5af"/><stop offset="0.047" stop-color="#00c2ba"/><stop offset="0.062" stop-color="#00bec4"/><stop offset="0.078" stop-color="#00bbcd"/><stop offset="0.094" stop-color="#00b8d5"/><stop offset="0.109" stop-color="#00b4db"/><stop offset="0.125" stop-color="#00b0e1"/><stop offset="0.188" stop-color="#00a5ea"/><stop offset="0.250" stop-color="#009eee"/><stop offset="0.312" stop-color="#009af1"/><stop offset="0.375" stop-color="#0097f4"/><stop offset="0.438" stop-color="#0095f5"/><stop offset="0.500" stop-color="#0094f6"/><stop offset="0.667" stop-color="#0092f8"/><stop offset="0.833" stop-color="#0091f8"/><stop offset="1.000" stop-color="#0091f9"/></linearGradient>
<linearGradient id="h43" gradientUnits="userSpaceOnUse" x1="0" y1="206.7" x2="0" y2="16.5"><stop offset="0.000" stop-color="#00c7a6"/><stop offset="0.016" stop-color="#00c3b6"/><stop offset="0.031" stop-color="#00c0c0"/><stop offset="0.047" stop-color="#00bdc9"/><stop offset="0.062" stop-color="#00bad0"/><stop offset="0.078" stop-color="#00b7d6"/><stop offset="0.094" stop-color="#00b3dc"/><stop offset="0.109" stop-color="#00b0e1"/><stop offset="0.125" stop-color="#00ace5"/><stop offset="0.188" stop-color="#00a3eb"/><stop offset="0.250" stop-color="#009def"/><stop offset="0.312" stop-color="#0099f2"/><stop offset="0.375" stop-color="#0096f4"/><stop offset="0.438" stop-color="#0095f5"/><stop offset="0.500" stop-color="#0093f6"/><stop offset="0.667" stop-color="#0092f8"/><stop offset="0.833" stop-color="#0091f8"/><stop offset="1.000" stop-color="#0091f9"/></linearGradient>
<linearGradient id="h44" gradientUnits="userSpaceOnUse" x1="0" y1="206.7" x2="0" y2="16.5"><stop offset="0.000" stop-color="#00c1bd"/><stop offset="0.016" stop-color="#00bdc9"/><stop offset="0.031" stop-color="#00bad0"/><stop offset="0.047" stop-color="#00b7d6"/><stop offset="0.062" stop-color="#00b4db"/><stop offset="0.078" stop-color="#00b1df"/><stop offset="0.094" stop-color="#00aee2"/><stop offset="0.109" stop-color="#00ace5"/><stop offset="0.125" stop-color="#00a9e8"/><stop offset="0.188" stop-color="#00a1ec"/><stop offset="0.250" stop-color="#009bf0"/><stop offset="0.312" stop-color="#0098f3"/><stop offset="0.375" stop-color="#0096f5"/><stop offset="0.438" stop-color="#0094f6"/><stop offset="0.500" stop-color="#0093f7"/><stop offset="0.667" stop-color="#0092f8"/><stop offset="0.833" stop-color="#0091f9"/><stop offset="1.000" stop-color="#0091f9"/></linearGradient>
<linearGradient id="h45" gradientUnits="userSpaceOnUse" x1="0" y1="206.7" x2="0" y2="16.5"><stop offset="0.000" stop-color="#00b9d1"/><stop offset="0.016" stop-color="#00b5d9"/><stop offset="0.031" stop-color="#00b3dd"/><stop offset="0.047" stop-color="#00b0e0"/><stop offset="0.062" stop-color="#00aee3"/><stop offset="0.078" stop-color="#00ace5"/><stop offset="0.094" stop-color="#00a9e7"/><stop offset="0.109" stop-color="#00a7e9"/><stop offset="0.125" stop-color="#00a5ea"/><stop offset="0.188" stop-color="#009eee"/><stop offset="0.250" stop-color="#009af1"/><stop offset="0.312" stop-color="#0097f4"/><stop offset="0.375" stop-color="#0095f5"/><stop offset="0.438" stop-color="#0094f6"/><stop offset="0.500" stop-color="#0093f7"/><stop offset="0.667" stop-color="#0091f8"/><stop offset="0.833" stop-color="#0091f9"/><stop offset="1.000" stop-color="#0090f9"/></linearGradient>
<linearGradient id="h46" gradientUnits="userSpaceOnUse" x1="0" y1="206.7" x2="0" y2="16.5"><stop offset="0.000" stop-color="#00aee2"/><stop offset="0.016" stop-color="#00ace5"/><stop offset="0.031" stop-color="#00aae7"/><stop offset="0.047" stop-color="#00a8e8"/><stop offset="0.062" stop-color="#00a7e9"/><stop offset="0.078" stop-color="#00a5ea"/><stop offset="0.094" stop-color="#00a4eb"/><stop offset="0.109" stop-color="#00a2eb"/><stop offset="0.125" stop-color="#00a1ec"/><stop offset="0.188" stop-color="#009cf0"/><stop offset="0.250" stop-color="#0098f3"/><stop offset="0.312" stop-color="#0096f4"/><stop offset="0.375" stop-color="#0094f6"/><stop offset="0.438" stop-color="#0093f7"/><stop offset="0.500" stop-color="#0092f7"/><stop offset="0.667" stop-color="#0091f8"/><stop offset="0.833" stop-color="#0091f9"/><stop offset="1.000" stop-color="#0090f9"/></linearGradient>
<linearGradient id="h47" gradientUnits="userSpaceOnUse" x1="0" y1="206.7" x2="0" y2="16.5"><stop offset="0.000" stop-color="#00a1ec"/><stop offset="0.016" stop-color="#00a0ed"/><stop offset="0.031" stop-color="#00a0ed"/><stop offset="0.047" stop-color="#009fed"/><stop offset="0.062" stop-color="#009fee"/><stop offset="0.078" stop-color="#009fee"/><stop offset="0.094" stop-color="#009eee"/><stop offset="0.109" stop-color="#009eee"/><stop offset="0.125" stop-color="#009def"/><stop offset="0.188" stop-color="#009af2"/><stop offset="0.250" stop-color="#0097f4"/><stop offset="0.312" stop-color="#0095f5"/><stop offset="0.375" stop-color="#0094f6"/><stop offset="0.438" stop-color="#0093f7"/><stop offset="0.500" stop-color="#0092f8"/><stop offset="0.667" stop-color="#0091f8"/><stop offset="0.833" stop-color="#0091f9"/><stop offset="1.000" stop-color="#0090f9"/></linearGradient>
<linearGradient id="h48" gradientUnits="userSpaceOnUse" x1="0" y1="206.7" x2="0" y2="16.5"><stop offset="0.000" stop-color="#0094f6"/><stop offset="0.016" stop-color="#0095f5"/><stop offset="0.031" stop-color="#0096f5"/><stop offset="0.047" stop-color="#0097f4"/><stop offset="0.062" stop-color="#0097f3"/><stop offset="0.078" stop-color="#0098f3"/><stop offset="0.094" stop-color="#0099f2"/><stop offset="0.109" stop-color="#0099f2"/><stop offset="0.125" stop-color="#009af2"/><stop offset="0.188" stop-color="#0097f3"/><stop offset="0.250" stop-color="#0096f5"/><stop offset="0.312" stop-color="#0094f6"/><stop offset="0.375" stop-color="#0093f7"/><stop offset="0.438" stop-color="#0092f7"/><stop offset="0.500" stop-color="#0092f8"/><stop offset="0.667" stop-color="#0091f8"/><stop offset="0.833" stop-color="#0091f9"/><stop offset="1.000" stop-color="#0090f9"/></linearGradient>
<linearGradient id="h49" gradientUnits="userSpaceOnUse" x1="0" y1="206.7" x2="0" y2="16.5"><stop offset="0.000" stop-color="#0087ff"/><stop offset="0.016" stop-color="#008afe"/><stop offset="0.031" stop-color="#008dfc"/><stop offset="0.047" stop-color="#008efb"/><stop offset="0.062" stop-color="#0090f9"/><stop offset="0.078" stop-color="#0092f8"/><stop offset="0.094" stop-color="#0093f7"/><stop offset="0.109" stop-color="#0095f6"/><stop offset="0.125" stop-color="#0096f4"/><stop offset="0.188" stop-color="#0095f5"/><stop offset="0.250" stop-color="#0094f6"/><stop offset="0.312" stop-color="#0093f6"/><stop offset="0.375" stop-color="#0093f7"/><stop offset="0.438" stop-color="#0092f8"/><stop offset="0.500" stop-color="#0092f8"/><stop offset="0.667" stop-color="#0091f9"/><stop offset="0.833" stop-color="#0091f9"/><stop offset="1.000" stop-color="#0090f9"/></linearGradient>
<linearGradient id="h50" gradientUnits="userSpaceOnUse" x1="0" y1="206.7" x2="0" y2="16.5"><stop offset="0.000" stop-color="#007bff"/><stop offset="0.016" stop-color="#0081ff"/><stop offset="0.031" stop-color="#0084ff"/><stop offset="0.047" stop-color="#0087ff"/><stop offset="0.062" stop-color="#008aff"/><stop offset="0.078" stop-color="#008cfd"/><stop offset="0.094" stop-color="#008efb"/><stop offset="0.109" stop-color="#0090f9"/><stop offset="0.125" stop-color="#0092f7"/><stop offset="0.188" stop-color="#0093f7"/><stop offset="0.250" stop-color="#0093f7"/><stop offset="0.312" stop-color="#0093f7"/><stop offset="0.375" stop-color="#0092f7"/><stop offset="0.438" stop-color="#0092f8"/><stop offset="0.500" stop-color="#0091f8"/><stop offset="0.667" stop-color="#0091f9"/><stop offset="0.833" stop-color="#0090f9"/><stop offset="1.000" stop-color="#0090f9"/></linearGradient>
<linearGradient id="h51" gradientUnits="userSpaceOnUse" x1="0" y1="206.7" x2="0" y2="16.5"><stop offset="0.000" stop-color="#2e6fff"/><stop offset="0.016" stop-color="#1a77ff"/><stop offset="0.031" stop-color="#007cff"/><stop offset="0.047" stop-color="#0080ff"/><stop offset="0.062" stop-color="#0084ff"/><stop offset="0.078" stop-color="#0087ff"/><stop offset="0.094" stop-color="#008aff"/><stop offset="0.109" stop-color="#008dfc"/><stop offset="0.125" stop-color="#008ffa"/><stop offset="0.188" stop-color="#0091f8"/><stop offset="0.250" stop-color="#0092f8"/><stop offset="0.312" stop-color="#0092f8"/><stop offset="0.375" stop-color="#0092f8"/><stop offset="0.438" stop-color="#0092f8"/><stop offset="0.500" stop-color="#0091f8"/><stop offset="0.667" stop-color="#0091f9"/><stop offset="0.833" stop-color="#0090f9"/><stop offset="1.000" stop-color="#0090f9"/></linearGradient>
<linearGradient id="h52" gradientUnits="userSpaceOnUse" x1="0" y1="206.7" x2="0" y2="16.5"><stop offset="0.000" stop-color="#3c63ff"/><stop offset="0.016" stop-color="#316dff"/><stop offset="0.031" stop-color="#2473ff"/><stop offset="0.047" stop-color="#1079ff"/><stop offset="0.062" stop-color="#007eff"/><stop offset="0.078" stop-color="#0082ff"/><stop offset="0.094" stop-color="#0086ff"/><stop offset="0.109" stop-color="#0089ff"/><stop offset="0.125" stop-color="#008dfc"/><stop offset="0.188" stop-color="#0090f9"/><stop offset="0.250" stop-color="#0091f8"/><stop offset="0.312" stop-color="#0092f8"/><stop offset="0.375" stop-color="#0092f8"/><stop offset="0.438" stop-color="#0091f8"/><stop offset="0.500" stop-color="#0091f8"/><stop offset="0.667" stop-color="#0091f9"/><stop offset="0.833" stop-color="#0090f9"/><stop offset="1.000" stop-color="#0090f9"/></linearGradient>
<linearGradient id="h53" gradientUnits="userSpaceOnUse" x1="0" y1="206.7" x2="0" y2="16.5"><stop offset="0.000" stop-color="#415bff"/><stop offset="0.016" stop-color="#3a66ff"/><stop offset="0.031" stop-color="#316dff"/><stop offset="0.047" stop-color="#2573ff"/><stop offset="0.062" stop-color="#1079ff"/><stop offset="0.078" stop-color="#007eff"/><stop offset="0.094" stop-color="#0083ff"/><stop offset="0.109" stop-color="#0087ff"/><stop offset="0.125" stop-color="#008bfe"/><stop offset="0.188" stop-color="#008ffa"/><stop offset="0.250" stop-color="#0091f9"/><stop offset="0.312" stop-color="#0091f8"/><stop offset="0.375" stop-color="#0091f8"/><stop offset="0.438" stop-color="#0091f8"/><stop offset="0.500" stop-color="#0091f8"/><stop offset="0.667" stop-color="#0091f9"/><stop offset="0.833" stop-color="#0090f9"/><stop offset="1.000" stop-color="#0090f9"/></linearGradient>
<linearGradient id="h54" gradientUnits="userSpaceOnUse" x1="0" y1="206.7" x2="0" y2="16.5"><stop offset="0.000" stop-color="#4357ff"/><stop offset="0.016" stop-color="#3d62ff"/><stop offset="0.031" stop-color="#3669ff"/><stop offset="0.047" stop-color="#2c70ff"/><stop offset="0.062" stop-color="#1b76ff"/><stop offset="0.078" stop-color="#007cff"/><stop offset="0.094" stop-color="#0081ff"/><stop offset="0.109" stop-color="#0086ff"/><stop offset="0.125" stop-color="#008afe"/><stop offset="0.188" stop-color="#008efb"/><stop offset="0.250" stop-color="#0090f9"/><stop offset="0.312" stop-color="#0091f8"/><stop offset="0.375" stop-color="#0091f8"/><stop offset="0.438" stop-color="#0091f8"/><stop offset="0.500" stop-color="#0091f8"/><stop offset="0.667" stop-color="#0091f9"/><stop offset="0.833" stop-color="#0090f9"/><stop offset="1.000" stop-color="#0090f9"/></linearGradient>
<linearGradient id="h55" gradientUnits="userSpaceOnUse" x1="0" y1="206.7" x2="0" y2="16.5"><stop offset="0.000" stop-color="#4357ff"/><stop offset="0.016" stop-color="#3d62ff"/><stop offset="0.031" stop-color="#3669ff"/><stop offset="0.047" stop-color="#2c70ff"/><stop offset="0.062" stop-color="#1b76ff"/><stop offset="0.078" stop-color="#007cff"/><stop offset="0.094" stop-color="#0081ff"/><stop offset="0.109" stop-color="#0085ff"/><stop offset="0.125" stop-color="#008aff"/><stop offset="0.188" stop-color="#008efb"/><stop offset="0.250" stop-color="#0090f9"/><stop offset="0.312" stop-color="#0091f9"/><stop offset="0.375" stop-color="#0091f8"/><stop offset="0.438" stop-color="#0091f8"/><stop offset="0.500" stop-color="#0091f8"/><stop offset="0.667" stop-color="#0091f9"/><stop offset="0.833" stop-color="#0090f9"/><stop offset="1.000" stop-color="#0090f9"/></linearGradient>
<linearGradient id="h56" gradientUnits="userSpaceOnUse" x1="0" y1="206.7" x2="0" y2="16.5"><stop offset="0.000" stop-color="#4358ff"/><stop offset="0.016" stop-color="#3c63ff"/><stop offset="0.031" stop-color="#356aff"/><stop offset="0.047" stop-color="#2a71ff"/><stop offset="0.062" stop-color="#1877ff"/><stop offset="0.078" stop-color="#007cff"/><stop offset="0.094" stop-color="#0081ff"/><stop offset="0.109" stop-color="#0086ff"/><stop offset="0.125" stop-color="#008afe"/><stop offset="0.188" stop-color="#008ffb"/><stop offset="0.250" stop-color="#0090f9"/><stop offset="0.312" stop-color="#0091f8"/><stop offset="0.375" stop-color="#0091f8"/><stop offset="0.438" stop-color="#0091f8"/><stop offset="0.500" stop-color="#0091f8"/><stop offset="0.667" stop-color="#0091f9"/><stop offset="0.833" stop-color="#0090f9"/><stop offset="1.000" stop-color="#0090f9"/></linearGradient>
<linearGradient id="h57" gradientUnits="userSpaceOnUse" x1="0" y1="206.7" x2="0" y2="16.5"><stop offset="0.000" stop-color="#425aff"/><stop offset="0.016" stop-color="#3b65ff"/><stop offset="0.031" stop-color="#326cff"/><stop offset="0.047" stop-color="#2673ff"/><stop offset="0.062" stop-color="#1179ff"/><stop offset="0.078" stop-color="#007eff"/><stop offset="0.094" stop-color="#0083ff"/><stop offset="0.109" stop-color="#0087ff"/><stop offset="0.125" stop-color="#008bfd"/><stop offset="0.188" stop-color="#008ffa"/><stop offset="0.250" stop-color="#0091f9"/><stop offset="0.312" stop-color="#0091f8"/><stop offset="0.375" stop-color="#0091f8"/><stop offset="0.438" stop-color="#0091f8"/><stop offset="0.500" stop-color="#0091f8"/><stop offset="0.667" stop-color="#0091f9"/><stop offset="0.833" stop-color="#0090f9"/><stop offset="1.000" stop-color="#0090f9"/></linearGradient>
<linearGradient id="h58" gradientUnits="userSpaceOnUse" x1="0" y1="206.7" x2="0" y2="16.5"><stop offset="0.000" stop-color="#405eff"/><stop offset="0.016" stop-color="#3769ff"/><stop offset="0.031" stop-color="#2c70ff"/><stop offset="0.047" stop-color="#1c76ff"/><stop offset="0.062" stop-color="#007cff"/><stop offset="0.078" stop-color="#0081ff"/><stop offset="0.094" stop-color="#0085ff"/><stop offset="0.109" stop-color="#0089ff"/><stop offset="0.125" stop-color="#008dfc"/><stop offset="0.188" stop-color="#0090f9"/><stop offset="0.250" stop-color="#0091f8"/><stop offset="0.312" stop-color="#0092f8"/><stop offset="0.375" stop-color="#0092f8"/><stop offset="0.438" stop-color="#0092f8"/><stop offset="0.500" stop-color="#0091f8"/><stop offset="0.667" stop-color="#0091f9"/><stop offset="0.833" stop-color="#0091f9"/><stop offset="1.000" stop-color="#0090f9"/></linearGradient>
<linearGradient id="h59" gradientUnits="userSpaceOnUse" x1="0" y1="206.7" x2="0" y2="16.5"><stop offset="0.000" stop-color="#366aff"/><stop offset="0.016" stop-color="#2673ff"/><stop offset="0.031" stop-color="#1278ff"/><stop offset="0.047" stop-color="#007dff"/><stop offset="0.062" stop-color="#0082ff"/><stop offset="0.078" stop-color="#0085ff"/><stop offset="0.094" stop-color="#0089ff"/><stop offset="0.109" stop-color="#008cfd"/><stop offset="0.125" stop-color="#008ffa"/><stop offset="0.188" stop-color="#0091f8"/><stop offset="0.250" stop-color="#0092f8"/><stop offset="0.312" stop-color="#0092f8"/><stop offset="0.375" stop-color="#0092f8"/><stop offset="0.438" stop-color="#0092f8"/><stop offset="0.500" stop-color="#0092f8"/><stop offset="0.667" stop-color="#0091f8"/><stop offset="0.833" stop-color="#0091f9"/><stop offset="1.000" stop-color="#0090f9"/></linearGradient>
<linearGradient id="h60" gradientUnits="userSpaceOnUse" x1="0" y1="206.7" x2="0" y2="16.5"><stop offset="0.000" stop-color="#1278ff"/><stop offset="0.016" stop-color="#007eff"/><stop offset="0.031" stop-color="#0082ff"/><stop offset="0.047" stop-color="#0085ff"/><stop offset="0.062" stop-color="#0088ff"/><stop offset="0.078" stop-color="#008bfe"/><stop offset="0.094" stop-color="#008dfc"/><stop offset="0.109" stop-color="#008ffa"/><stop offset="0.125" stop-color="#0091f8"/><stop offset="0.188" stop-color="#0092f7"/><stop offset="0.250" stop-color="#0093f7"/><stop offset="0.312" stop-color="#0093f7"/><stop offset="0.375" stop-color="#0092f7"/><stop offset="0.438" stop-color="#0092f8"/><stop offset="0.500" stop-color="#0092f8"/><stop offset="0.667" stop-color="#0091f8"/><stop offset="0.833" stop-color="#0091f9"/><stop offset="1.000" stop-color="#0090f9"/></linearGradient>
<linearGradient id="h61" gradientUnits="userSpaceOnUse" x1="0" y1="206.7" x2="0" y2="16.5"><stop offset="0.000" stop-color="#0085ff"/><stop offset="0.016" stop-color="#0088ff"/><stop offset="0.031" stop-color="#008afe"/><stop offset="0.047" stop-color="#008cfd"/><stop offset="0.062" stop-color="#008efb"/><stop offset="0.078" stop-color="#008ffa"/><stop offset="0.094" stop-color="#0091f9"/><stop offset="0.109" stop-color="#0092f7"/><stop offset="0.125" stop-color="#0094f6"/><stop offset="0.188" stop-color="#0094f6"/><stop offset="0.250" stop-color="#0093f6"/><stop offset="0.312" stop-color="#0093f7"/><stop offset="0.375" stop-color="#0093f7"/><stop offset="0.438" stop-color="#0092f7"/><stop offset="0.500" stop-color="#0092f8"/><stop offset="0.667" stop-color="#0091f8"/><stop offset="0.833" stop-color="#0091f9"/><stop offset="1.000" stop-color="#0090f9"/></linearGradient>
<linearGradient id="h62" gradientUnits="userSpaceOnUse" x1="0" y1="206.7" x2="0" y2="16.5"><stop offset="0.000" stop-color="#0090f9"/><stop offset="0.016" stop-color="#0092f8"/><stop offset="0.031" stop-color="#0092f7"/><stop offset="0.047" stop-color="#0093f7"/><stop offset="0.062" stop-color="#0094f6"/><stop offset="0.078" stop-color="#0095f6"/><stop offset="0.094" stop-color="#0095f5"/><stop offset="0.109" stop-color="#0096f5"/><stop offset="0.125" stop-color="#0096f4"/><stop offset="0.188" stop-color="#0095f5"/><stop offset="0.250" stop-color="#0094f6"/><stop offset="0.312" stop-color="#0094f6"/><stop offset="0.375" stop-color="#0093f7"/><stop offset="0.438" stop-color="#0093f7"/><stop offset="0.500" stop-color="#0092f8"/><stop offset="0.667" stop-color="#0091f8"/><stop offset="0.833" stop-color="#0091f9"/><stop offset="1.000" stop-color="#0091f9"/></linearGradient>
<linearGradient id="h63" gradientUnits="userSpaceOnUse" x1="0" y1="206.7" x2="0" y2="16.5"><stop offset="0.000" stop-color="#009def"/><stop offset="0.016" stop-color="#009cf0"/><stop offset="0.031" stop-color="#009bf0"/><stop offset="0.047" stop-color="#009bf1"/><stop offset="0.062" stop-color="#009af1"/><stop offset="0.078" stop-color="#009af1"/><stop offset="0.094" stop-color="#009af2"/><stop offset="0.109" stop-color="#0099f2"/><stop offset="0.125" stop-color="#0099f2"/><stop offset="0.188" stop-color="#0097f4"/><stop offset="0.250" stop-color="#0095f5"/><stop offset="0.312" stop-color="#0094f6"/><stop offset="0.375" stop-color="#0094f6"/><stop offset="0.438" stop-color="#0093f7"/><stop offset="0.500" stop-color="#0092f7"/><stop offset="0.667" stop-color="#0092f8"/><stop offset="0.833" stop-color="#0091f9"/><stop offset="1.000" stop-color="#0091f9"/></linearGradient>
<linearGradient id="h64" gradientUnits="userSpaceOnUse" x1="0" y1="206.7" x2="0" y2="16.5"><stop offset="0.000" stop-color="#00abe6"/><stop offset="0.016" stop-color="#00a7e9"/><stop offset="0.031" stop-color="#00a5ea"/><stop offset="0.047" stop-color="#00a3eb"/><stop offset="0.062" stop-color="#00a1ec"/><stop offset="0.078" stop-color="#00a0ed"/><stop offset="0.094" stop-color="#009eee"/><stop offset="0.109" stop-color="#009def"/><stop offset="0.125" stop-color="#009bf0"/><stop offset="0.188" stop-color="#0098f3"/><stop offset="0.250" stop-color="#0096f4"/><stop offset="0.312" stop-color="#0095f5"/><stop offset="0.375" stop-color="#0094f6"/><stop offset="0.438" stop-color="#0093f7"/><stop offset="0.500" stop-color="#0093f7"/><stop offset="0.667" stop-color="#0092f8"/><stop offset="0.833" stop-color="#0091f8"/><stop offset="1.000" stop-color="#0091f9"/></linearGradient>
<linearGradient id="h65" gradientUnits="userSpaceOnUse" x1="0" y1="206.7" x2="0" y2="16.5"><stop offset="0.000" stop-color="#00b8d3"/><stop offset="0.016" stop-color="#00b4dc"/><stop offset="0.031" stop-color="#00b0e1"/><stop offset="0.047" stop-color="#00ade4"/><stop offset="0.062" stop-color="#00a9e7"/><stop offset="0.078" stop-color="#00a6e9"/><stop offset="0.094" stop-color="#00a3eb"/><stop offset="0.109" stop-color="#00a1ec"/><stop offset="0.125" stop-color="#009eee"/><stop offset="0.188" stop-color="#009af1"/><stop offset="0.250" stop-color="#0097f3"/><stop offset="0.312" stop-color="#0096f5"/><stop offset="0.375" stop-color="#0094f6"/><stop offset="0.438" stop-color="#0094f6"/><stop offset="0.500" stop-color="#0093f7"/><stop offset="0.667" stop-color="#0092f8"/><stop offset="0.833" stop-color="#0091f8"/><stop offset="1.000" stop-color="#0091f9"/></linearGradient>
<linearGradient id="h66" gradientUnits="userSpaceOnUse" x1="0" y1="206.7" x2="0" y2="16.5"><stop offset="0.000" stop-color="#00c2b8"/><stop offset="0.016" stop-color="#00bdc8"/><stop offset="0.031" stop-color="#00b9d1"/><stop offset="0.047" stop-color="#00b5d9"/><stop offset="0.062" stop-color="#00b1df"/><stop offset="0.078" stop-color="#00ade4"/><stop offset="0.094" stop-color="#00a9e8"/><stop offset="0.109" stop-color="#00a5ea"/><stop offset="0.125" stop-color="#00a0ed"/><stop offset="0.188" stop-color="#009cf0"/><stop offset="0.250" stop-color="#0099f2"/><stop offset="0.312" stop-color="#0096f4"/><stop offset="0.375" stop-color="#0095f5"/><stop offset="0.438" stop-color="#0094f6"/><stop offset="0.500" stop-color="#0093f7"/><stop offset="0.667" stop-color="#0092f8"/><stop offset="0.833" stop-color="#0091f8"/><stop offset="1.000" stop-color="#0091f9"/></linearGradient>
<linearGradient id="h67" gradientUnits="userSpaceOnUse" x1="0" y1="206.7" x2="0" y2="16.5"><stop offset="0.000" stop-color="#00ca9b"/><stop offset="0.016" stop-color="#00c4b2"/><stop offset="0.031" stop-color="#00c0c0"/><stop offset="0.047" stop-color="#00bccc"/><stop offset="0.062" stop-color="#00b7d5"/><stop offset="0.078" stop-color="#00b3dd"/><stop offset="0.094" stop-color="#00aee3"/><stop offset="0.109" stop-color="#00a8e8"/><stop offset="0.125" stop-color="#00a3eb"/><stop offset="0.188" stop-color="#009def"/><stop offset="0.250" stop-color="#009af2"/><stop offset="0.312" stop-color="#0097f4"/><stop offset="0.375" stop-color="#0095f5"/><stop offset="0.438" stop-color="#0094f6"/><stop offset="0.500" stop-color="#0093f6"/><stop offset="0.667" stop-color="#0092f8"/><stop offset="0.833" stop-color="#0091f8"/><stop offset="1.000" stop-color="#0091f9"/></linearGradient>
<linearGradient id="h68" gradientUnits="userSpaceOnUse" x1="0" y1="206.7" x2="0" y2="16.5"><stop offset="0.000" stop-color="#00cf76"/><stop offset="0.016" stop-color="#00ca9b"/><stop offset="0.031" stop-color="#00c5ae"/><stop offset="0.047" stop-color="#00c1bd"/><stop offset="0.062" stop-color="#00bcca"/><stop offset="0.078" stop-color="#00b7d5"/><stop offset="0.094" stop-color="#00b2de"/><stop offset="0.109" stop-color="#00ace5"/><stop offset="0.125" stop-color="#00a5ea"/><stop offset="0.188" stop-color="#009fee"/><stop offset="0.250" stop-color="#009bf1"/><stop offset="0.312" stop-color="#0098f3"/><stop offset="0.375" stop-color="#0096f5"/><stop offset="0.438" stop-color="#0095f6"/><stop offset="0.500" stop-color="#0094f6"/><stop offset="0.667" stop-color="#0092f8"/><stop offset="0.833" stop-color="#0091f8"/><stop offset="1.000" stop-color="#0091f9"/></linearGradient>
<linearGradient id="h69" gradientUnits="userSpaceOnUse" x1="0" y1="206.7" x2="0" y2="16.5"><stop offset="0.000" stop-color="#73cd3a"/><stop offset="0.016" stop-color="#00cf78"/><stop offset="0.031" stop-color="#00cb96"/><stop offset="0.047" stop-color="#00c6ab"/><stop offset="0.062" stop-color="#00c1bc"/><stop offset="0.078" stop-color="#00bcca"/><stop offset="0.094" stop-color="#00b6d7"/><stop offset="0.109" stop-color="#00afe1"/><stop offset="0.125" stop-color="#00a8e8"/><stop offset="0.188" stop-color="#00a0ed"/><stop offset="0.250" stop-color="#009bf0"/><stop offset="0.312" stop-color="#0098f3"/><stop offset="0.375" stop-color="#0096f4"/><stop offset="0.438" stop-color="#0095f5"/><stop offset="0.500" stop-color="#0094f6"/><stop offset="0.667" stop-color="#0092f7"/><stop offset="0.833" stop-color="#0091f8"/><stop offset="1.000" stop-color="#0091f9"/></linearGradient>
<linearGradient id="h70" gradientUnits="userSpaceOnUse" x1="0" y1="206.7" x2="0" y2="16.5"><stop offset="0.000" stop-color="#c4c200"/><stop offset="0.016" stop-color="#62ce46"/><stop offset="0.031" stop-color="#00cf76"/><stop offset="0.047" stop-color="#00cb95"/><stop offset="0.062" stop-color="#00c5ac"/><stop offset="0.078" stop-color="#00c0bf"/><stop offset="0.094" stop-color="#00bacf"/><stop offset="0.109" stop-color="#00b3dd"/><stop offset="0.125" stop-color="#00aae7"/><stop offset="0.188" stop-color="#00a2ec"/><stop offset="0.250" stop-color="#009cef"/><stop offset="0.312" stop-color="#0099f2"/><stop offset="0.375" stop-color="#0097f4"/><stop offset="0.438" stop-color="#0095f5"/><stop offset="0.500" stop-color="#0094f6"/><stop offset="0.667" stop-color="#0092f7"/><stop offset="0.833" stop-color="#0091f8"/><stop offset="1.000" stop-color="#0091f9"/></linearGradient>
<linearGradient id="h71" gradientUnits="userSpaceOnUse" x1="0" y1="206.7" x2="0" y2="16.5"><stop offset="0.000" stop-color="#f9b700"/><stop offset="0.016" stop-color="#a6c700"/><stop offset="0.031" stop-color="#54cf4f"/><stop offset="0.047" stop-color="#00cf7d"/><stop offset="0.062" stop-color="#00c99c"/><stop offset="0.078" stop-color="#00c3b4"/><stop offset="0.094" stop-color="#00bdc8"/><stop offset="0.109" stop-color="#00b5d9"/><stop offset="0.125" stop-color="#00abe6"/><stop offset="0.188" stop-color="#00a3eb"/><stop offset="0.250" stop-color="#009def"/><stop offset="0.312" stop-color="#0099f2"/><stop offset="0.375" stop-color="#0097f4"/><stop offset="0.438" stop-color="#0095f5"/><stop offset="0.500" stop-color="#0094f6"/><stop offset="0.667" stop-color="#0092f7"/><stop offset="0.833" stop-color="#0091f8"/><stop offset="1.000" stop-color="#0091f9"/></linearGradient>
<linearGradient id="h72" gradientUnits="userSpaceOnUse" x1="0" y1="206.7" x2="0" y2="16.5"><stop offset="0.000" stop-color="#ffc200"/><stop offset="0.016" stop-color="#d2bf00"/><stop offset="0.031" stop-color="#88cb25"/><stop offset="0.047" stop-color="#1fd064"/><stop offset="0.062" stop-color="#00cd8d"/><stop offset="0.078" stop-color="#00c6aa"/><stop offset="0.094" stop-color="#00bfc2"/><stop offset="0.109" stop-color="#00b7d6"/><stop offset="0.125" stop-color="#00ade5"/><stop offset="0.188" stop-color="#00a3eb"/><stop offset="0.250" stop-color="#009def"/><stop offset="0.312" stop-color="#0099f2"/><stop offset="0.375" stop-color="#0097f4"/><stop offset="0.438" stop-color="#0095f5"/><stop offset="0.500" stop-color="#0094f6"/><stop offset="0.667" stop-color="#0092f7"/><stop offset="0.833" stop-color="#0091f8"/><stop offset="1.000" stop-color="#0091f9"/></linearGradient>
<linearGradient id="h73" gradientUnits="userSpaceOnUse" x1="0" y1="206.7" x2="0" y2="16.5"><stop offset="0.000" stop-color="#ffd200"/><stop offset="0.016" stop-color="#ebba00"/><stop offset="0.031" stop-color="#a7c700"/><stop offset="0.047" stop-color="#4fcf51"/><stop offset="0.062" stop-color="#00ce82"/><stop offset="0.078" stop-color="#00c8a4"/><stop offset="0.094" stop-color="#00c1bd"/><stop offset="0.109" stop-color="#00b8d3"/><stop offset="0.125" stop-color="#00ade4"/><stop offset="0.188" stop-color="#00a4eb"/><stop offset="0.250" stop-color="#009eef"/><stop offset="0.312" stop-color="#009af2"/><stop offset="0.375" stop-color="#0097f4"/><stop offset="0.438" stop-color="#0095f5"/><stop offset="0.500" stop-color="#0094f6"/><stop offset="0.667" stop-color="#0092f7"/><stop offset="0.833" stop-color="#0091f8"/><stop offset="1.000" stop-color="#0091f9"/></linearGradient>
<linearGradient id="h74" gradientUnits="userSpaceOnUse" x1="0" y1="206.7" x2="0" y2="16.5"><stop offset="0.000" stop-color="#fbdd00"/><stop offset="0.016" stop-color="#f9b700"/><stop offset="0.031" stop-color="#b8c400"/><stop offset="0.047" stop-color="#65ce44"/><stop offset="0.062" stop-color="#00cf7b"/><stop offset="0.078" stop-color="#00c9a0"/><stop offset="0.094" stop-color="#00c1bb"/><stop offset="0.109" stop-color="#00b9d2"/><stop offset="0.125" stop-color="#00ade4"/><stop offset="0.188" stop-color="#00a4eb"/><stop offset="0.250" stop-color="#009def"/><stop offset="0.312" stop-color="#0099f2"/><stop offset="0.375" stop-color="#0097f4"/><stop offset="0.438" stop-color="#0095f5"/><stop offset="0.500" stop-color="#0094f6"/><stop offset="0.667" stop-color="#0092f8"/><stop offset="0.833" stop-color="#0091f8"/><stop offset="1.000" stop-color="#0091f9"/></linearGradient>
<linearGradient id="h75" gradientUnits="userSpaceOnUse" x1="0" y1="206.7" x2="0" y2="16.5"><stop offset="0.000" stop-color="#f9e200"/><stop offset="0.016" stop-color="#feb700"/><stop offset="0.031" stop-color="#bec300"/><stop offset="0.047" stop-color="#6cce3f"/><stop offset="0.062" stop-color="#00cf78"/><stop offset="0.078" stop-color="#00c99f"/><stop offset="0.094" stop-color="#00c1bb"/><stop offset="0.109" stop-color="#00b9d3"/><stop offset="0.125" stop-color="#00ade4"/><stop offset="0.188" stop-color="#00a3eb"/><stop offset="0.250" stop-color="#009def"/><stop offset="0.312" stop-color="#0099f2"/><stop offset="0.375" stop-color="#0097f4"/><stop offset="0.438" stop-color="#0095f5"/><stop offset="0.500" stop-color="#0094f6"/><stop offset="0.667" stop-color="#0092f8"/><stop offset="0.833" stop-color="#0091f8"/><stop offset="1.000" stop-color="#0091f9"/></linearGradient>
<linearGradient id="h76" gradientUnits="userSpaceOnUse" x1="0" y1="206.7" x2="0" y2="16.5"><stop offset="0.000" stop-color="#fbdf00"/><stop offset="0.016" stop-color="#f9b700"/><stop offset="0.031" stop-color="#b7c400"/><stop offset="0.047" stop-color="#63ce46"/><stop offset="0.062" stop-color="#00cf7d"/><stop offset="0.078" stop-color="#00c8a2"/><stop offset="0.094" stop-color="#00c1bd"/><stop offset="0.109" stop-color="#00b8d4"/><stop offset="0.125" stop-color="#00abe5"/><stop offset="0.188" stop-color="#00a2eb"/><stop offset="0.250" stop-color="#009def"/><stop offset="0.312" stop-color="#0099f2"/><stop offset="0.375" stop-color="#0096f4"/><stop offset="0.438" stop-color="#0095f5"/><stop offset="0.500" stop-color="#0094f6"/><stop offset="0.667" stop-color="#0092f8"/><stop offset="0.833" stop-color="#0091f8"/><stop offset="1.000" stop-color="#0091f9"/></linearGradient>
<linearGradient id="h77" gradientUnits="userSpaceOnUse" x1="0" y1="206.7" x2="0" y2="16.5"><stop offset="0.000" stop-color="#ffd500"/><stop offset="0.016" stop-color="#ecb900"/><stop offset="0.031" stop-color="#a5c800"/><stop offset="0.047" stop-color="#49cf54"/><stop offset="0.062" stop-color="#00ce86"/><stop offset="0.078" stop-color="#00c7a7"/><stop offset="0.094" stop-color="#00bfc1"/><stop offset="0.109" stop-color="#00b6d7"/><stop offset="0.125" stop-color="#00aae7"/><stop offset="0.188" stop-color="#00a1ec"/><stop offset="0.250" stop-color="#009cf0"/><stop offset="0.312" stop-color="#0098f3"/><stop offset="0.375" stop-color="#0096f5"/><stop offset="0.438" stop-color="#0094f6"/><stop offset="0.500" stop-color="#0093f7"/><stop offset="0.667" stop-color="#0092f8"/><stop offset="0.833" stop-color="#0091f8"/><stop offset="1.000" stop-color="#0091f9"/></linearGradient>
<linearGradient id="h78" gradientUnits="userSpaceOnUse" x1="0" y1="206.7" x2="0" y2="16.5"><stop offset="0.000" stop-color="#ffc400"/><stop offset="0.016" stop-color="#d1bf00"/><stop offset="0.031" stop-color="#83cc2a"/><stop offset="0.047" stop-color="#00d06a"/><stop offset="0.062" stop-color="#00cb93"/><stop offset="0.078" stop-color="#00c4b0"/><stop offset="0.094" stop-color="#00bdc8"/><stop offset="0.109" stop-color="#00b4db"/><stop offset="0.125" stop-color="#00a8e8"/><stop offset="0.188" stop-color="#00a0ed"/><stop offset="0.250" stop-color="#009bf1"/><stop offset="0.312" stop-color="#0098f3"/><stop offset="0.375" stop-color="#0095f5"/><stop offset="0.438" stop-color="#0094f6"/><stop offset="0.500" stop-color="#0093f7"/><stop offset="0.667" stop-color="#0092f8"/><stop offset="0.833" stop-color="#0091f9"/><stop offset="1.000" stop-color="#0091f9"/></linearGradient>
<linearGradient id="h79" gradientUnits="userSpaceOnUse" x1="0" y1="206.7" x2="0" y2="16.5"><stop offset="0.000" stop-color="#f4b800"/><stop offset="0.016" stop-color="#9bc900"/><stop offset="0.031" stop-color="#3cd05a"/><stop offset="0.047" stop-color="#00ce87"/><stop offset="0.062" stop-color="#00c7a5"/><stop offset="0.078" stop-color="#00c1bc"/><stop offset="0.094" stop-color="#00bad0"/><stop offset="0.109" stop-color="#00b0e0"/><stop offset="0.125" stop-color="#00a5ea"/><stop offset="0.188" stop-color="#009eee"/><stop offset="0.250" stop-color="#009af2"/><stop offset="0.312" stop-color="#0097f4"/><stop offset="0.375" stop-color="#0095f5"/><stop offset="0.438" stop-color="#0094f6"/><stop offset="0.500" stop-color="#0093f7"/><stop offset="0.667" stop-color="#0091f8"/><stop offset="0.833" stop-color="#0091f9"/><stop offset="1.000" stop-color="#0090f9"/></linearGradient>
<linearGradient id="h80" gradientUnits="userSpaceOnUse" x1="0" y1="206.7" x2="0" y2="16.5"><stop offset="0.000" stop-color="#a4c800"/><stop offset="0.016" stop-color="#27d062"/><stop offset="0.031" stop-color="#00cd8a"/><stop offset="0.047" stop-color="#00c7a5"/><stop offset="0.062" stop-color="#00c2b9"/><stop offset="0.078" stop-color="#00bccb"/><stop offset="0.094" stop-color="#00b5da"/><stop offset="0.109" stop-color="#00ace5"/><stop offset="0.125" stop-color="#00a3eb"/><stop offset="0.188" stop-color="#009def"/><stop offset="0.250" stop-color="#0099f2"/><stop offset="0.312" stop-color="#0096f4"/><stop offset="0.375" stop-color="#0094f6"/><stop offset="0.438" stop-color="#0093f7"/><stop offset="0.500" stop-color="#0092f7"/><stop offset="0.667" stop-color="#0091f8"/><stop offset="0.833" stop-color="#0091f9"/><stop offset="1.000" stop-color="#0090f9"/></linearGradient>
<linearGradient id="h81" gradientUnits="userSpaceOnUse" x1="0" y1="206.7" x2="0" y2="16.5"><stop offset="0.000" stop-color="#00cf70"/><stop offset="0.016" stop-color="#00ca9a"/><stop offset="0.031" stop-color="#00c5af"/><stop offset="0.047" stop-color="#00c0bf"/><stop offset="0.062" stop-color="#00bbcd"/><stop offset="0.078" stop-color="#00b5d9"/><stop offset="0.094" stop-color="#00afe2"/><stop offset="0.109" stop-color="#00a7e8"/><stop offset="0.125" stop-color="#00a0ed"/><stop offset="0.188" stop-color="#009bf1"/><stop offset="0.250" stop-color="#0097f3"/><stop offset="0.312" stop-color="#0095f5"/><stop offset="0.375" stop-color="#0094f6"/><stop offset="0.438" stop-color="#0093f7"/><stop offset="0.500" stop-color="#0092f8"/><stop offset="0.667" stop-color="#0091f8"/><stop offset="0.833" stop-color="#0091f9"/><stop offset="1.000" stop-color="#0090f9"/></linearGradient>
<linearGradient id="h82" gradientUnits="userSpaceOnUse" x1="0" y1="206.7" x2="0" y2="16.5"><stop offset="0.000" stop-color="#00c8a3"/><stop offset="0.016" stop-color="#00c2ba"/><stop offset="0.031" stop-color="#00bdc8"/><stop offset="0.047" stop-color="#00b8d3"/><stop offset="0.062" stop-color="#00b4dc"/><stop offset="0.078" stop-color="#00aee3"/><stop offset="0.094" stop-color="#00a9e8"/><stop offset="0.109" stop-color="#00a3eb"/><stop offset="0.125" stop-color="#009def"/><stop offset="0.188" stop-color="#0099f2"/><stop offset="0.250" stop-color="#0096f4"/><stop offset="0.312" stop-color="#0094f6"/><stop offset="0.375" stop-color="#0093f7"/><stop offset="0.438" stop-color="#0092f7"/><stop offset="0.500" stop-color="#0092f8"/><stop offset="0.667" stop-color="#0091f9"/><stop offset="0.833" stop-color="#0090f9"/><stop offset="1.000" stop-color="#0090f9"/></linearGradient>
<linearGradient id="h83" gradientUnits="userSpaceOnUse" x1="0" y1="206.7" x2="0" y2="16.5"><stop offset="0.000" stop-color="#00bfc3"/><stop offset="0.016" stop-color="#00b9d2"/><stop offset="0.031" stop-color="#00b4db"/><stop offset="0.047" stop-color="#00b0e1"/><stop offset="0.062" stop-color="#00abe6"/><stop offset="0.078" stop-color="#00a7e9"/><stop offset="0.094" stop-color="#00a2eb"/><stop offset="0.109" stop-color="#009eee"/><stop offset="0.125" stop-color="#009af1"/><stop offset="0.188" stop-color="#0097f4"/><stop offset="0.250" stop-color="#0095f5"/><stop offset="0.312" stop-color="#0094f6"/><stop offset="0.375" stop-color="#0093f7"/><stop offset="0.438" stop-color="#0092f8"/><stop offset="0.500" stop-color="#0091f8"/><stop offset="0.667" stop-color="#0091f9"/><stop offset="0.833" stop-color="#0090f9"/><stop offset="1.000" stop-color="#0090f9"/></linearGradient>
<linearGradient id="h84" gradientUnits="userSpaceOnUse" x1="0" y1="206.7" x2="0" y2="16.5"><stop offset="0.000" stop-color="#00b2de"/><stop offset="0.016" stop-color="#00ace5"/><stop offset="0.031" stop-color="#00a8e8"/><stop offset="0.047" stop-color="#00a4ea"/><stop offset="0.062" stop-color="#00a1ec"/><stop offset="0.078" stop-color="#009eee"/><stop offset="0.094" stop-color="#009bf1"/><stop offset="0.109" stop-color="#0098f3"/><stop offset="0.125" stop-color="#0095f6"/><stop offset="0.188" stop-color="#0094f6"/><stop offset="0.250" stop-color="#0093f7"/><stop offset="0.312" stop-color="#0093f7"/><stop offset="0.375" stop-color="#0092f8"/><stop offset="0.438" stop-color="#0091f8"/><stop offset="0.500" stop-color="#0091f8"/><stop offset="0.667" stop-color="#0090f9"/><stop offset="0.833" stop-color="#0090f9"/><stop offset="1.000" stop-color="#0090f9"/></linearGradient>
<linearGradient id="h85" gradientUnits="userSpaceOnUse" x1="0" y1="206.7" x2="0" y2="16.5"><stop offset="0.000" stop-color="#009eee"/><stop offset="0.016" stop-color="#009af2"/><stop offset="0.031" stop-color="#0097f4"/><stop offset="0.047" stop-color="#0094f6"/><stop offset="0.062" stop-color="#0092f8"/><stop offset="0.078" stop-color="#008ffa"/><stop offset="0.094" stop-color="#008dfc"/><stop offset="0.109" stop-color="#008bfd"/><stop offset="0.125" stop-color="#0089ff"/><stop offset="0.188" stop-color="#008dfc"/><stop offset="0.250" stop-color="#008ffa"/><stop offset="0.312" stop-color="#0091f9"/><stop offset="0.375" stop-color="#0091f9"/><stop offset="0.438" stop-color="#0091f9"/><stop offset="0.500" stop-color="#0091f9"/><stop offset="0.667" stop-color="#0090f9"/><stop offset="0.833" stop-color="#0090f9"/><stop offset="1.000" stop-color="#0090f9"/></linearGradient>
<linearGradient id="h86" gradientUnits="userSpaceOnUse" x1="0" y1="206.7" x2="0" y2="16.5"><stop offset="0.000" stop-color="#0084ff"/><stop offset="0.016" stop-color="#0080ff"/><stop offset="0.031" stop-color="#007eff"/><stop offset="0.047" stop-color="#007cff"/><stop offset="0.062" stop-color="#0a7aff"/><stop offset="0.078" stop-color="#1578ff"/><stop offset="0.094" stop-color="#1c76ff"/><stop offset="0.109" stop-color="#2274ff"/><stop offset="0.125" stop-color="#2772ff"/><stop offset="0.188" stop-color="#007dff"/><stop offset="0.250" stop-color="#0085ff"/><stop offset="0.312" stop-color="#008afe"/><stop offset="0.375" stop-color="#008efb"/><stop offset="0.438" stop-color="#008ffa"/><stop offset="0.500" stop-color="#008ffa"/><stop offset="0.667" stop-color="#0090fa"/><stop offset="0.833" stop-color="#0090fa"/><stop offset="1.000" stop-color="#0090fa"/></linearGradient>
<linearGradient id="h87" gradientUnits="userSpaceOnUse" x1="0" y1="206.7" x2="0" y2="16.5"><stop offset="0.000" stop-color="#4259ff"/><stop offset="0.016" stop-color="#4358ff"/><stop offset="0.031" stop-color="#4358ff"/><stop offset="0.047" stop-color="#4357ff"/><stop offset="0.062" stop-color="#4457ff"/><stop offset="0.078" stop-color="#4456ff"/><stop offset="0.094" stop-color="#4456ff"/><stop offset="0.109" stop-color="#4455ff"/><stop offset="0.125" stop-color="#4455ff"/><stop offset="0.188" stop-color="#3c63ff"/><stop offset="0.250" stop-color="#2b70ff"/><stop offset="0.312" stop-color="#007cff"/><stop offset="0.375" stop-color="#0084ff"/><stop offset="0.438" stop-color="#0088ff"/><stop offset="0.500" stop-color="#008afe"/><stop offset="0.667" stop-color="#008efb"/><stop offset="0.833" stop-color="#008ffa"/><stop offset="1.000" stop-color="#0090fa"/></linearGradient>
<linearGradient id="h88" gradientUnits="userSpaceOnUse" x1="0" y1="206.7" x2="0" y2="16.5"><stop offset="0.000" stop-color="#462eca"/><stop offset="0.016" stop-color="#4731d2"/><stop offset="0.031" stop-color="#4733d7"/><stop offset="0.047" stop-color="#4835db"/><stop offset="0.062" stop-color="#4837df"/><stop offset="0.078" stop-color="#4838e2"/><stop offset="0.094" stop-color="#483ae5"/><stop offset="0.109" stop-color="#483ce7"/><stop offset="0.125" stop-color="#483dea"/><stop offset="0.188" stop-color="#464efa"/><stop offset="0.250" stop-color="#415dff"/><stop offset="0.312" stop-color="#356aff"/><stop offset="0.375" stop-color="#1d75ff"/><stop offset="0.438" stop-color="#007eff"/><stop offset="0.500" stop-color="#0083ff"/><stop offset="0.667" stop-color="#008bfd"/><stop offset="0.833" stop-color="#008efb"/><stop offset="1.000" stop-color="#008ffa"/></linearGradient>
<linearGradient id="h89" gradientUnits="userSpaceOnUse" x1="0" y1="206.7" x2="0" y2="16.5"><stop offset="0.000" stop-color="#462eca"/><stop offset="0.016" stop-color="#4631d0"/><stop offset="0.031" stop-color="#4732d4"/><stop offset="0.047" stop-color="#4734d8"/><stop offset="0.062" stop-color="#4835db"/><stop offset="0.078" stop-color="#4836de"/><stop offset="0.094" stop-color="#4837e0"/><stop offset="0.109" stop-color="#4839e2"/><stop offset="0.125" stop-color="#483ae4"/><stop offset="0.188" stop-color="#474bf7"/><stop offset="0.250" stop-color="#425aff"/><stop offset="0.312" stop-color="#3867ff"/><stop offset="0.375" stop-color="#2573ff"/><stop offset="0.438" stop-color="#007cff"/><stop offset="0.500" stop-color="#0082ff"/><stop offset="0.667" stop-color="#008bfe"/><stop offset="0.833" stop-color="#008efb"/><stop offset="1.000" stop-color="#008ffa"/></linearGradient>
<linearGradient id="h90" gradientUnits="userSpaceOnUse" x1="0" y1="206.7" x2="0" y2="16.5"><stop offset="0.000" stop-color="#474bf8"/><stop offset="0.016" stop-color="#474bf8"/><stop offset="0.031" stop-color="#474bf8"/><stop offset="0.047" stop-color="#474cf8"/><stop offset="0.062" stop-color="#474cf8"/><stop offset="0.078" stop-color="#474cf9"/><stop offset="0.094" stop-color="#474cf9"/><stop offset="0.109" stop-color="#474cf9"/><stop offset="0.125" stop-color="#474cf9"/><stop offset="0.188" stop-color="#415cff"/><stop offset="0.250" stop-color="#356aff"/><stop offset="0.312" stop-color="#1977ff"/><stop offset="0.375" stop-color="#0080ff"/><stop offset="0.438" stop-color="#0086ff"/><stop offset="0.500" stop-color="#0089ff"/><stop offset="0.667" stop-color="#008efb"/><stop offset="0.833" stop-color="#008ffa"/><stop offset="1.000" stop-color="#0090fa"/></linearGradient>
<linearGradient id="h91" gradientUnits="userSpaceOnUse" x1="0" y1="206.7" x2="0" y2="16.5"><stop offset="0.000" stop-color="#306eff"/><stop offset="0.016" stop-color="#306dff"/><stop offset="0.031" stop-color="#316dff"/><stop offset="0.047" stop-color="#316dff"/><stop offset="0.062" stop-color="#316dff"/><stop offset="0.078" stop-color="#316dff"/><stop offset="0.094" stop-color="#316dff"/><stop offset="0.109" stop-color="#316dff"/><stop offset="0.125" stop-color="#316dff"/><stop offset="0.188" stop-color="#0b79ff"/><stop offset="0.250" stop-color="#0083ff"/><stop offset="0.312" stop-color="#008afe"/><stop offset="0.375" stop-color="#008efb"/><stop offset="0.438" stop-color="#0090f9"/><stop offset="0.500" stop-color="#0091f9"/><stop offset="0.667" stop-color="#0091f8"/><stop offset="0.833" stop-color="#0091f8"/><stop offset="1.000" stop-color="#0091f8"/></linearGradient>
<linearGradient id="h92" gradientUnits="userSpaceOnUse" x1="0" y1="206.7" x2="0" y2="16.5"><stop offset="0.000" stop-color="#0091f8"/><stop offset="0.016" stop-color="#0092f8"/><stop offset="0.031" stop-color="#0092f8"/><stop offset="0.047" stop-color="#0092f8"/><stop offset="0.062" stop-color="#0092f8"/><stop offset="0.078" stop-color="#0092f8"/><stop offset="0.094" stop-color="#0092f8"/><stop offset="0.109" stop-color="#0092f8"/><stop offset="0.125" stop-color="#0092f8"/><stop offset="0.188" stop-color="#0096f4"/><stop offset="0.250" stop-color="#0099f2"/><stop offset="0.312" stop-color="#009af1"/><stop offset="0.375" stop-color="#009af1"/><stop offset="0.438" stop-color="#009af2"/><stop offset="0.500" stop-color="#0099f2"/><stop offset="0.667" stop-color="#0097f4"/><stop offset="0.833" stop-color="#0096f5"/><stop offset="1.000" stop-color="#0095f5"/></linearGradient>
<linearGradient id="h93" gradientUnits="userSpaceOnUse" x1="0" y1="206.7" x2="0" y2="16.5"><stop offset="0.000" stop-color="#00c1bc"/><stop offset="0.016" stop-color="#00bfc4"/><stop offset="0.031" stop-color="#00bdc9"/><stop offset="0.047" stop-color="#00bbcd"/><stop offset="0.062" stop-color="#00b9d1"/><stop offset="0.078" stop-color="#00b8d4"/><stop offset="0.094" stop-color="#00b6d7"/><stop offset="0.109" stop-color="#00b5da"/><stop offset="0.125" stop-color="#00b3dd"/><stop offset="0.188" stop-color="#00b1df"/><stop offset="0.250" stop-color="#00afe2"/><stop offset="0.312" stop-color="#00ace5"/><stop offset="0.375" stop-color="#00a9e7"/><stop offset="0.438" stop-color="#00a7e9"/><stop offset="0.500" stop-color="#00a5ea"/><stop offset="0.667" stop-color="#00a1ec"/><stop offset="0.833" stop-color="#009eee"/><stop offset="1.000" stop-color="#009bf0"/></linearGradient>
<linearGradient id="h94" gradientUnits="userSpaceOnUse" x1="0" y1="206.7" x2="0" y2="16.5"><stop offset="0.000" stop-color="#00d06a"/><stop offset="0.016" stop-color="#00cf7a"/><stop offset="0.031" stop-color="#00ce84"/><stop offset="0.047" stop-color="#00cd8c"/><stop offset="0.062" stop-color="#00cc93"/><stop offset="0.078" stop-color="#00ca99"/><stop offset="0.094" stop-color="#00c99e"/><stop offset="0.109" stop-color="#00c8a3"/><stop offset="0.125" stop-color="#00c7a7"/><stop offset="0.188" stop-color="#00c3b5"/><stop offset="0.250" stop-color="#00c0c1"/><stop offset="0.312" stop-color="#00bcca"/><stop offset="0.375" stop-color="#00b9d2"/><stop offset="0.438" stop-color="#00b6d8"/><stop offset="0.500" stop-color="#00b3dd"/><stop offset="0.667" stop-color="#00ace5"/><stop offset="0.833" stop-color="#00a7e8"/><stop offset="1.000" stop-color="#00a4eb"/></linearGradient>
<linearGradient id="h95" gradientUnits="userSpaceOnUse" x1="0" y1="206.7" x2="0" y2="16.5"><stop offset="0.000" stop-color="#96ca0e"/><stop offset="0.016" stop-color="#7dcd31"/><stop offset="0.031" stop-color="#6ace40"/><stop offset="0.047" stop-color="#59cf4c"/><stop offset="0.062" stop-color="#47cf55"/><stop offset="0.078" stop-color="#33d05e"/><stop offset="0.094" stop-color="#17d066"/><stop offset="0.109" stop-color="#00cf6e"/><stop offset="0.125" stop-color="#00cf74"/><stop offset="0.188" stop-color="#00cc90"/><stop offset="0.250" stop-color="#00c8a3"/><stop offset="0.312" stop-color="#00c4b2"/><stop offset="0.375" stop-color="#00c1bd"/><stop offset="0.438" stop-color="#00bec6"/><stop offset="0.500" stop-color="#00bbce"/><stop offset="0.667" stop-color="#00b4db"/><stop offset="0.833" stop-color="#00aee3"/><stop offset="1.000" stop-color="#00aae7"/></linearGradient>
<linearGradient id="h96" gradientUnits="userSpaceOnUse" x1="0" y1="206.7" x2="0" y2="16.5"><stop offset="0.000" stop-color="#aac700"/><stop offset="0.016" stop-color="#8ecb1c"/><stop offset="0.031" stop-color="#7acd33"/><stop offset="0.047" stop-color="#67ce43"/><stop offset="0.062" stop-color="#53cf4f"/><stop offset="0.078" stop-color="#3ed05a"/><stop offset="0.094" stop-color="#22d064"/><stop offset="0.109" stop-color="#00cf6c"/><stop offset="0.125" stop-color="#00cf75"/><stop offset="0.188" stop-color="#00cc91"/><stop offset="0.250" stop-color="#00c7a5"/><stop offset="0.312" stop-color="#00c4b3"/><stop offset="0.375" stop-color="#00c0be"/><stop offset="0.438" stop-color="#00bdc8"/><stop offset="0.500" stop-color="#00bacf"/><stop offset="0.667" stop-color="#00b3dd"/><stop offset="0.833" stop-color="#00ade4"/><stop offset="1.000" stop-color="#00a9e8"/></linearGradient>
<linearGradient id="h97" gradientUnits="userSpaceOnUse" x1="0" y1="206.7" x2="0" y2="16.5"><stop offset="0.000" stop-color="#00bec6"/><stop offset="0.016" stop-color="#00bbcc"/><stop offset="0.031" stop-color="#00bad0"/><stop offset="0.047" stop-color="#00b9d3"/><stop offset="0.062" stop-color="#00b7d5"/><stop offset="0.078" stop-color="#00b6d8"/><stop offset="0.094" stop-color="#00b5da"/><stop offset="0.109" stop-color="#00b4dc"/><stop offset="0.125" stop-color="#00b2de"/><stop offset="0.188" stop-color="#00ade4"/><stop offset="0.250" stop-color="#00a8e8"/><stop offset="0.312" stop-color="#00a4ea"/><stop offset="0.375" stop-color="#00a0ed"/><stop offset="0.438" stop-color="#009def"/><stop offset="0.500" stop-color="#009bf1"/><stop offset="0.667" stop-color="#0096f5"/><stop offset="0.833" stop-color="#0092f8"/><stop offset="1.000" stop-color="#008ffa"/></linearGradient>
<linearGradient id="h98" gradientUnits="userSpaceOnUse" x1="0" y1="206.7" x2="0" y2="16.5"><stop offset="0.000" stop-color="#415cff"/><stop offset="0.016" stop-color="#415cff"/><stop offset="0.031" stop-color="#415dff"/><stop offset="0.047" stop-color="#405dff"/><stop offset="0.062" stop-color="#405eff"/><stop offset="0.078" stop-color="#405eff"/><stop offset="0.094" stop-color="#405eff"/><stop offset="0.109" stop-color="#3f5fff"/><stop offset="0.125" stop-color="#3f5fff"/><stop offset="0.188" stop-color="#3e60ff"/><stop offset="0.250" stop-color="#3d62ff"/><stop offset="0.312" stop-color="#3d63ff"/><stop offset="0.375" stop-color="#3c64ff"/><stop offset="0.438" stop-color="#3b65ff"/><stop offset="0.500" stop-color="#3a65ff"/><stop offset="0.667" stop-color="#3967ff"/><stop offset="0.833" stop-color="#3868ff"/><stop offset="1.000" stop-color="#3768ff"/></linearGradient>
<linearGradient id="h99" gradientUnits="userSpaceOnUse" x1="0" y1="206.7" x2="0" y2="16.5"><stop offset="0.000" stop-color="#4748f5"/><stop offset="0.016" stop-color="#474af7"/><stop offset="0.031" stop-color="#474bf8"/><stop offset="0.047" stop-color="#474cf9"/><stop offset="0.062" stop-color="#474df9"/><stop offset="0.078" stop-color="#464efa"/><stop offset="0.094" stop-color="#464efa"/><stop offset="0.109" stop-color="#464ffb"/><stop offset="0.125" stop-color="#4650fb"/><stop offset="0.188" stop-color="#4553fe"/><stop offset="0.250" stop-color="#4455ff"/><stop offset="0.312" stop-color="#4357ff"/><stop offset="0.375" stop-color="#4359ff"/><stop offset="0.438" stop-color="#425bff"/><stop offset="0.500" stop-color="#415cff"/><stop offset="0.667" stop-color="#405fff"/><stop offset="0.833" stop-color="#3e60ff"/><stop offset="1.000" stop-color="#3e61ff"/></linearGradient>
<linearGradient id="h100" gradientUnits="userSpaceOnUse" x1="0" y1="206.7" x2="0" y2="16.5"><stop offset="0.000" stop-color="#4748f5"/><stop offset="0.016" stop-color="#474af7"/><stop offset="0.031" stop-color="#474bf8"/><stop offset="0.047" stop-color="#474cf9"/><stop offset="0.062" stop-color="#474df9"/><stop offset="0.078" stop-color="#464efa"/><stop offset="0.094" stop-color="#464efa"/><stop offset="0.109" stop-color="#464ffb"/><stop offset="0.125" stop-color="#4650fb"/><stop offset="0.188" stop-color="#4553fe"/><stop offset="0.250" stop-color="#4455ff"/><stop offset="0.312" stop-color="#4357ff"/><stop offset="0.375" stop-color="#4359ff"/><stop offset="0.438" stop-color="#425bff"/><stop offset="0.500" stop-color="#415cff"/><stop offset="0.667" stop-color="#405fff"/><stop offset="0.833" stop-color="#3e60ff"/><stop offset="1.000" stop-color="#3e61ff"/></linearGradient>
<linearGradient id="h101" gradientUnits="userSpaceOnUse" x1="0" y1="206.7" x2="0" y2="16.5"><stop offset="0.000" stop-color="#4748f5"/><stop offset="0.016" stop-color="#474af7"/><stop offset="0.031" stop-color="#474bf8"/><stop offset="0.047" stop-color="#474cf9"/><stop offset="0.062" stop-color="#474df9"/><stop offset="0.078" stop-color="#464efa"/><stop offset="0.094" stop-color="#464efa"/><stop offset="0.109" stop-color="#464ffb"/><stop offset="0.125" stop-color="#4650fb"/><stop offset="0.188" stop-color="#4553fe"/><stop offset="0.250" stop-color="#4455ff"/><stop offset="0.312" stop-color="#4357ff"/><stop offset="0.375" stop-color="#4359ff"/><stop offset="0.438" stop-color="#425bff"/><stop offset="0.500" stop-color="#415cff"/><stop offset="0.667" stop-color="#405fff"/><stop offset="0.833" stop-color="#3e60ff"/><stop offset="1.000" stop-color="#3e61ff"/></linearGradient>
<linearGradient id="h102" gradientUnits="userSpaceOnUse" x1="0" y1="206.7" x2="0" y2="16.5"><stop offset="0.000" stop-color="#4748f5"/><stop offset="0.016" stop-color="#474af7"/><stop offset="0.031" stop-color="#474bf8"/><stop offset="0.047" stop-color="#474cf9"/><stop offset="0.062" stop-color="#474df9"/><stop offset="0.078" stop-color="#464efa"/><stop offset="0.094" stop-color="#464efa"/><stop offset="0.109" stop-color="#464ffb"/><stop offset="0.125" stop-color="#4650fb"/><stop offset="0.188" stop-color="#4553fe"/><stop offset="0.250" stop-color="#4455ff"/><stop offset="0.312" stop-color="#4357ff"/><stop offset="0.375" stop-color="#4359ff"/><stop offset="0.438" stop-color="#425bff"/><stop offset="0.500" stop-color="#415cff"/><stop offset="0.667" stop-color="#405fff"/><stop offset="0.833" stop-color="#3e60ff"/><stop offset="1.000" stop-color="#3e61ff"/></linearGradient>
</defs>
<rect width="550" height="255" fill="#fff"/>
<path d="M122.6 211.0 L30.7 159.4 M30.7 159.4 L30.7 46.9 M122.6 211.0 L241.4 172.1 M241.4 172.1 L241.4 59.6 M152.3 201.3 L60.4 149.7 M60.4 149.7 L60.4 37.2 M99.6 198.1 L218.4 159.2 M218.4 159.2 L218.4 46.7 M182.0 191.6 L90.1 140.0 M90.1 140.0 L90.1 27.5 M76.6 185.2 L195.4 146.3 M195.4 146.3 L195.4 33.8 M211.7 181.8 L119.8 130.2 M119.8 130.2 L119.8 17.7 M53.7 172.3 L172.5 133.4 M172.5 133.4 L172.5 20.9 M241.4 172.1 L149.5 120.5 M149.5 120.5 L149.5 8.0 M30.7 159.4 L149.5 120.5 M149.5 120.5 L149.5 8.0 M30.7 159.4 L149.5 120.5 L241.4 172.1 M30.7 121.9 L149.5 83.0 L241.4 134.6 M30.7 84.4 L149.5 45.5 L241.4 97.1 M30.7 46.9 L149.5 8.0 L241.4 59.6" fill="none" stroke="#dfdfdf" stroke-width="0.6"/>
<path d="M30.7 46.9 L30.7 159.4 L122.6 211.0 L241.4 172.1 M30.7 159.4 l-2.3 0.7 M30.7 121.9 l-2.3 0.7 M30.7 84.4 l-2.3 0.7 M30.7 46.9 l-2.3 0.7 M122.6 211.0 l-2.3 0.7 M122.6 211.0 l2.1 1.2 M99.6 198.1 l-2.3 0.7 M152.3 201.3 l2.1 1.2 M76.6 185.2 l-2.3 0.7 M182.0 191.6 l2.1 1.2 M53.7 172.3 l-2.3 0.7 M211.7 181.8 l2.1 1.2 M30.7 159.4 l-2.3 0.7 M241.4 172.1 l2.1 1.2" fill="none" stroke="#3a3a3a" stroke-width="0.7"/>
<path d="M237.5 129.3L244.6 132.7L244.6 151.8L238 149.7z" fill="#4452e6"/>
<g><path d="M235.9 151.7L233.2 151.2L230.6 150.6L227.9 150.0L225.3 148.0L222.6 146.0L220.0 144.0L217.3 142.1L214.6 140.2L212.0 138.3L199.1 129.5L186.3 121.0L173.4 112.9L160.5 105.0L147.7 97.2L149.5 96.6L162.4 104.4L175.2 112.3L188.1 120.4L201.0 128.9L213.8 137.7L216.5 139.6L219.1 141.5L221.8 143.4L224.4 145.4L227.1 147.4L229.8 149.4L232.4 150.0L235.1 150.6L237.7 151.1z" fill="url(#s109)"/>
<path d="M239.6 152.5L235.7 151.7L237.5 151.1L241.4 151.8z" fill="#0a7aff"/>
<path d="M234.8 144.7L232.2 144.4L229.5 144.0L226.8 143.6L224.2 141.9L221.5 140.2L218.9 138.5L216.2 136.8L213.6 135.2L210.9 133.5L198.0 125.4L185.2 117.5L172.3 109.7L159.4 102.0L146.6 94.5L148.4 97.0L161.3 104.7L174.2 112.7L187.0 120.8L199.9 129.2L212.8 138.1L215.4 140.0L218.1 141.9L220.7 143.8L223.4 145.8L226.0 147.7L228.7 149.8L231.3 150.4L234.0 150.9L236.6 151.5z" fill="url(#s108)"/>
<path d="M238.5 145.1L234.6 144.7L236.4 151.4L240.3 152.2z" fill="#097aff"/>
<path d="M233.7 124.4L231.1 124.7L228.4 124.8L225.8 124.7L223.1 124.0L220.5 123.2L217.8 122.3L215.1 121.3L212.5 120.3L209.8 119.2L197.0 113.3L184.1 106.8L171.2 100.0L158.4 93.1L145.5 86.1L147.3 97.3L160.2 105.1L173.1 113.0L185.9 121.1L198.8 129.5L211.7 138.4L214.3 140.3L217.0 142.2L219.6 144.1L222.3 146.0L224.9 148.0L227.6 150.0L230.3 150.7L232.9 151.2L235.6 151.7z" fill="url(#s107)"/>
<path d="M237.4 123.7L233.5 124.4L235.3 151.7L239.2 152.5z" fill="#0088ff"/>
<path d="M232.6 109.8L230.0 110.6L227.3 111.0L224.7 111.2L222.0 111.2L219.4 111.0L216.7 110.7L214.1 110.2L211.4 109.7L208.8 109.0L195.9 104.6L183.0 99.2L170.2 93.1L157.3 86.8L144.4 80.2L146.3 92.2L159.1 99.6L172.0 107.1L184.9 114.6L197.7 122.1L210.6 129.6L213.2 131.1L215.9 132.6L218.6 134.1L221.2 135.6L223.9 137.0L226.5 138.4L229.2 138.8L231.8 139.0L234.5 139.2z" fill="url(#s106)"/>
<path d="M236.3 108.3L232.4 109.9L234.3 139.2L238.2 139.3z" fill="#00bad0"/>
<path d="M231.6 111.1L228.9 111.9L226.3 112.3L223.6 112.5L220.9 112.5L218.3 112.2L215.6 111.8L213.0 111.3L210.3 110.7L207.7 109.9L194.8 105.3L181.9 99.7L169.1 93.6L156.2 87.1L143.3 80.5L145.2 83.7L158.0 90.5L170.9 97.2L183.8 103.7L196.6 109.8L209.5 115.0L212.2 116.0L214.8 116.8L217.5 117.6L220.1 118.3L222.8 118.8L225.4 119.3L228.1 119.2L230.7 119.0L233.4 118.5z" fill="url(#s105)"/>
<path d="M235.2 110.3L231.3 111.2L233.2 118.6L237.1 117.5z" fill="url(#c105)"/>
<path d="M230.5 115.9L227.8 116.8L225.2 117.3L222.5 117.4L219.9 117.3L217.2 116.9L214.6 116.3L211.9 115.6L209.2 114.8L206.6 113.8L193.7 108.5L180.9 102.3L168.0 95.8L155.1 89.1L142.3 82.3L144.1 79.8L157.0 86.4L169.8 92.7L182.7 98.7L195.6 104.2L208.4 108.5L211.1 109.2L213.7 109.7L216.4 110.2L219.0 110.5L221.7 110.6L224.4 110.5L227.0 110.2L229.7 109.7L232.3 108.8z" fill="url(#s104)"/>
<path d="M234.2 115.6L230.3 116.0L232.1 108.9L236.0 108.0z" fill="url(#c104)"/>
<path d="M229.4 123.3L226.8 123.9L224.1 124.0L221.4 123.8L218.8 123.3L216.1 122.5L213.5 121.6L210.8 120.6L208.2 119.5L205.5 118.3L192.6 111.9L179.8 105.1L166.9 98.1L154.1 91.1L141.2 84.0L143.0 81.0L155.9 87.7L168.8 94.2L181.6 100.4L194.5 106.1L207.3 110.9L210.0 111.7L212.7 112.4L215.3 113.0L218.0 113.4L220.6 113.7L223.3 113.8L225.9 113.6L228.6 113.2L231.2 112.4z" fill="url(#s103)"/>
<path d="M233.1 124.2L229.2 123.4L231.0 112.5L234.9 111.7z" fill="#00ca98"/>
<path d="M228.3 132.5L225.7 132.1L223.0 131.3L220.4 130.4L217.7 129.2L215.1 127.9L212.4 126.6L209.7 125.2L207.1 123.7L204.4 122.2L191.6 114.7L178.7 107.2L165.8 99.8L153.0 92.5L140.1 85.3L141.9 82.8L154.8 89.7L167.7 96.5L180.5 103.2L193.4 109.5L206.3 115.2L208.9 116.2L211.6 117.1L214.2 117.9L216.9 118.5L219.5 119.0L222.2 119.2L224.9 119.2L227.5 118.7L230.2 117.8z" fill="url(#s102)"/>
<path d="M232.0 137.2L228.1 132.5L229.9 117.9L233.8 117.8z" fill="#00bec5"/>
<path d="M227.2 143.7L224.6 141.5L221.9 139.4L219.3 137.3L216.6 135.3L214.0 133.3L211.3 131.3L208.7 129.3L206.0 127.4L203.4 125.5L190.5 116.8L177.6 108.7L164.8 101.0L151.9 93.4L139.0 86.0L140.9 84.5L153.7 91.6L166.6 98.7L179.5 105.8L192.3 112.8L205.2 119.5L207.8 120.8L210.5 122.1L213.2 123.2L215.8 124.2L218.5 125.1L221.1 125.8L223.8 126.2L226.4 126.3L229.1 126.0z" fill="url(#s101)"/>
<path d="M230.9 144.3L227.0 143.5L228.9 126.0L232.8 127.5z" fill="url(#c101)"/>
<path d="M226.2 151.7L223.5 148.6L220.9 145.6L218.2 142.8L215.5 140.1L212.9 137.6L210.2 135.1L207.6 132.8L204.9 130.5L202.3 128.3L189.4 118.6L176.5 109.9L163.7 101.8L150.8 94.1L137.9 86.5L139.8 85.5L152.6 92.8L165.5 100.2L178.4 107.7L191.2 115.3L204.1 123.2L206.8 124.8L209.4 126.4L212.1 128.0L214.7 129.5L217.4 130.9L220.0 132.3L222.7 133.5L225.3 134.6L228.0 135.4z" fill="url(#s100)"/>
<path d="M229.8 151.0L225.9 151.5L227.8 135.3L231.7 140.2z" fill="url(#c100)"/>
<path d="M225.1 156.1L222.4 152.5L219.8 149.2L217.1 146.1L214.5 143.2L211.8 140.4L209.2 137.7L206.5 135.1L203.8 132.7L201.2 130.3L188.3 119.9L175.5 110.8L162.6 102.4L149.7 94.5L136.9 86.8L138.7 86.2L151.6 93.6L164.4 101.3L177.3 109.1L190.2 117.4L203.0 126.5L205.7 128.5L208.3 130.5L211.0 132.6L213.6 134.8L216.3 137.0L219.0 139.4L221.6 141.8L224.3 144.3L226.9 147.0z" fill="url(#s99)"/>
<path d="M228.8 157.6L224.9 155.8L226.7 146.7L230.6 146.2z" fill="url(#c99)"/>
<path d="M224.0 158.0L221.4 154.3L218.7 150.8L216.0 147.5L213.4 144.4L210.7 141.5L208.1 138.7L205.4 136.0L202.8 133.5L200.1 131.0L187.2 120.3L174.4 111.2L161.5 102.7L148.6 94.7L135.8 87.0L137.6 86.6L150.5 94.2L163.4 102.1L176.2 110.2L189.1 119.0L201.9 129.0L204.6 131.3L207.3 133.6L209.9 136.0L212.6 138.5L215.2 141.1L217.9 143.9L220.5 146.8L223.2 149.9L225.8 153.2z" fill="url(#s98)"/>
<path d="M227.7 163.0L223.8 157.7L225.6 152.9L229.5 153.1z" fill="url(#c98)"/>
<path d="M222.9 156.9L220.3 153.2L217.6 149.7L215.0 146.4L212.3 143.4L209.7 140.5L207.0 137.8L204.3 135.2L201.7 132.7L199.0 130.4L186.2 119.9L173.3 111.0L160.4 102.6L147.6 94.8L134.7 87.1L136.5 86.9L149.4 94.6L162.3 102.6L175.1 111.0L188.0 120.1L200.9 130.7L203.5 133.1L206.2 135.6L208.8 138.2L211.5 140.9L214.1 143.8L216.8 146.8L219.5 150.0L222.1 153.3L224.8 157.0z" fill="url(#s97)"/>
<path d="M226.6 157.3L222.7 156.6L224.5 156.7L228.4 159.7z" fill="url(#c97)"/>
<path d="M221.8 154.0L219.2 150.3L216.5 147.0L213.9 143.9L211.2 141.0L208.6 138.3L205.9 135.7L203.3 133.3L200.6 131.0L198.0 128.7L185.1 118.9L172.2 110.4L159.4 102.3L146.5 94.6L133.6 87.1L135.5 87.1L148.3 94.8L161.2 102.7L174.1 111.2L186.9 120.3L199.8 131.0L202.4 133.4L205.1 136.0L207.8 138.6L210.4 141.4L213.1 144.3L215.7 147.4L218.4 150.7L221.0 154.2L223.7 158.0z" fill="url(#s96)"/>
<path d="M225.5 148.7L221.6 153.7L223.5 157.6L227.4 162.7z" fill="url(#c96)"/>
<path d="M220.8 150.9L218.1 147.3L215.5 144.0L212.8 141.1L210.1 138.3L207.5 135.8L204.8 133.5L202.2 131.2L199.5 129.0L196.9 127.0L184.0 117.8L171.1 109.7L158.3 102.0L145.4 94.5L132.5 87.1L134.4 87.1L147.2 94.7L160.1 102.6L173.0 110.8L185.8 119.6L198.7 129.9L201.4 132.3L204.0 134.7L206.7 137.3L209.3 139.9L212.0 142.8L214.6 145.8L217.3 149.0L219.9 152.4L222.6 156.2z" fill="url(#s95)"/>
<path d="M224.4 142.4L220.5 150.6L222.4 155.9L226.3 154.9z" fill="url(#c95)"/>
<path d="M219.7 148.9L217.0 145.2L214.4 142.0L211.7 139.1L209.1 136.5L206.4 134.1L203.8 131.8L201.1 129.7L198.4 127.7L195.8 125.7L182.9 117.0L170.1 109.3L157.2 101.8L144.3 94.4L131.5 87.1L133.3 87.1L146.2 94.6L159.0 102.2L171.9 110.2L184.8 118.5L197.6 128.2L200.3 130.4L202.9 132.6L205.6 135.0L208.2 137.5L210.9 140.2L213.6 143.0L216.2 146.0L218.9 149.4L221.5 153.1z" fill="url(#s94)"/>
<path d="M223.4 137.8L219.5 148.6L221.3 152.7L225.2 146.4z" fill="url(#c94)"/>
<path d="M218.6 147.4L216.0 143.8L213.3 140.7L210.6 137.9L208.0 135.4L205.3 133.1L202.7 130.9L200.0 128.9L197.4 126.9L194.7 125.0L181.8 116.6L169.0 109.2L156.1 101.8L143.2 94.5L130.4 87.3L132.2 87.1L145.1 94.5L158.0 101.9L170.8 109.6L183.7 117.5L196.6 126.5L199.2 128.6L201.9 130.7L204.5 132.9L207.2 135.2L209.8 137.7L212.5 140.4L215.1 143.3L217.8 146.5L220.4 150.2z" fill="url(#s93)"/>
<path d="M222.3 133.9L218.4 147.0L220.2 149.9L224.1 140.9z" fill="url(#c93)"/>
<path d="M217.5 145.9L214.9 142.6L212.2 139.7L209.6 137.1L206.9 134.8L204.3 132.6L201.6 130.5L198.9 128.5L196.3 126.6L193.6 124.8L180.8 116.6L167.9 109.2L155.0 102.0L142.2 94.7L129.3 87.5L131.1 87.1L144.0 94.4L156.9 101.8L169.7 109.2L182.6 116.9L195.5 125.4L198.1 127.4L200.8 129.4L203.4 131.5L206.1 133.7L208.7 136.1L211.4 138.7L214.1 141.5L216.7 144.8L219.4 148.4z" fill="url(#s92)"/>
<path d="M221.2 130.6L217.3 145.6L219.1 148.1L223.0 136.6z" fill="url(#c92)"/>
<path d="M216.4 144.7L213.8 141.7L211.1 139.0L208.5 136.6L205.8 134.4L203.2 132.3L200.5 130.4L197.9 128.5L195.2 126.6L192.6 124.9L179.7 116.7L166.8 109.4L154.0 102.2L141.1 94.9L128.2 87.7L130.1 87.3L142.9 94.6L155.8 101.8L168.7 109.2L181.5 116.6L194.4 124.9L197.0 126.8L199.7 128.7L202.4 130.8L205.0 132.9L207.7 135.2L210.3 137.6L213.0 140.3L215.6 143.4L218.3 146.9z" fill="url(#s91)"/>
<path d="M220.1 127.5L216.2 144.4L218.1 146.6L222.0 132.8z" fill="url(#c91)"/>
<path d="M215.4 143.5L212.7 140.9L210.1 138.5L207.4 136.3L204.7 134.2L202.1 132.3L199.4 130.4L196.8 128.5L194.1 126.8L191.5 125.0L178.6 117.0L165.7 109.7L152.9 102.5L140.0 95.2L127.1 88.0L129.0 87.5L141.8 94.8L154.7 102.0L167.6 109.3L180.4 116.6L193.3 124.8L196.0 126.6L198.6 128.5L201.3 130.4L203.9 132.5L206.6 134.6L209.2 137.0L211.9 139.5L214.5 142.3L217.2 145.5z" fill="url(#s90)"/>
<path d="M219.0 124.0L215.1 143.3L217.0 145.3L220.9 129.6z" fill="url(#c90)"/>
<path d="M214.3 142.4L211.6 140.1L209.0 138.0L206.3 136.0L203.7 134.1L201.0 132.2L198.4 130.4L195.7 128.7L193.0 126.9L190.4 125.2L177.5 117.3L164.7 110.0L151.8 102.8L138.9 95.5L126.1 88.3L127.9 87.8L140.8 95.0L153.6 102.3L166.5 109.5L179.4 116.8L192.2 124.9L194.9 126.7L197.5 128.5L200.2 130.4L202.8 132.3L205.5 134.3L208.2 136.5L210.8 138.9L213.5 141.4L216.1 144.3z" fill="url(#s89)"/>
<path d="M218.0 119.4L214.1 142.2L215.9 144.0L219.8 126.5z" fill="url(#c89)"/>
<path d="M213.2 141.4L210.6 139.4L207.9 137.6L205.2 135.8L202.6 134.0L199.9 132.2L197.3 130.5L194.6 128.8L192.0 127.1L189.3 125.4L176.4 117.5L163.6 110.3L150.7 103.1L137.8 95.9L125.0 88.6L126.8 88.1L139.7 95.3L152.6 102.5L165.4 109.8L178.3 117.1L191.1 125.1L193.8 126.8L196.5 128.6L199.1 130.4L201.8 132.2L204.4 134.2L207.1 136.2L209.7 138.3L212.4 140.6L215.0 143.1z" fill="url(#s88)"/>
<path d="M216.9 114.5L213.0 141.2L214.8 142.9L218.7 122.8z" fill="url(#c88)"/>
<path d="M212.1 140.4L209.5 138.8L206.8 137.2L204.2 135.6L201.5 133.9L198.9 132.3L196.2 130.6L193.5 129.0L190.9 127.3L188.2 125.7L175.4 117.8L162.5 110.6L149.6 103.4L136.8 96.2L123.9 89.0L125.7 88.4L138.6 95.6L151.5 102.9L164.3 110.1L177.2 117.3L190.1 125.3L192.7 127.0L195.4 128.7L198.0 130.5L200.7 132.2L203.3 134.1L206.0 135.9L208.7 137.9L211.3 139.9L214.0 142.1z" fill="url(#s87)"/>
<path d="M215.8 110.2L211.9 140.2L213.7 141.9L217.6 117.9z" fill="url(#c87)"/>
<path d="M211.0 139.4L208.4 138.2L205.7 136.8L203.1 135.4L200.4 133.9L197.8 132.3L195.1 130.7L192.5 129.1L189.8 127.5L187.2 125.9L174.3 118.2L161.4 111.0L148.6 103.7L135.7 96.5L122.8 89.3L124.7 88.7L137.5 95.9L150.4 103.2L163.3 110.4L176.1 117.6L189.0 125.5L191.6 127.2L194.3 128.9L197.0 130.6L199.6 132.3L202.3 134.0L204.9 135.7L207.6 137.5L210.2 139.2L212.9 141.1z" fill="url(#s86)"/>
<path d="M214.7 107.7L210.8 139.3L212.7 140.9L216.6 113.1z" fill="url(#c86)"/>
<path d="M210.0 138.5L207.3 137.6L204.7 136.5L202.0 135.2L199.3 133.8L196.7 132.4L194.0 130.9L191.4 129.3L188.7 127.8L186.1 126.2L173.2 118.5L160.3 111.3L147.5 104.1L134.6 96.9L121.7 89.6L123.6 89.1L136.4 96.3L149.3 103.5L162.2 110.7L175.0 117.9L187.9 125.7L190.6 127.4L193.2 129.0L195.9 130.7L198.5 132.3L201.2 133.9L203.8 135.5L206.5 137.1L209.1 138.6L211.8 140.1z" fill="url(#s85)"/>
<path d="M213.6 106.4L209.7 138.5L211.6 140.0L215.5 109.3z" fill="url(#c85)"/>
<path d="M208.9 137.7L206.2 137.0L203.6 136.1L200.9 135.0L198.3 133.8L195.6 132.4L193.0 131.0L190.3 129.5L187.6 128.0L185.0 126.4L172.1 118.8L159.3 111.6L146.4 104.4L133.5 97.2L120.7 90.0L122.5 89.4L135.4 96.6L148.2 103.8L161.1 111.1L174.0 118.3L186.8 126.0L189.5 127.6L192.1 129.2L194.8 130.8L197.4 132.3L200.1 133.8L202.8 135.3L205.4 136.7L208.1 138.0L210.7 139.2z" fill="url(#s84)"/>
<path d="M212.6 105.7L208.7 137.7L210.5 139.1L214.4 107.1z" fill="url(#c84)"/>
<path d="M207.8 136.9L205.2 136.5L202.5 135.8L199.8 134.9L197.2 133.8L194.5 132.5L191.9 131.2L189.2 129.7L186.6 128.2L183.9 126.7L171.0 119.1L158.2 112.0L145.3 104.8L132.4 97.6L119.6 90.3L121.4 89.7L134.3 97.0L147.2 104.2L160.0 111.4L172.9 118.6L185.8 126.2L188.4 127.8L191.1 129.4L193.7 130.9L196.4 132.4L199.0 133.8L201.7 135.1L204.3 136.4L207.0 137.4L209.6 138.3z" fill="url(#s83)"/>
<path d="M211.5 105.6L207.6 136.9L209.4 138.2L213.3 106.1z" fill="url(#c83)"/>
<path d="M206.7 136.1L204.1 136.1L201.4 135.6L198.8 134.8L196.1 133.8L193.5 132.6L190.8 131.3L188.1 129.9L185.5 128.5L182.8 126.9L170.0 119.5L157.1 112.3L144.2 105.1L131.4 97.9L118.5 90.7L120.3 90.1L133.2 97.3L146.1 104.5L158.9 111.7L171.8 118.9L184.7 126.5L187.3 128.1L190.0 129.6L192.6 131.1L195.3 132.5L197.9 133.8L200.6 135.0L203.3 136.0L205.9 136.9L208.6 137.5z" fill="url(#s82)"/>
<path d="M210.4 106.4L206.5 136.2L208.3 137.4L212.2 105.6z" fill="url(#c82)"/>
<path d="M205.6 135.4L203.0 135.6L200.3 135.3L197.7 134.7L195.0 133.8L192.4 132.7L189.7 131.5L187.1 130.1L184.4 128.7L181.8 127.2L168.9 119.8L156.0 112.7L143.2 105.5L130.3 98.3L117.4 91.0L119.3 90.4L132.1 97.7L145.0 104.9L157.9 112.1L170.7 119.2L183.6 126.8L186.2 128.3L188.9 129.8L191.6 131.2L194.2 132.5L196.9 133.8L199.5 134.9L202.2 135.8L204.8 136.4L207.5 136.7z" fill="url(#s81)"/>
<path d="M209.3 107.7L205.4 135.5L207.3 136.7L211.2 105.8z" fill="url(#c81)"/>
<path d="M204.6 134.7L201.9 135.2L199.3 135.1L196.6 134.6L193.9 133.8L191.3 132.8L188.6 131.6L186.0 130.3L183.3 129.0L180.7 127.5L167.8 120.1L154.9 113.0L142.1 105.8L129.2 98.6L116.3 91.4L118.2 90.8L131.0 98.0L143.9 105.2L156.8 112.4L169.6 119.6L182.5 127.0L185.2 128.5L187.8 130.0L190.5 131.4L193.1 132.6L195.8 133.8L198.4 134.8L201.1 135.5L203.7 135.9L206.4 135.9z" fill="url(#s80)"/>
<path d="M208.2 109.4L204.3 134.8L206.2 135.9L210.1 106.7z" fill="url(#c80)"/>
<path d="M203.5 134.1L200.8 134.8L198.2 134.9L195.5 134.5L192.9 133.9L190.2 132.9L187.6 131.8L184.9 130.6L182.2 129.2L179.6 127.8L166.7 120.5L153.9 113.4L141.0 106.2L128.1 99.0L115.3 91.7L117.1 91.1L130.0 98.4L142.8 105.6L155.7 112.8L168.6 119.9L181.4 127.3L184.1 128.8L186.7 130.2L189.4 131.5L192.0 132.7L194.7 133.8L197.4 134.7L200.0 135.2L202.7 135.5L205.3 135.2z" fill="url(#s79)"/>
<path d="M207.2 111.9L203.3 134.2L205.1 135.3L209.0 108.2z" fill="url(#c79)"/>
<path d="M202.4 133.4L199.8 134.4L197.1 134.7L194.4 134.5L191.8 133.9L189.1 133.0L186.5 132.0L183.8 130.8L181.2 129.5L178.5 128.1L165.6 120.8L152.8 113.7L139.9 106.5L127.0 99.3L114.2 92.1L116.0 91.5L128.9 98.7L141.8 105.9L154.6 113.1L167.5 120.2L180.3 127.6L183.0 129.0L185.7 130.4L188.3 131.7L191.0 132.8L193.6 133.8L196.3 134.6L198.9 135.0L201.6 135.0L204.2 134.5z" fill="url(#s78)"/>
<path d="M206.1 115.2L202.2 133.5L204.0 134.6L207.9 110.1z" fill="url(#c78)"/>
<path d="M201.3 132.8L198.7 134.0L196.0 134.5L193.4 134.4L190.7 133.9L188.1 133.2L185.4 132.2L182.7 131.0L180.1 129.7L177.4 128.3L164.6 121.1L151.7 114.1L138.8 106.9L126.0 99.7L113.1 92.4L114.9 91.8L127.8 99.1L140.7 106.3L153.5 113.5L166.4 120.6L179.3 127.9L181.9 129.3L184.6 130.6L187.2 131.9L189.9 133.0L192.5 133.9L195.2 134.5L197.9 134.8L200.5 134.7L203.2 133.9z" fill="url(#s77)"/>
<path d="M205.0 118.9L201.1 133.0L202.9 134.0L206.8 112.8z" fill="url(#c77)"/>
<path d="M200.2 132.1L197.6 133.5L194.9 134.2L192.3 134.3L189.6 134.0L187.0 133.3L184.3 132.3L181.7 131.2L179.0 130.0L176.4 128.6L163.5 121.5L150.6 114.4L137.8 107.2L124.9 100.0L112.0 92.8L113.9 92.2L126.7 99.4L139.6 106.6L152.5 113.8L165.3 120.9L178.2 128.1L180.8 129.5L183.5 130.9L186.2 132.1L188.8 133.1L191.5 133.9L194.1 134.5L196.8 134.6L199.4 134.3L202.1 133.3z" fill="url(#s76)"/>
<path d="M203.9 122.8L200.0 132.2L201.9 133.4L205.8 116.3z" fill="url(#c76)"/>
<path d="M199.2 131.5L196.5 133.2L193.9 134.0L191.2 134.3L188.5 134.0L185.9 133.4L183.2 132.5L180.6 131.5L177.9 130.2L175.3 128.9L162.4 121.8L149.5 114.8L136.7 107.6L123.8 100.4L110.9 93.1L112.8 92.5L125.6 99.8L138.5 107.0L151.4 114.2L164.2 121.2L177.1 128.4L179.8 129.8L182.4 131.1L185.1 132.2L187.7 133.2L190.4 134.0L193.0 134.4L195.7 134.4L198.3 133.9L201.0 132.6z" fill="url(#s75)"/>
<path d="M202.8 126.4L198.9 131.7L200.8 132.8L204.7 120.1z" fill="url(#c75)"/>
<path d="M198.1 131.7L195.4 133.4L192.8 134.3L190.1 134.6L187.5 134.3L184.8 133.7L182.2 132.9L179.5 131.8L176.8 130.6L174.2 129.2L161.3 122.2L148.5 115.1L135.6 107.9L122.7 100.7L109.9 93.5L111.7 92.9L124.6 100.1L137.4 107.3L150.3 114.5L163.2 121.6L176.0 128.7L178.7 130.0L181.3 131.3L184.0 132.4L186.6 133.3L189.3 134.0L192.0 134.3L194.6 134.1L197.3 133.4L199.9 131.9z" fill="url(#s74)"/>
<path d="M201.8 129.6L197.9 131.9L199.7 132.0L203.6 123.9z" fill="url(#c74)"/>
<path d="M197.0 132.5L194.4 134.2L191.7 134.9L189.0 135.1L186.4 134.8L183.7 134.2L181.1 133.3L178.4 132.2L175.8 131.0L173.1 129.6L160.2 122.5L147.4 115.5L134.5 108.3L121.6 101.1L108.8 93.9L110.6 93.3L123.5 100.5L136.4 107.7L149.2 114.9L162.1 121.9L174.9 129.0L177.6 130.3L180.3 131.5L182.9 132.6L185.6 133.5L188.2 134.1L190.9 134.3L193.5 134.1L196.2 133.2L198.8 131.4z" fill="url(#s73)"/>
<path d="M200.7 132.8L196.8 132.7L198.6 131.6L202.5 127.4z" fill="url(#c73)"/>
<path d="M195.9 133.6L193.3 135.1L190.6 135.7L188.0 135.8L185.3 135.4L182.7 134.7L180.0 133.8L177.3 132.7L174.7 131.4L172.0 130.0L159.2 122.9L146.3 115.8L133.4 108.6L120.6 101.4L107.7 94.2L109.5 93.6L122.4 100.8L135.3 108.0L148.1 115.2L161.0 122.3L173.9 129.3L176.5 130.7L179.2 131.9L181.8 133.0L184.5 133.8L187.1 134.5L189.8 134.7L192.5 134.5L195.1 133.6L197.8 131.9z" fill="url(#s72)"/>
<path d="M199.6 136.6L195.7 133.8L197.5 132.1L201.4 130.5z" fill="#00bfc1"/>
<path d="M194.8 135.1L192.2 136.3L189.5 136.7L186.9 136.6L184.2 136.1L181.6 135.3L178.9 134.3L176.3 133.2L173.6 131.9L171.0 130.5L158.1 123.3L145.2 116.2L132.4 109.0L119.5 101.8L106.6 94.6L108.5 94.0L121.3 101.2L134.2 108.4L147.1 115.6L159.9 122.6L172.8 129.7L175.4 131.1L178.1 132.3L180.8 133.4L183.4 134.3L186.1 135.0L188.7 135.3L191.4 135.2L194.0 134.4L196.7 132.9z" fill="url(#s71)"/>
<path d="M198.5 140.6L194.6 135.3L196.5 133.0L200.4 133.9z" fill="url(#c71)"/>
<path d="M193.8 137.1L191.1 137.8L188.5 137.9L185.8 137.6L183.1 137.0L180.5 136.1L177.8 135.0L175.2 133.7L172.5 132.4L169.9 130.9L157.0 123.6L144.1 116.5L131.3 109.4L118.4 102.1L105.5 94.9L107.4 94.3L120.2 101.5L133.1 108.8L146.0 115.9L158.8 123.0L171.7 130.2L174.4 131.5L177.0 132.8L179.7 133.9L182.3 134.9L185.0 135.6L187.6 136.0L190.3 136.0L192.9 135.4L195.6 134.0z" fill="url(#s70)"/>
<path d="M197.4 144.3L193.5 137.2L195.4 134.2L199.3 137.8z" fill="url(#c70)"/>
<path d="M192.7 139.2L190.0 139.5L187.4 139.3L184.7 138.7L182.1 137.9L179.4 136.8L176.8 135.6L174.1 134.3L171.4 132.9L168.8 131.4L155.9 124.0L143.1 116.9L130.2 109.7L117.3 102.5L104.5 95.3L106.3 94.7L119.2 101.9L132.0 109.1L144.9 116.3L157.8 123.4L170.6 130.6L173.3 132.0L175.9 133.3L178.6 134.5L181.2 135.6L183.9 136.4L186.6 136.9L189.2 137.1L191.9 136.7L194.5 135.7z" fill="url(#s69)"/>
<path d="M196.4 147.5L192.5 139.2L194.3 135.8L198.2 141.7z" fill="url(#c69)"/>
<path d="M191.6 141.3L189.0 141.2L186.3 140.6L183.6 139.8L181.0 138.8L178.3 137.6L175.7 136.3L173.0 134.9L170.4 133.4L167.7 131.9L154.8 124.4L142.0 117.3L129.1 110.1L116.2 102.8L103.4 95.6L105.2 95.0L118.1 102.2L131.0 109.5L143.8 116.7L156.7 123.8L169.6 131.1L172.2 132.5L174.9 133.9L177.5 135.2L180.2 136.3L182.8 137.2L185.5 138.0L188.1 138.3L190.8 138.3L193.4 137.7z" fill="url(#s68)"/>
<path d="M195.3 150.3L191.4 141.3L193.2 137.8L197.1 145.3z" fill="url(#c68)"/>
<path d="M190.5 143.4L187.9 142.8L185.2 142.0L182.6 140.9L179.9 139.7L177.3 138.4L174.6 137.0L171.9 135.5L169.3 134.0L166.6 132.4L153.8 124.8L140.9 117.6L128.0 110.4L115.2 103.2L102.3 96.0L104.1 95.4L117.0 102.6L129.9 109.8L142.7 117.0L155.6 124.1L168.5 131.6L171.1 133.1L173.8 134.5L176.4 135.8L179.1 137.1L181.7 138.2L184.4 139.1L187.1 139.7L189.7 140.0L192.4 139.8z" fill="url(#s67)"/>
<path d="M194.2 153.1L190.3 143.4L192.1 139.9L196.0 148.3z" fill="url(#c67)"/>
<path d="M189.4 145.7L186.8 144.6L184.1 143.4L181.5 142.1L178.8 140.7L176.2 139.2L173.5 137.7L170.9 136.1L168.2 134.5L165.6 132.9L152.7 125.2L139.8 118.0L127.0 110.8L114.1 103.6L101.2 96.3L103.1 95.7L115.9 103.0L128.8 110.2L141.7 117.4L154.5 124.5L167.4 132.1L170.0 133.6L172.7 135.1L175.4 136.5L178.0 137.8L180.7 139.1L183.3 140.1L186.0 141.0L188.6 141.6L191.3 141.9z" fill="url(#s66)"/>
<path d="M193.1 155.7L189.2 145.6L191.1 141.9L195.0 151.2z" fill="url(#c66)"/>
<path d="M188.4 147.9L185.7 146.4L183.1 144.8L180.4 143.2L177.7 141.6L175.1 140.0L172.4 138.3L169.8 136.7L167.1 135.0L164.5 133.4L151.6 125.6L138.7 118.4L125.9 111.1L113.0 103.9L100.1 96.7L102.0 96.1L114.8 103.3L127.7 110.5L140.6 117.7L153.4 124.9L166.3 132.5L169.0 134.1L171.6 135.7L174.3 137.2L176.9 138.6L179.6 140.0L182.2 141.3L184.9 142.4L187.5 143.3L190.2 144.1z" fill="url(#s65)"/>
<path d="M192.0 158.8L188.1 147.8L190.0 144.0L193.9 153.9z" fill="url(#c65)"/>
<path d="M187.3 149.8L184.6 147.9L182.0 146.1L179.3 144.2L176.7 142.5L174.0 140.7L171.4 139.0L168.7 137.3L166.0 135.6L163.4 133.9L150.5 126.0L137.7 118.7L124.8 111.5L111.9 104.3L99.1 97.0L100.9 96.4L113.8 103.7L126.6 110.9L139.5 118.1L152.4 125.3L165.2 133.0L167.9 134.7L170.5 136.3L173.2 137.9L175.8 139.4L178.5 140.9L181.2 142.4L183.8 143.8L186.5 145.2L189.1 146.4z" fill="url(#s64)"/>
<path d="M191.0 161.6L187.1 149.7L188.9 146.3L192.8 156.6z" fill="url(#c64)"/>
<path d="M186.2 151.3L183.6 149.1L180.9 147.0L178.2 145.0L175.6 143.2L172.9 141.3L170.3 139.5L167.6 137.8L165.0 136.0L162.3 134.3L149.4 126.3L136.6 119.1L123.7 111.8L110.9 104.6L98.0 97.4L99.8 96.8L112.7 104.0L125.6 111.2L138.4 118.5L151.3 125.7L164.1 133.5L166.8 135.2L169.5 136.9L172.1 138.5L174.8 140.2L177.4 141.9L180.1 143.5L182.7 145.2L185.4 146.9L188.0 148.5z" fill="url(#s63)"/>
<path d="M189.9 163.2L186.0 151.1L187.8 148.4L191.7 159.7z" fill="url(#c63)"/>
<path d="M185.1 152.6L182.5 150.2L179.8 147.9L177.2 145.8L174.5 143.8L171.9 141.9L169.2 140.0L166.5 138.2L163.9 136.5L161.2 134.7L148.4 126.7L135.5 119.4L122.6 112.2L109.8 105.0L96.9 97.7L98.7 97.1L111.6 104.4L124.5 111.6L137.3 118.8L150.2 126.1L163.1 134.0L165.7 135.7L168.4 137.4L171.0 139.1L173.7 140.9L176.3 142.7L179.0 144.5L181.7 146.4L184.3 148.3L187.0 150.3z" fill="url(#s62)"/>
<path d="M188.8 164.1L184.9 152.4L186.7 150.2L190.6 162.2z" fill="url(#c62)"/>
<path d="M184.0 153.8L181.4 151.1L178.7 148.7L176.1 146.5L173.4 144.4L170.8 142.4L168.1 140.5L165.5 138.7L162.8 136.9L160.2 135.1L147.3 127.1L134.4 119.8L121.6 112.6L108.7 105.3L95.8 98.1L97.7 97.5L110.5 104.7L123.4 112.0L136.3 119.2L149.1 126.4L162.0 134.4L164.6 136.1L167.3 137.9L170.0 139.7L172.6 141.5L175.3 143.4L177.9 145.3L180.6 147.3L183.2 149.4L185.9 151.7z" fill="url(#s61)"/>
<path d="M187.7 164.9L183.8 153.6L185.7 151.5L189.6 163.5z" fill="url(#c61)"/>
<path d="M183.0 154.7L180.3 151.9L177.7 149.4L175.0 147.1L172.3 145.0L169.7 142.9L167.0 141.0L164.4 139.1L161.7 137.3L159.1 135.5L146.2 127.4L133.3 120.1L120.5 112.9L107.6 105.7L94.7 98.5L96.6 97.9L109.4 105.1L122.3 112.3L135.2 119.5L148.0 126.8L160.9 134.8L163.6 136.6L166.2 138.4L168.9 140.2L171.5 142.1L174.2 144.0L176.8 146.0L179.5 148.2L182.1 150.5L184.8 153.0z" fill="url(#s60)"/>
<path d="M186.6 165.5L182.7 154.5L184.6 152.8L188.5 164.4z" fill="url(#c60)"/>
<path d="M181.9 155.3L179.2 152.5L176.6 149.9L173.9 147.6L171.3 145.4L168.6 143.3L166.0 141.4L163.3 139.5L160.6 137.7L158.0 135.9L145.1 127.8L132.3 120.5L119.4 113.3L106.5 106.0L93.7 98.8L95.5 98.2L108.4 105.4L121.2 112.7L134.1 119.9L147.0 127.2L159.8 135.3L162.5 137.0L165.1 138.8L167.8 140.7L170.4 142.6L173.1 144.6L175.8 146.7L178.4 149.0L181.1 151.4L183.7 154.1z" fill="url(#s59)"/>
<path d="M185.6 165.7L181.7 155.1L183.5 153.9L187.4 165.1z" fill="url(#c59)"/>
<path d="M180.8 155.5L178.2 152.7L175.5 150.2L172.8 147.9L170.2 145.7L167.5 143.7L164.9 141.7L162.2 139.8L159.6 138.0L156.9 136.2L144.0 128.1L131.2 120.9L118.3 113.6L105.4 106.4L92.6 99.2L94.4 98.6L107.3 105.8L120.2 113.0L133.0 120.3L145.9 127.5L158.8 135.6L161.4 137.4L164.1 139.3L166.7 141.1L169.4 143.1L172.0 145.1L174.7 147.3L177.3 149.6L180.0 152.1L182.6 155.0z" fill="url(#s58)"/>
<path d="M184.5 165.0L180.6 155.3L182.4 154.7L186.3 165.6z" fill="url(#c58)"/>
<path d="M179.7 155.5L177.1 152.8L174.4 150.3L171.8 148.0L169.1 145.9L166.5 143.9L163.8 142.0L161.1 140.2L158.5 138.3L155.8 136.6L143.0 128.5L130.1 121.2L117.2 114.0L104.4 106.7L91.5 99.5L93.3 98.9L106.2 106.1L119.1 113.4L131.9 120.6L144.8 127.9L157.7 136.0L160.3 137.8L163.0 139.6L165.6 141.5L168.3 143.4L170.9 145.5L173.6 147.7L176.3 150.0L178.9 152.6L181.6 155.4z" fill="url(#s57)"/>
<path d="M183.4 163.6L179.5 155.3L181.3 155.2L185.2 165.5z" fill="url(#c57)"/>
<path d="M178.6 155.3L176.0 152.7L173.3 150.4L170.7 148.2L168.0 146.1L165.4 144.2L162.7 142.3L160.1 140.4L157.4 138.6L154.8 136.9L141.9 128.8L129.0 121.6L116.2 114.3L103.3 107.1L90.4 99.9L92.3 99.3L105.1 106.5L118.0 113.7L130.9 121.0L143.7 128.2L156.6 136.3L159.2 138.1L161.9 139.9L164.6 141.8L167.2 143.7L169.9 145.8L172.5 147.9L175.2 150.2L177.8 152.7L180.5 155.5z" fill="url(#s56)"/>
<path d="M182.3 161.7L178.4 155.1L180.3 155.3L184.2 164.6z" fill="url(#c56)"/>
<path d="M177.6 155.0L174.9 152.6L172.3 150.4L169.6 148.3L166.9 146.3L164.3 144.4L161.6 142.5L159.0 140.7L156.3 138.9L153.7 137.2L140.8 129.2L127.9 121.9L115.1 114.7L102.2 107.4L89.3 100.2L91.2 99.6L104.0 106.8L116.9 114.1L129.8 121.3L142.6 128.6L155.5 136.7L158.2 138.4L160.8 140.2L163.5 142.1L166.1 144.0L168.8 146.0L171.4 148.1L174.1 150.3L176.7 152.8L179.4 155.4z" fill="url(#s55)"/>
<path d="M181.2 159.7L177.3 154.8L179.2 155.2L183.1 163.0z" fill="url(#c55)"/>
<path d="M176.5 154.8L173.8 152.5L171.2 150.4L168.5 148.4L165.9 146.4L163.2 144.6L160.6 142.8L157.9 141.0L155.2 139.2L152.6 137.5L139.7 129.5L126.9 122.3L114.0 115.0L101.1 107.8L88.3 100.6L90.1 100.0L103.0 107.2L115.8 114.4L128.7 121.7L141.6 128.9L154.4 137.0L157.1 138.7L159.7 140.5L162.4 142.3L165.0 144.2L167.7 146.2L170.4 148.2L173.0 150.4L175.7 152.7L178.3 155.2z" fill="url(#s54)"/>
<path d="M180.2 157.7L176.3 154.6L178.1 155.0L182.0 161.1z" fill="url(#c54)"/>
<path d="M175.4 154.4L172.8 152.3L170.1 150.3L167.4 148.4L164.8 146.6L162.1 144.8L159.5 143.0L156.8 141.2L154.2 139.5L151.5 137.8L138.6 129.9L125.8 122.6L112.9 115.4L100.0 108.2L87.2 100.9L89.0 100.3L101.9 107.6L114.8 114.8L127.6 122.0L140.5 129.3L153.4 137.3L156.0 139.0L158.7 140.8L161.3 142.6L164.0 144.4L166.6 146.3L169.3 148.3L171.9 150.4L174.6 152.6L177.2 155.0z" fill="url(#s53)"/>
<path d="M179.1 155.4L175.2 154.3L177.0 154.8L180.9 159.0z" fill="url(#c53)"/>
<path d="M174.3 154.0L171.7 152.1L169.0 150.2L166.4 148.4L163.7 146.7L161.1 144.9L158.4 143.2L155.7 141.5L153.1 139.8L150.4 138.1L137.6 130.2L124.7 123.0L111.8 115.7L99.0 108.5L86.1 101.3L87.9 100.7L100.8 107.9L113.7 115.1L126.5 122.4L139.4 129.6L152.3 137.6L154.9 139.3L157.6 141.1L160.2 142.8L162.9 144.6L165.5 146.5L168.2 148.4L170.9 150.4L173.5 152.5L176.2 154.7z" fill="url(#s52)"/>
<path d="M178.0 152.7L174.1 153.8L175.9 154.5L179.8 157.0z" fill="url(#c52)"/>
<path d="M173.2 153.4L170.6 151.8L167.9 150.1L165.3 148.4L162.6 146.7L160.0 145.1L157.3 143.4L154.7 141.7L152.0 140.1L149.4 138.4L136.5 130.5L123.6 123.3L110.8 116.1L97.9 108.9L85.0 101.6L86.9 101.0L99.7 108.3L112.6 115.5L125.5 122.7L138.3 130.0L151.2 137.9L153.8 139.6L156.5 141.3L159.2 143.1L161.8 144.8L164.5 146.6L167.1 148.4L169.8 150.3L172.4 152.3L175.1 154.3z" fill="url(#s51)"/>
<path d="M176.9 149.8L173.0 153.3L174.9 154.1L178.8 154.6z" fill="url(#c51)"/>
<path d="M172.2 152.8L169.5 151.4L166.9 149.9L164.2 148.4L161.5 146.8L158.9 145.2L156.2 143.6L153.6 141.9L150.9 140.3L148.3 138.7L135.4 130.9L122.5 123.7L109.7 116.4L96.8 109.2L83.9 102.0L85.8 101.4L98.6 108.6L111.5 115.8L124.4 123.1L137.2 130.3L150.1 138.2L152.8 139.9L155.4 141.6L158.1 143.3L160.7 145.0L163.4 146.7L166.0 148.4L168.7 150.2L171.3 152.0L174.0 153.8z" fill="url(#s50)"/>
<path d="M175.8 146.8L171.9 152.7L173.8 153.7L177.7 151.9z" fill="url(#c50)"/>
<path d="M171.1 152.2L168.4 151.0L165.8 149.7L163.1 148.3L160.5 146.8L157.8 145.3L155.2 143.8L152.5 142.2L149.8 140.6L147.2 138.9L134.3 131.2L121.5 124.0L108.6 116.8L95.7 109.6L82.9 102.3L84.7 101.7L97.6 109.0L110.4 116.2L123.3 123.4L136.2 130.6L149.0 138.5L151.7 140.1L154.3 141.8L157.0 143.4L159.6 145.1L162.3 146.8L165.0 148.4L167.6 150.0L170.3 151.7L172.9 153.3z" fill="url(#s49)"/>
<path d="M174.8 143.8L170.9 152.1L172.7 153.1L176.6 148.9z" fill="url(#c49)"/>
<path d="M170.0 151.5L167.4 150.6L164.7 149.5L162.0 148.2L159.4 146.9L156.7 145.4L154.1 143.9L151.4 142.4L148.8 140.8L146.1 139.2L133.2 131.5L120.4 124.4L107.5 117.1L94.6 109.9L81.8 102.7L83.6 102.1L96.5 109.3L109.4 116.5L122.2 123.8L135.1 131.0L147.9 138.7L150.6 140.4L153.3 142.0L155.9 143.6L158.6 145.2L161.2 146.8L163.9 148.3L166.5 149.8L169.2 151.3L171.8 152.6z" fill="url(#s48)"/>
<path d="M173.7 141.0L169.8 151.5L171.6 152.5L175.5 145.9z" fill="url(#c48)"/>
<path d="M168.9 150.9L166.3 150.2L163.6 149.3L161.0 148.2L158.3 146.9L155.7 145.5L153.0 144.1L150.3 142.6L147.7 141.1L145.0 139.5L132.2 131.9L119.3 124.7L106.4 117.5L93.6 110.3L80.7 103.1L82.5 102.5L95.4 109.7L108.3 116.9L121.1 124.1L134.0 131.3L146.9 139.0L149.5 140.6L152.2 142.2L154.8 143.8L157.5 145.3L160.1 146.8L162.8 148.3L165.5 149.6L168.1 150.9L170.8 152.0z" fill="url(#s47)"/>
<path d="M172.6 138.0L168.7 150.9L170.5 151.9L174.4 143.0z" fill="url(#c47)"/>
<path d="M167.8 150.3L165.2 149.9L162.5 149.1L159.9 148.1L157.2 147.0L154.6 145.7L151.9 144.3L149.3 142.8L146.6 141.3L144.0 139.8L131.1 132.2L118.2 125.1L105.4 117.8L92.5 110.6L79.6 103.4L81.5 102.8L94.3 110.0L107.2 117.2L120.1 124.5L132.9 131.6L145.8 139.3L148.4 140.9L151.1 142.5L153.8 144.0L156.4 145.5L159.1 146.9L161.7 148.2L164.4 149.4L167.0 150.5L169.7 151.3z" fill="url(#s46)"/>
<path d="M171.5 134.9L167.6 150.3L169.5 151.3L173.4 140.1z" fill="url(#c46)"/>
<path d="M166.8 149.8L164.1 149.5L161.5 149.0L158.8 148.1L156.1 147.0L153.5 145.8L150.8 144.5L148.2 143.1L145.5 141.6L142.9 140.1L130.0 132.5L117.1 125.4L104.3 118.2L91.4 111.0L78.5 103.8L80.4 103.2L93.2 110.4L106.1 117.6L119.0 124.8L131.8 132.0L144.7 139.6L147.4 141.2L150.0 142.7L152.7 144.2L155.3 145.6L158.0 146.9L160.6 148.2L163.3 149.2L165.9 150.1L168.6 150.7z" fill="url(#s45)"/>
<path d="M170.4 131.5L166.5 149.8L168.4 150.7L172.3 137.1z" fill="url(#c45)"/>
<path d="M165.7 149.2L163.0 149.2L160.4 148.8L157.7 148.1L155.1 147.1L152.4 146.0L149.8 144.7L147.1 143.3L144.4 141.9L141.8 140.4L128.9 132.9L116.1 125.8L103.2 118.6L90.3 111.3L77.5 104.1L79.3 103.5L92.2 110.7L105.0 118.0L117.9 125.2L130.8 132.3L143.6 139.9L146.3 141.4L148.9 142.9L151.6 144.4L154.2 145.7L156.9 147.0L159.6 148.1L162.2 149.1L164.9 149.8L167.5 150.2z" fill="url(#s44)"/>
<path d="M169.4 127.5L165.5 149.3L167.3 150.1L171.2 133.9z" fill="url(#c44)"/>
<path d="M164.6 148.7L162.0 148.9L159.3 148.7L156.6 148.1L154.0 147.2L151.3 146.1L148.7 144.9L146.0 143.5L143.4 142.1L140.7 140.6L127.8 133.2L115.0 126.1L102.1 118.9L89.2 111.7L76.4 104.5L78.2 103.9L91.1 111.1L104.0 118.3L116.8 125.5L129.7 132.7L142.5 140.2L145.2 141.7L147.9 143.1L150.5 144.5L153.2 145.9L155.8 147.1L158.5 148.1L161.1 148.9L163.8 149.5L166.4 149.6z" fill="url(#s43)"/>
<path d="M168.3 123.2L164.4 148.7L166.2 149.6L170.1 130.4z" fill="url(#c43)"/>
<path d="M163.5 148.2L160.9 148.6L158.2 148.5L155.6 148.0L152.9 147.3L150.3 146.3L147.6 145.1L144.9 143.8L142.3 142.4L139.6 140.9L126.8 133.6L113.9 126.5L101.0 119.3L88.2 112.0L75.3 104.8L77.1 104.2L90.0 111.4L102.9 118.7L115.7 125.9L128.6 133.0L141.5 140.4L144.1 141.9L146.8 143.4L149.4 144.7L152.1 146.0L154.7 147.1L157.4 148.1L160.1 148.8L162.7 149.1L165.4 149.1z" fill="url(#s42)"/>
<path d="M167.2 119.3L163.3 148.2L165.1 149.1L169.0 126.2z" fill="url(#c42)"/>
<path d="M162.4 147.6L159.8 148.3L157.1 148.4L154.5 148.0L151.8 147.3L149.2 146.4L146.5 145.3L143.9 144.0L141.2 142.7L138.6 141.2L125.7 133.9L112.8 126.8L100.0 119.6L87.1 112.4L74.2 105.2L76.1 104.6L88.9 111.8L101.8 119.0L114.7 126.2L127.5 133.3L140.4 140.7L143.0 142.2L145.7 143.6L148.4 144.9L151.0 146.1L153.7 147.2L156.3 148.1L159.0 148.6L161.6 148.8L164.3 148.5z" fill="url(#s41)"/>
<path d="M166.1 116.1L162.2 147.7L164.1 148.6L168.0 122.0z" fill="url(#c41)"/>
<path d="M161.4 147.1L158.7 148.0L156.1 148.2L153.4 148.0L150.7 147.4L148.1 146.5L145.4 145.5L142.8 144.3L140.1 142.9L137.5 141.5L124.6 134.2L111.7 127.2L98.9 120.0L86.0 112.7L73.1 105.5L75.0 104.9L87.8 112.1L100.7 119.4L113.6 126.6L126.4 133.7L139.3 141.0L142.0 142.5L144.6 143.9L147.3 145.1L149.9 146.3L152.6 147.3L155.2 148.0L157.9 148.5L160.5 148.5L163.2 148.0z" fill="url(#s40)"/>
<path d="M165.0 113.7L161.1 147.2L163.0 148.1L166.9 118.2z" fill="url(#c40)"/>
<path d="M160.3 146.5L157.6 147.7L155.0 148.1L152.3 148.0L149.7 147.5L147.0 146.7L144.4 145.7L141.7 144.5L139.0 143.2L136.4 141.8L123.5 134.6L110.7 127.5L97.8 120.3L84.9 113.1L72.1 105.9L73.9 105.3L86.8 112.5L99.6 119.7L112.5 126.9L125.4 134.0L138.2 141.3L140.9 142.7L143.5 144.1L146.2 145.3L148.8 146.4L151.5 147.4L154.2 148.0L156.8 148.3L159.5 148.2L162.1 147.5z" fill="url(#s39)"/>
<path d="M164.0 111.7L160.1 146.7L161.9 147.6L165.8 115.3z" fill="url(#c39)"/>
<path d="M159.2 146.0L156.6 147.3L153.9 147.9L151.2 147.9L148.6 147.5L145.9 146.8L143.3 145.9L140.6 144.7L138.0 143.5L135.3 142.1L122.4 134.9L109.6 127.9L96.7 120.7L83.8 113.5L71.0 106.2L72.8 105.6L85.7 112.9L98.6 120.1L111.4 127.3L124.3 134.3L137.1 141.6L139.8 143.0L142.5 144.3L145.1 145.5L147.8 146.6L150.4 147.4L153.1 148.0L155.7 148.2L158.4 147.9L161.0 146.9z" fill="url(#s38)"/>
<path d="M162.9 109.7L159.0 146.1L160.8 147.0L164.7 113.1z" fill="url(#c38)"/>
<path d="M158.1 145.4L155.5 147.0L152.8 147.8L150.2 147.9L147.5 147.6L144.9 147.0L142.2 146.1L139.5 145.0L136.9 143.7L134.2 142.4L121.4 135.2L108.5 128.2L95.6 121.0L82.8 113.8L69.9 106.6L71.7 106.0L84.6 113.2L97.5 120.4L110.3 127.6L123.2 134.7L136.1 141.9L138.7 143.3L141.4 144.6L144.0 145.7L146.7 146.7L149.3 147.5L152.0 148.0L154.7 148.0L157.3 147.6L160.0 146.4z" fill="url(#s37)"/>
<path d="M161.8 107.7L157.9 145.6L159.7 146.5L163.6 111.1z" fill="url(#c37)"/>
<path d="M157.0 144.9L154.4 146.7L151.7 147.6L149.1 147.9L146.4 147.7L143.8 147.1L141.1 146.2L138.5 145.2L135.8 144.0L133.2 142.7L120.3 135.6L107.4 128.6L94.6 121.4L81.7 114.2L68.8 106.9L70.7 106.3L83.5 113.6L96.4 120.8L109.3 128.0L122.1 135.0L135.0 142.2L137.6 143.5L140.3 144.8L143.0 145.9L145.6 146.9L148.3 147.6L150.9 147.9L153.6 147.9L156.2 147.2L158.9 145.8z" fill="url(#s36)"/>
<path d="M160.7 106.3L156.8 145.1L158.7 146.0L162.6 109.1z" fill="url(#c36)"/>
<path d="M156.0 144.3L153.3 146.3L150.7 147.4L148.0 147.8L145.3 147.7L142.7 147.2L140.0 146.4L137.4 145.4L134.7 144.2L132.1 142.9L119.2 135.9L106.3 128.9L93.5 121.7L80.6 114.5L67.7 107.3L69.6 106.7L82.4 113.9L95.3 121.1L108.2 128.3L121.0 135.3L133.9 142.5L136.6 143.8L139.2 145.0L141.9 146.1L144.5 147.0L147.2 147.6L149.8 147.9L152.5 147.7L155.1 146.9L157.8 145.3z" fill="url(#s35)"/>
<path d="M159.6 105.5L155.7 144.5L157.6 145.4L161.5 107.2z" fill="url(#c35)"/>
<path d="M154.9 143.6L152.2 145.9L149.6 147.2L146.9 147.8L144.3 147.8L141.6 147.3L139.0 146.6L136.3 145.6L133.6 144.5L131.0 143.2L118.1 136.3L105.3 129.2L92.4 122.1L79.5 114.9L66.7 107.6L68.5 107.0L81.4 114.3L94.2 121.5L107.1 128.7L120.0 135.7L132.8 142.7L135.5 144.1L138.1 145.3L140.8 146.3L143.4 147.1L146.1 147.7L148.8 147.9L151.4 147.5L154.1 146.6L156.7 144.7z" fill="url(#s34)"/>
<path d="M158.6 105.5L154.7 143.9L156.5 144.9L160.4 106.0z" fill="url(#c34)"/>
<path d="M153.8 143.0L151.2 145.5L148.5 147.0L145.8 147.7L143.2 147.8L140.5 147.5L137.9 146.8L135.2 145.9L132.6 144.7L129.9 143.5L117.0 136.6L104.2 129.6L91.3 122.4L78.5 115.2L65.6 108.0L67.4 107.4L80.3 114.6L93.2 121.8L106.0 129.0L118.9 136.0L131.8 143.0L134.4 144.3L137.1 145.5L139.7 146.5L142.4 147.3L145.0 147.7L147.7 147.8L150.3 147.4L153.0 146.2L155.6 144.1z" fill="url(#s33)"/>
<path d="M157.5 106.4L153.6 143.3L155.4 144.3L159.3 105.3z" fill="url(#c33)"/>
<path d="M152.7 142.4L150.1 145.2L147.4 146.9L144.8 147.7L142.1 147.9L139.5 147.6L136.8 147.0L134.1 146.1L131.5 145.0L128.8 143.8L116.0 136.9L103.1 129.9L90.2 122.8L77.4 115.6L64.5 108.4L66.3 107.8L79.2 115.0L92.1 122.2L104.9 129.4L117.8 136.4L130.7 143.3L133.3 144.6L136.0 145.7L138.6 146.7L141.3 147.4L143.9 147.8L146.6 147.7L149.3 147.2L151.9 145.8L154.6 143.4z" fill="url(#s32)"/>
<path d="M156.4 107.6L152.5 142.7L154.3 143.7L158.2 105.7z" fill="url(#c32)"/>
<path d="M151.6 141.9L149.0 144.9L146.3 146.7L143.7 147.7L141.0 147.9L138.4 147.7L135.7 147.2L133.1 146.3L130.4 145.3L127.8 144.1L114.9 137.3L102.0 130.3L89.2 123.1L76.3 115.9L63.4 108.7L65.3 108.1L78.1 115.3L91.0 122.5L103.9 129.7L116.7 136.7L129.6 143.6L132.2 144.8L134.9 145.9L137.6 146.8L140.2 147.5L142.9 147.8L145.5 147.7L148.2 147.0L150.8 145.4L153.5 142.8z" fill="url(#s31)"/>
<path d="M155.3 109.4L151.4 142.2L153.3 143.1L157.2 106.7z" fill="url(#c31)"/>
<path d="M150.6 141.3L147.9 144.6L145.3 146.5L142.6 147.6L139.9 148.0L137.3 147.9L134.6 147.4L132.0 146.6L129.3 145.5L126.7 144.4L113.8 137.6L100.9 130.6L88.1 123.5L75.2 116.3L62.3 109.1L64.2 108.5L77.0 115.7L89.9 122.9L102.8 130.1L115.6 137.0L128.5 143.9L131.2 145.1L133.8 146.2L136.5 147.0L139.1 147.6L141.8 147.9L144.4 147.7L147.1 146.8L149.7 145.1L152.4 142.3z" fill="url(#s30)"/>
<path d="M154.2 111.3L150.3 141.7L152.2 142.6L156.1 108.1z" fill="url(#c30)"/>
<path d="M149.5 140.7L146.8 144.2L144.2 146.4L141.5 147.6L138.9 148.1L136.2 148.0L133.6 147.6L130.9 146.8L128.2 145.8L125.6 144.6L112.7 137.9L99.9 131.0L87.0 123.8L74.1 116.6L61.3 109.4L63.1 108.8L76.0 116.0L88.8 123.2L101.7 130.4L114.6 137.4L127.4 144.2L130.1 145.4L132.7 146.4L135.4 147.2L138.0 147.8L140.7 148.0L143.4 147.7L146.0 146.7L148.7 144.8L151.3 141.7z" fill="url(#s29)"/>
<path d="M153.2 113.2L149.3 141.1L151.1 142.0L155.0 109.9z" fill="url(#c29)"/>
<path d="M148.4 140.2L145.8 143.9L143.1 146.2L140.4 147.6L137.8 148.2L135.1 148.2L132.5 147.8L129.8 147.0L127.2 146.1L124.5 144.9L111.6 138.3L98.8 131.3L85.9 124.2L73.0 117.0L60.2 109.8L62.0 109.2L74.9 116.4L87.8 123.6L100.6 130.8L113.5 137.7L126.3 144.4L129.0 145.6L131.7 146.6L134.3 147.4L137.0 147.9L139.6 148.0L142.3 147.6L144.9 146.5L147.6 144.4L150.2 141.2z" fill="url(#s28)"/>
<path d="M152.1 115.4L148.2 140.6L150.0 141.5L153.9 111.8z" fill="url(#c28)"/>
<path d="M147.3 139.9L144.7 143.7L142.0 146.2L139.4 147.6L136.7 148.3L134.1 148.4L131.4 148.0L128.7 147.3L126.1 146.4L123.4 145.2L110.6 138.6L97.7 131.7L84.8 124.6L72.0 117.3L59.1 110.1L60.9 109.5L73.8 116.7L86.7 123.9L99.5 131.1L112.4 138.0L125.3 144.7L127.9 145.9L130.6 146.9L133.2 147.6L135.9 148.1L138.5 148.1L141.2 147.6L143.9 146.3L146.5 144.1L149.2 140.6z" fill="url(#s27)"/>
<path d="M151.0 118.2L147.1 140.3L148.9 140.9L152.8 113.8z" fill="url(#c27)"/>
<path d="M146.2 139.7L143.6 143.7L140.9 146.3L138.3 147.8L135.6 148.5L133.0 148.6L130.3 148.3L127.7 147.6L125.0 146.7L122.4 145.6L109.5 139.0L96.6 132.1L83.8 124.9L70.9 117.7L58.0 110.5L59.9 109.9L72.7 117.1L85.6 124.3L98.5 131.5L111.3 138.4L124.2 145.0L126.8 146.2L129.5 147.1L132.2 147.8L134.8 148.2L137.5 148.2L140.1 147.6L142.8 146.2L145.4 143.8L148.1 140.1z" fill="url(#s26)"/>
<path d="M149.9 122.1L146.0 140.1L147.9 140.5L151.8 116.2z" fill="url(#c26)"/>
<path d="M145.2 139.9L142.5 143.9L139.9 146.5L137.2 148.0L134.5 148.8L131.9 148.9L129.2 148.6L126.6 147.9L123.9 147.0L121.3 145.9L108.4 139.4L95.5 132.4L82.7 125.3L69.8 118.1L56.9 110.9L58.8 110.2L71.6 117.5L84.5 124.7L97.4 131.8L110.2 138.7L123.1 145.3L125.8 146.4L128.4 147.4L131.1 148.1L133.7 148.4L136.4 148.3L139.0 147.7L141.7 146.2L144.3 143.7L147.0 139.8z" fill="url(#s25)"/>
<path d="M148.8 126.1L144.9 140.3L146.8 140.2L150.7 119.3z" fill="url(#c25)"/>
<path d="M144.1 140.0L141.4 144.1L138.8 146.8L136.1 148.3L133.5 149.1L130.8 149.2L128.2 148.9L125.5 148.3L122.8 147.4L120.2 146.3L107.3 139.7L94.5 132.8L81.6 125.7L68.7 118.5L55.9 111.3L57.7 110.6L70.6 117.8L83.4 125.0L96.3 132.2L109.2 139.1L122.0 145.7L124.7 146.8L127.3 147.7L130.0 148.4L132.6 148.7L135.3 148.6L138.0 147.8L140.6 146.3L143.3 143.8L145.9 139.8z" fill="url(#s24)"/>
<path d="M147.8 130.3L143.9 140.4L145.7 140.1L149.6 123.3z" fill="url(#c24)"/>
<path d="M143.0 140.3L140.4 144.4L137.7 147.1L135.0 148.7L132.4 149.4L129.7 149.6L127.1 149.3L124.4 148.6L121.8 147.7L119.1 146.7L106.2 140.1L93.4 133.2L80.5 126.1L67.6 118.9L54.8 111.6L56.6 111.0L69.5 118.2L82.4 125.4L95.2 132.6L108.1 139.5L120.9 146.0L123.6 147.1L126.3 148.0L128.9 148.7L131.6 149.0L134.2 148.9L136.9 148.1L139.5 146.6L142.2 144.0L144.8 139.9z" fill="url(#s23)"/>
<path d="M146.7 135.2L142.8 140.7L144.6 140.3L148.5 127.3z" fill="url(#c23)"/>
<path d="M141.9 140.9L139.3 145.0L136.6 147.6L134.0 149.1L131.3 149.9L128.7 150.0L126.0 149.7L123.3 149.1L120.7 148.1L118.0 147.1L105.2 140.5L92.3 133.6L79.4 126.5L66.6 119.3L53.7 112.0L55.5 111.4L68.4 118.6L81.3 125.8L94.1 132.9L107.0 139.8L119.9 146.4L122.5 147.5L125.2 148.4L127.8 149.0L130.5 149.3L133.1 149.2L135.8 148.4L138.5 146.9L141.1 144.2L143.8 140.1z" fill="url(#s22)"/>
<path d="M145.6 140.6L141.7 141.3L143.5 140.5L147.4 131.7z" fill="url(#c22)"/>
<path d="M140.8 142.4L138.2 146.2L135.5 148.6L132.9 150.0L130.2 150.6L127.6 150.7L124.9 150.3L122.3 149.6L119.6 148.7L117.0 147.5L104.1 141.0L91.2 134.0L78.4 126.9L65.5 119.7L52.6 112.5L54.5 111.8L67.3 119.0L80.2 126.2L93.1 133.3L105.9 140.2L118.8 146.8L121.4 147.9L124.1 148.7L126.8 149.4L129.4 149.7L132.1 149.5L134.7 148.8L137.4 147.2L140.0 144.5L142.7 140.4z" fill="url(#s21)"/>
<path d="M144.5 145.9L140.6 142.8L142.5 140.8L146.4 136.8z" fill="url(#c21)"/>
<path d="M139.8 144.5L137.1 147.8L134.5 149.9L131.8 151.1L129.1 151.5L126.5 151.4L123.8 151.0L121.2 150.2L118.5 149.2L115.9 148.1L103.0 141.4L90.1 134.4L77.3 127.3L64.4 120.1L51.5 112.9L53.4 112.2L66.2 119.4L79.1 126.6L92.0 133.7L104.8 140.7L117.7 147.2L120.4 148.3L123.0 149.2L125.7 149.9L128.3 150.2L131.0 150.1L133.6 149.4L136.3 147.9L138.9 145.3L141.6 141.3z" fill="url(#s20)"/>
<path d="M143.4 150.2L139.5 144.8L141.4 141.7L145.3 142.2z" fill="url(#c20)"/>
<path d="M138.7 146.6L136.0 149.5L133.4 151.3L130.7 152.2L128.1 152.5L125.4 152.2L122.8 151.7L120.1 150.8L117.4 149.8L114.8 148.6L101.9 141.9L89.1 134.9L76.2 127.7L63.3 120.5L50.5 113.3L52.3 112.6L65.2 119.8L78.0 127.0L90.9 134.2L103.8 141.1L116.6 147.7L119.3 148.8L121.9 149.8L124.6 150.5L127.2 150.9L129.9 150.9L132.6 150.3L135.2 149.0L137.9 146.7L140.5 143.0z" fill="url(#s19)"/>
<path d="M142.4 153.4L138.5 146.9L140.3 143.4L144.2 147.3z" fill="url(#c19)"/>
<path d="M137.6 148.5L135.0 151.0L132.3 152.5L129.6 153.2L127.0 153.3L124.3 153.0L121.7 152.3L119.0 151.4L116.4 150.3L113.7 149.1L100.8 142.3L88.0 135.3L75.1 128.1L62.2 120.9L49.4 113.7L51.2 113.0L64.1 120.2L77.0 127.4L89.8 134.6L102.7 141.5L115.6 148.2L118.2 149.4L120.9 150.4L123.5 151.2L126.2 151.7L128.8 151.8L131.5 151.4L134.1 150.3L136.8 148.3L139.4 145.1z" fill="url(#s18)"/>
<path d="M141.3 157.0L137.4 148.8L139.2 145.4L143.1 151.2z" fill="url(#c18)"/>
<path d="M136.5 150.4L133.9 152.5L131.2 153.7L128.6 154.2L125.9 154.2L123.3 153.7L120.6 153.0L117.9 152.0L115.3 150.9L112.6 149.6L99.8 142.8L86.9 135.8L74.0 128.6L61.2 121.4L48.3 114.1L50.1 113.4L63.0 120.6L75.9 127.8L88.7 135.0L101.6 142.0L114.5 148.8L117.1 150.0L119.8 151.0L122.4 151.9L125.1 152.5L127.7 152.7L130.4 152.5L133.1 151.7L135.7 150.0L138.4 147.2z" fill="url(#s17)"/>
<path d="M140.2 160.8L136.3 150.6L138.1 147.5L142.0 154.4z" fill="url(#c17)"/>
<path d="M135.4 152.3L132.8 154.1L130.1 155.0L127.5 155.3L124.8 155.1L122.2 154.5L119.5 153.7L116.9 152.7L114.2 151.5L111.6 150.2L98.7 143.2L85.8 136.2L73.0 129.0L60.1 121.8L47.2 114.6L49.1 113.8L61.9 121.1L74.8 128.3L87.7 135.4L100.5 142.4L113.4 149.3L116.0 150.5L118.7 151.6L121.4 152.5L124.0 153.2L126.7 153.6L129.3 153.5L132.0 152.9L134.6 151.5L137.3 149.1z" fill="url(#s16)"/>
<path d="M139.1 164.5L135.2 152.5L137.1 149.3L141.0 158.1z" fill="url(#c16)"/>
<path d="M134.4 154.3L131.7 155.7L129.1 156.3L126.4 156.3L123.7 156.0L121.1 155.3L118.4 154.4L115.8 153.3L113.1 152.1L110.5 150.7L97.6 143.7L84.7 136.7L71.9 129.5L59.0 122.3L46.1 115.0L48.0 114.3L60.8 121.5L73.7 128.7L86.6 135.9L99.4 142.9L112.3 149.8L115.0 151.1L117.6 152.2L120.3 153.2L122.9 154.0L125.6 154.5L128.2 154.5L130.9 154.1L133.5 153.0L136.2 151.0z" fill="url(#s15)"/>
<path d="M138.0 168.6L134.1 154.5L136.0 151.2L139.9 161.9z" fill="url(#c15)"/>
<path d="M133.3 156.2L130.6 157.2L128.0 157.5L125.3 157.4L122.7 156.9L120.0 156.1L117.4 155.1L114.7 153.9L112.0 152.6L109.4 151.3L96.5 144.2L83.7 137.1L70.8 129.9L57.9 122.7L45.1 115.5L46.9 114.7L59.8 121.9L72.6 129.2L85.5 136.3L98.4 143.4L111.2 150.3L113.9 151.6L116.5 152.8L119.2 153.9L121.8 154.7L124.5 155.3L127.2 155.6L129.8 155.4L132.5 154.6L135.1 152.9z" fill="url(#s14)"/>
<path d="M137.0 172.0L133.1 156.3L134.9 153.1L138.8 165.8z" fill="url(#c14)"/>
<path d="M132.2 158.0L129.6 158.7L126.9 158.7L124.2 158.4L121.6 157.7L118.9 156.8L116.3 155.7L113.6 154.5L111.0 153.2L108.3 151.8L95.4 144.7L82.6 137.6L69.7 130.4L56.8 123.2L44.0 116.0L45.8 115.2L58.7 122.4L71.6 129.6L84.4 136.8L97.3 143.9L110.2 150.9L112.8 152.2L115.5 153.5L118.1 154.6L120.8 155.5L123.4 156.2L126.1 156.7L128.7 156.7L131.4 156.1L134.0 154.9z" fill="url(#s13)"/>
<path d="M135.9 174.0L132.0 158.1L133.8 155.0L137.7 169.7z" fill="url(#c13)"/>
<path d="M131.1 159.6L128.5 159.9L125.8 159.8L123.2 159.3L120.5 158.5L117.9 157.5L115.2 156.3L112.5 155.1L109.9 153.7L107.2 152.3L94.4 145.2L81.5 138.1L68.6 130.9L55.8 123.6L42.9 116.4L44.7 115.6L57.6 122.9L70.5 130.1L83.3 137.3L96.2 144.3L109.1 151.4L111.7 152.8L114.4 154.1L117.0 155.3L119.7 156.3L122.3 157.1L125.0 157.7L127.7 157.9L130.3 157.7L133.0 156.8z" fill="url(#s12)"/>
<path d="M134.8 175.5L130.9 159.7L132.7 156.9L136.6 172.8z" fill="url(#c12)"/>
<path d="M130.0 161.0L127.4 161.1L124.7 160.7L122.1 160.1L119.4 159.2L116.8 158.1L114.1 156.9L111.5 155.6L108.8 154.3L106.2 152.9L93.3 145.7L80.4 138.5L67.6 131.3L54.7 124.1L41.8 116.9L43.7 116.1L56.5 123.3L69.4 130.5L82.3 137.7L95.1 144.8L108.0 152.0L110.6 153.4L113.3 154.7L116.0 155.9L118.6 157.0L121.3 157.9L123.9 158.6L126.6 159.1L129.2 159.1L131.9 158.5z" fill="url(#s11)"/>
<path d="M133.7 176.8L129.8 161.0L131.7 158.6L135.6 174.5z" fill="url(#c11)"/>
<path d="M129.0 162.3L126.3 162.1L123.7 161.6L121.0 160.9L118.3 159.9L115.7 158.8L113.0 157.5L110.4 156.2L107.7 154.8L105.1 153.4L92.2 146.1L79.3 139.0L66.5 131.8L53.6 124.6L40.7 117.4L42.6 116.6L55.4 123.8L68.3 131.0L81.2 138.2L94.0 145.3L106.9 152.5L109.6 153.9L112.2 155.3L114.9 156.5L117.5 157.7L120.2 158.7L122.8 159.5L125.5 160.1L128.1 160.3L130.8 160.0z" fill="url(#s10)"/>
<path d="M132.6 177.9L128.7 162.3L130.6 160.1L134.5 176.0z" fill="url(#c10)"/>
<path d="M127.9 163.5L125.2 163.1L122.6 162.5L119.9 161.6L117.3 160.6L114.6 159.4L112.0 158.1L109.3 156.7L106.6 155.3L104.0 153.9L91.1 146.6L78.3 139.5L65.4 132.3L52.5 125.1L39.7 117.8L41.5 117.0L54.4 124.2L67.2 131.5L80.1 138.7L93.0 145.8L105.8 153.0L108.5 154.4L111.1 155.8L113.8 157.1L116.4 158.3L119.1 159.4L121.8 160.3L124.4 161.0L127.1 161.4L129.7 161.4z" fill="url(#s9)"/>
<path d="M131.6 178.6L127.7 163.5L129.5 161.4L133.4 177.2z" fill="url(#c9)"/>
<path d="M126.8 164.6L124.2 164.1L121.5 163.3L118.8 162.3L116.2 161.2L113.5 160.0L110.9 158.6L108.2 157.3L105.6 155.8L102.9 154.4L90.0 147.1L77.2 140.0L64.3 132.8L51.5 125.5L38.6 118.3L40.4 117.5L53.3 124.7L66.2 131.9L79.0 139.1L91.9 146.3L104.8 153.5L107.4 155.0L110.1 156.4L112.7 157.7L115.4 158.9L118.0 160.1L120.7 161.1L123.3 161.9L126.0 162.4L128.6 162.7z" fill="url(#s8)"/>
<path d="M130.5 178.8L126.6 164.6L128.4 162.7L132.3 178.1z" fill="url(#c8)"/>
<path d="M125.7 165.7L123.1 165.0L120.4 164.1L117.8 163.0L115.1 161.8L112.5 160.5L109.8 159.2L107.1 157.8L104.5 156.4L101.8 154.9L89.0 147.6L76.1 140.5L63.2 133.2L50.4 126.0L37.5 118.8L39.3 118.0L52.2 125.2L65.1 132.4L77.9 139.6L90.8 146.8L103.7 154.0L106.3 155.5L109.0 156.9L111.6 158.3L114.3 159.6L116.9 160.8L119.6 161.8L122.3 162.7L124.9 163.4L127.6 163.8z" fill="url(#s7)"/>
<path d="M129.4 178.4L125.5 165.7L127.3 163.8L131.2 178.7z" fill="url(#c7)"/>
<path d="M124.6 166.7L122.0 165.9L119.3 164.9L116.7 163.7L114.0 162.4L111.4 161.1L108.7 159.7L106.1 158.3L103.4 156.9L100.8 155.4L87.9 148.1L75.0 140.9L62.2 133.7L49.3 126.5L36.4 119.3L38.3 118.5L51.1 125.7L64.0 132.9L76.9 140.1L89.7 147.3L102.6 154.5L105.2 156.0L107.9 157.4L110.6 158.8L113.2 160.1L115.9 161.4L118.5 162.5L121.2 163.6L123.8 164.4L126.5 165.0z" fill="url(#s6)"/>
<path d="M128.3 177.7L124.4 166.7L126.3 164.9L130.2 178.7z" fill="url(#c6)"/>
<path d="M123.6 167.7L120.9 166.7L118.3 165.6L115.6 164.4L112.9 163.0L110.3 161.7L107.6 160.3L105.0 158.8L102.3 157.4L99.7 155.9L86.8 148.6L73.9 141.4L61.1 134.2L48.2 127.0L35.3 119.8L37.2 118.9L50.0 126.2L62.9 133.4L75.8 140.6L88.6 147.8L101.5 155.0L104.2 156.5L106.8 158.0L109.5 159.4L112.1 160.7L114.8 162.0L117.4 163.2L120.1 164.3L122.7 165.3L125.4 166.0z" fill="url(#s5)"/>
<path d="M127.2 177.0L123.3 167.6L125.2 166.0L129.1 178.2z" fill="url(#c5)"/>
<path d="M122.5 168.7L119.8 167.5L117.2 166.3L114.5 165.0L111.9 163.6L109.2 162.2L106.6 160.8L103.9 159.3L101.2 157.9L98.6 156.4L85.7 149.1L72.9 141.9L60.0 134.7L47.1 127.5L34.3 120.3L36.1 119.4L49.0 126.7L61.8 133.9L74.7 141.1L87.6 148.3L100.4 155.5L103.1 157.0L105.7 158.5L108.4 159.9L111.0 161.3L113.7 162.6L116.4 163.9L119.0 165.1L121.7 166.1L124.3 167.0z" fill="url(#s4)"/>
<path d="M126.2 176.3L122.3 168.6L124.1 167.0L128.0 177.5z" fill="url(#c4)"/>
<path d="M121.4 169.6L118.8 168.3L116.1 167.0L113.4 165.6L110.8 164.2L108.1 162.8L105.5 161.3L102.8 159.9L100.2 158.4L97.5 156.9L84.6 149.6L71.8 142.4L58.9 135.2L46.0 128.0L33.2 120.8L35.0 119.9L47.9 127.1L60.8 134.4L73.6 141.6L86.5 148.8L99.3 156.0L102.0 157.5L104.7 159.0L107.3 160.4L110.0 161.8L112.6 163.2L115.3 164.6L117.9 165.8L120.6 167.0L123.2 168.0z" fill="url(#s3)"/>
<path d="M125.1 175.5L121.2 169.5L123.0 167.9L126.9 176.7z" fill="url(#c3)"/>
<path d="M120.3 170.4L117.7 169.0L115.0 167.6L112.4 166.2L109.7 164.8L107.1 163.3L104.4 161.8L101.7 160.4L99.1 158.9L96.4 157.4L83.6 150.1L70.7 142.9L57.8 135.7L45.0 128.5L32.1 121.3L33.9 120.4L46.8 127.6L59.7 134.9L72.5 142.1L85.4 149.3L98.3 156.5L100.9 158.0L103.6 159.5L106.2 161.0L108.9 162.4L111.5 163.8L114.2 165.2L116.9 166.5L119.5 167.8L122.2 168.9z" fill="url(#s2)"/>
<path d="M124.0 174.7L120.1 170.3L121.9 168.8L125.8 176.1z" fill="url(#c2)"/>
<path d="M119.2 171.2L116.6 169.7L113.9 168.3L111.3 166.8L108.6 165.3L106.0 163.8L103.3 162.3L100.7 160.9L98.0 159.4L95.4 157.9L82.5 150.6L69.6 143.4L56.8 136.2L43.9 129.0L31.0 121.8L32.9 120.9L45.7 128.1L58.6 135.4L71.5 142.6L84.3 149.8L97.2 157.0L99.8 158.5L102.5 160.0L105.2 161.5L107.8 162.9L110.5 164.4L113.1 165.8L115.8 167.2L118.4 168.5L121.1 169.8z" fill="url(#s1)"/>
<path d="M122.9 173.8L119.0 171.1L120.9 169.7L124.8 175.3z" fill="url(#c1)"/>
<path d="M118.9 171.4L116.3 169.9L113.6 168.5L111.0 167.0L108.3 165.5L105.6 164.0L103.0 162.5L100.3 161.0L97.7 159.5L95.0 158.0L82.2 150.8L69.3 143.6L56.4 136.3L43.6 129.1L30.7 121.9L31.8 121.4L44.6 128.6L57.5 135.9L70.4 143.1L83.2 150.3L96.1 157.5L98.8 159.0L101.4 160.5L104.1 162.0L106.7 163.5L109.4 164.9L112.0 166.4L114.7 167.8L117.3 169.3L120.0 170.7z" fill="url(#s0)"/>
<path d="M122.6 173.5L118.7 171.3L119.8 170.5L123.7 174.4z" fill="url(#c0)"/></g>
<text x="25.3" y="49.4" font-size="8.70" text-anchor="end" font-family="Liberation Sans, Arial, sans-serif" font-weight="bold" fill="#1c1c1c" >10</text>
<text x="25.3" y="86.9" font-size="8.70" text-anchor="end" font-family="Liberation Sans, Arial, sans-serif" font-weight="bold" fill="#1c1c1c" >5</text>
<text x="25.3" y="124.4" font-size="8.70" text-anchor="end" font-family="Liberation Sans, Arial, sans-serif" font-weight="bold" fill="#1c1c1c" >0</text>
<text x="25.3" y="159.9" font-size="8.70" text-anchor="end" font-family="Liberation Sans, Arial, sans-serif" font-weight="bold" fill="#1c1c1c" >-5</text>
<text x="5.2" y="36.0" font-size="10.20" text-anchor="start" font-family="Liberation Sans, Arial, sans-serif" font-weight="bold" fill="#1c1c1c" style="font-weight:normal">×</text>
<text x="12.4" y="35.7" font-size="8.70" text-anchor="start" font-family="Liberation Sans, Arial, sans-serif" font-weight="bold" fill="#1c1c1c" >10</text>
<text x="22.3" y="31.9" font-size="6.10" text-anchor="start" font-family="Liberation Sans, Arial, sans-serif" font-weight="bold" fill="#1c1c1c" >-3</text>
<text transform="translate(11.4 104.3) rotate(-90)" font-size="9.80" text-anchor="middle" font-family="Liberation Sans, Arial, sans-serif" font-weight="bold" fill="#1c1c1c">Error rate</text>
<text x="116.6" y="221.5" font-size="8.70" text-anchor="end" font-family="Liberation Sans, Arial, sans-serif" font-weight="bold" fill="#1c1c1c" >0</text>
<text x="93.6" y="209.6" font-size="8.70" text-anchor="end" font-family="Liberation Sans, Arial, sans-serif" font-weight="bold" fill="#1c1c1c" >0.025</text>
<text x="70.6" y="196.7" font-size="8.70" text-anchor="end" font-family="Liberation Sans, Arial, sans-serif" font-weight="bold" fill="#1c1c1c" >0.05</text>
<text x="47.7" y="183.8" font-size="8.70" text-anchor="end" font-family="Liberation Sans, Arial, sans-serif" font-weight="bold" fill="#1c1c1c" >0.075</text>
<text x="24.7" y="170.9" font-size="8.70" text-anchor="end" font-family="Liberation Sans, Arial, sans-serif" font-weight="bold" fill="#1c1c1c" >0.1</text>
<text x="26.0" y="223.3" font-size="9.80" text-anchor="start" font-family="Liberation Sans, Arial, sans-serif" font-weight="bold" fill="#1c1c1c" >Time (s)</text>
<text x="127.4" y="223.8" font-size="8.70" text-anchor="start" font-family="Liberation Sans, Arial, sans-serif" font-weight="bold" fill="#1c1c1c" >-1</text>
<text x="157.1" y="214.1" font-size="8.70" text-anchor="start" font-family="Liberation Sans, Arial, sans-serif" font-weight="bold" fill="#1c1c1c" >-0.75</text>
<text x="186.8" y="204.4" font-size="8.70" text-anchor="start" font-family="Liberation Sans, Arial, sans-serif" font-weight="bold" fill="#1c1c1c" >-0.5</text>
<text x="216.5" y="194.6" font-size="8.70" text-anchor="start" font-family="Liberation Sans, Arial, sans-serif" font-weight="bold" fill="#1c1c1c" >-0.25</text>
<text x="246.2" y="184.9" font-size="8.70" text-anchor="start" font-family="Liberation Sans, Arial, sans-serif" font-weight="bold" fill="#1c1c1c" >0</text>
<text x="186.3" y="225.3" font-size="9.80" text-anchor="start" font-family="Liberation Sans, Arial, sans-serif" font-weight="bold" fill="#1c1c1c" >Voltage (V)</text>
<text x="128.9" y="249.2" font-size="11.6" text-anchor="middle" font-family="Liberation Serif, serif" font-weight="bold" fill="#111">(a)</text>
<g clip-path="url(#hc)"><g filter="url(#bl)">
<rect x="298.7" y="10.5" width="207.9" height="202.2" fill="#0090fa"/>
<rect x="300" y="11.5" width="2.0" height="200.2" fill="url(#h0)"/>
<rect x="302" y="11.5" width="2.0" height="200.2" fill="url(#h1)"/>
<rect x="304" y="11.5" width="2.0" height="200.2" fill="url(#h2)"/>
<rect x="306" y="11.5" width="2.0" height="200.2" fill="url(#h3)"/>
<rect x="308" y="11.5" width="2.0" height="200.2" fill="url(#h4)"/>
<rect x="310" y="11.5" width="2.0" height="200.2" fill="url(#h5)"/>
<rect x="312" y="11.5" width="2.0" height="200.2" fill="url(#h6)"/>
<rect x="314" y="11.5" width="2.0" height="200.2" fill="url(#h7)"/>
<rect x="316" y="11.5" width="2.0" height="200.2" fill="url(#h8)"/>
<rect x="318" y="11.5" width="2.0" height="200.2" fill="url(#h9)"/>
<rect x="320" y="11.5" width="2.0" height="200.2" fill="url(#h10)"/>
<rect x="322" y="11.5" width="2.0" height="200.2" fill="url(#h11)"/>
<rect x="324" y="11.5" width="2.0" height="200.2" fill="url(#h12)"/>
<rect x="326" y="11.5" width="2.0" height="200.2" fill="url(#h13)"/>
<rect x="328" y="11.5" width="2.0" height="200.2" fill="url(#h14)"/>
<rect x="330" y="11.5" width="2.0" height="200.2" fill="url(#h15)"/>
<rect x="332" y="11.5" width="2.0" height="200.2" fill="url(#h16)"/>
<rect x="334" y="11.5" width="2.0" height="200.2" fill="url(#h17)"/>
<rect x="336" y="11.5" width="2.0" height="200.2" fill="url(#h18)"/>
<rect x="338" y="11.5" width="2.0" height="200.2" fill="url(#h19)"/>
<rect x="340" y="11.5" width="2.0" height="200.2" fill="url(#h20)"/>
<rect x="342" y="11.5" width="2.0" height="200.2" fill="url(#h21)"/>
<rect x="344" y="11.5" width="2.0" height="200.2" fill="url(#h22)"/>
<rect x="346" y="11.5" width="2.0" height="200.2" fill="url(#h23)"/>
<rect x="348" y="11.5" width="2.0" height="200.2" fill="url(#h24)"/>
<rect x="350" y="11.5" width="2.0" height="200.2" fill="url(#h25)"/>
<rect x="352" y="11.5" width="2.0" height="200.2" fill="url(#h26)"/>
<rect x="354" y="11.5" width="2.0" height="200.2" fill="url(#h27)"/>
<rect x="356" y="11.5" width="2.0" height="200.2" fill="url(#h28)"/>
<rect x="358" y="11.5" width="2.0" height="200.2" fill="url(#h29)"/>
<rect x="360" y="11.5" width="2.0" height="200.2" fill="url(#h30)"/>
<rect x="362" y="11.5" width="2.0" height="200.2" fill="url(#h31)"/>
<rect x="364" y="11.5" width="2.0" height="200.2" fill="url(#h32)"/>
<rect x="366" y="11.5" width="2.0" height="200.2" fill="url(#h33)"/>
<rect x="368" y="11.5" width="2.0" height="200.2" fill="url(#h34)"/>
<rect x="370" y="11.5" width="2.0" height="200.2" fill="url(#h35)"/>
<rect x="372" y="11.5" width="2.0" height="200.2" fill="url(#h36)"/>
<rect x="374" y="11.5" width="2.0" height="200.2" fill="url(#h37)"/>
<rect x="376" y="11.5" width="2.0" height="200.2" fill="url(#h38)"/>
<rect x="378" y="11.5" width="2.0" height="200.2" fill="url(#h39)"/>
<rect x="380" y="11.5" width="2.0" height="200.2" fill="url(#h40)"/>
<rect x="382" y="11.5" width="2.0" height="200.2" fill="url(#h41)"/>
<rect x="384" y="11.5" width="2.0" height="200.2" fill="url(#h42)"/>
<rect x="386" y="11.5" width="2.0" height="200.2" fill="url(#h43)"/>
<rect x="388" y="11.5" width="2.0" height="200.2" fill="url(#h44)"/>
<rect x="390" y="11.5" width="2.0" height="200.2" fill="url(#h45)"/>
<rect x="392" y="11.5" width="2.0" height="200.2" fill="url(#h46)"/>
<rect x="394" y="11.5" width="2.0" height="200.2" fill="url(#h47)"/>
<rect x="396" y="11.5" width="2.0" height="200.2" fill="url(#h48)"/>
<rect x="398" y="11.5" width="2.0" height="200.2" fill="url(#h49)"/>
<rect x="400" y="11.5" width="2.0" height="200.2" fill="url(#h50)"/>
<rect x="402" y="11.5" width="2.0" height="200.2" fill="url(#h51)"/>
<rect x="404" y="11.5" width="2.0" height="200.2" fill="url(#h52)"/>
<rect x="406" y="11.5" width="2.0" height="200.2" fill="url(#h53)"/>
<rect x="408" y="11.5" width="2.0" height="200.2" fill="url(#h54)"/>
<rect x="410" y="11.5" width="2.0" height="200.2" fill="url(#h55)"/>
<rect x="412" y="11.5" width="2.0" height="200.2" fill="url(#h56)"/>
<rect x="414" y="11.5" width="2.0" height="200.2" fill="url(#h57)"/>
<rect x="416" y="11.5" width="2.0" height="200.2" fill="url(#h58)"/>
<rect x="418" y="11.5" width="2.0" height="200.2" fill="url(#h59)"/>
<rect x="420" y="11.5" width="2.0" height="200.2" fill="url(#h60)"/>
<rect x="422" y="11.5" width="2.0" height="200.2" fill="url(#h61)"/>
<rect x="424" y="11.5" width="2.0" height="200.2" fill="url(#h62)"/>
<rect x="426" y="11.5" width="2.0" height="200.2" fill="url(#h63)"/>
<rect x="428" y="11.5" width="2.0" height="200.2" fill="url(#h64)"/>
<rect x="430" y="11.5" width="2.0" height="200.2" fill="url(#h65)"/>
<rect x="432" y="11.5" width="2.0" height="200.2" fill="url(#h66)"/>
<rect x="434" y="11.5" width="2.0" height="200.2" fill="url(#h67)"/>
<rect x="436" y="11.5" width="2.0" height="200.2" fill="url(#h68)"/>
<rect x="438" y="11.5" width="2.0" height="200.2" fill="url(#h69)"/>
<rect x="440" y="11.5" width="2.0" height="200.2" fill="url(#h70)"/>
<rect x="442" y="11.5" width="2.0" height="200.2" fill="url(#h71)"/>
<rect x="444" y="11.5" width="2.0" height="200.2" fill="url(#h72)"/>
<rect x="446" y="11.5" width="2.0" height="200.2" fill="url(#h73)"/>
<rect x="448" y="11.5" width="2.0" height="200.2" fill="url(#h74)"/>
<rect x="450" y="11.5" width="2.0" height="200.2" fill="url(#h75)"/>
<rect x="452" y="11.5" width="2.0" height="200.2" fill="url(#h76)"/>
<rect x="454" y="11.5" width="2.0" height="200.2" fill="url(#h77)"/>
<rect x="456" y="11.5" width="2.0" height="200.2" fill="url(#h78)"/>
<rect x="458" y="11.5" width="2.0" height="200.2" fill="url(#h79)"/>
<rect x="460" y="11.5" width="2.0" height="200.2" fill="url(#h80)"/>
<rect x="462" y="11.5" width="2.0" height="200.2" fill="url(#h81)"/>
<rect x="464" y="11.5" width="2.0" height="200.2" fill="url(#h82)"/>
<rect x="466" y="11.5" width="2.0" height="200.2" fill="url(#h83)"/>
<rect x="468" y="11.5" width="2.0" height="200.2" fill="url(#h84)"/>
<rect x="470" y="11.5" width="2.0" height="200.2" fill="url(#h85)"/>
<rect x="472" y="11.5" width="2.0" height="200.2" fill="url(#h86)"/>
<rect x="474" y="11.5" width="2.0" height="200.2" fill="url(#h87)"/>
<rect x="476" y="11.5" width="2.0" height="200.2" fill="url(#h88)"/>
<rect x="478" y="11.5" width="2.0" height="200.2" fill="url(#h89)"/>
<rect x="480" y="11.5" width="2.0" height="200.2" fill="url(#h90)"/>
<rect x="482" y="11.5" width="2.0" height="200.2" fill="url(#h91)"/>
<rect x="484" y="11.5" width="2.0" height="200.2" fill="url(#h92)"/>
<rect x="486" y="11.5" width="2.0" height="200.2" fill="url(#h93)"/>
<rect x="488" y="11.5" width="2.0" height="200.2" fill="url(#h94)"/>
<rect x="490" y="11.5" width="2.0" height="200.2" fill="url(#h95)"/>
<rect x="492" y="11.5" width="2.0" height="200.2" fill="url(#h96)"/>
<rect x="494" y="11.5" width="2.0" height="200.2" fill="url(#h97)"/>
<rect x="496" y="11.5" width="2.0" height="200.2" fill="url(#h98)"/>
<rect x="498" y="11.5" width="2.0" height="200.2" fill="url(#h99)"/>
<rect x="500" y="11.5" width="2.0" height="200.2" fill="url(#h100)"/>
<rect x="502" y="11.5" width="2.0" height="200.2" fill="url(#h101)"/>
<rect x="504" y="11.5" width="2.0" height="200.2" fill="url(#h102)"/>
</g></g>
<text x="302.3" y="209.4" font-size="8.10" text-anchor="end" font-family="Liberation Sans, Arial, sans-serif" font-weight="bold" fill="#1c1c1c" >0</text>
<text x="302.3" y="161.8" font-size="8.10" text-anchor="end" font-family="Liberation Sans, Arial, sans-serif" font-weight="bold" fill="#1c1c1c" >0.025</text>
<text x="302.3" y="114.3" font-size="8.10" text-anchor="end" font-family="Liberation Sans, Arial, sans-serif" font-weight="bold" fill="#1c1c1c" >0.05</text>
<text x="302.3" y="66.8" font-size="8.10" text-anchor="end" font-family="Liberation Sans, Arial, sans-serif" font-weight="bold" fill="#1c1c1c" >0.075</text>
<text x="302.3" y="19.2" font-size="8.10" text-anchor="end" font-family="Liberation Sans, Arial, sans-serif" font-weight="bold" fill="#1c1c1c" >0.1</text>
<text x="305.1" y="218.0" font-size="8.10" text-anchor="middle" font-family="Liberation Sans, Arial, sans-serif" font-weight="bold" fill="#1c1c1c" >-1</text>
<text x="354.1" y="218.0" font-size="8.10" text-anchor="middle" font-family="Liberation Sans, Arial, sans-serif" font-weight="bold" fill="#1c1c1c" >-0.75</text>
<text x="403.0" y="218.0" font-size="8.10" text-anchor="middle" font-family="Liberation Sans, Arial, sans-serif" font-weight="bold" fill="#1c1c1c" >-0.5</text>
<text x="452.0" y="218.0" font-size="8.10" text-anchor="middle" font-family="Liberation Sans, Arial, sans-serif" font-weight="bold" fill="#1c1c1c" >-0.25</text>
<text x="501.0" y="218.0" font-size="8.10" text-anchor="middle" font-family="Liberation Sans, Arial, sans-serif" font-weight="bold" fill="#1c1c1c" >0</text>
<text x="402.8" y="231.2" font-size="9.20" text-anchor="middle" font-family="Liberation Sans, Arial, sans-serif" font-weight="bold" fill="#1c1c1c" >Voltage (V)</text>
<text transform="translate(278.3 110.8) rotate(-90)" font-size="9.20" text-anchor="middle" font-family="Liberation Sans, Arial, sans-serif" font-weight="bold" fill="#1c1c1c">Time (s)</text>
<text x="408.5" y="249.2" font-size="11.6" text-anchor="middle" font-family="Liberation Serif, serif" font-weight="bold" fill="#111">(b)</text>
<rect x="517.0" y="16.7" width="9.3" height="190.0" fill="url(#cb)" stroke="#444" stroke-width="0.5"/>
<text x="529.3" y="205.2" font-size="8.10" text-anchor="start" font-family="Liberation Sans, Arial, sans-serif" font-weight="bold" fill="#1c1c1c" >-3</text>
<text x="529.3" y="187.5" font-size="8.10" text-anchor="start" font-family="Liberation Sans, Arial, sans-serif" font-weight="bold" fill="#1c1c1c" >-2</text>
<text x="529.3" y="169.9" font-size="8.10" text-anchor="start" font-family="Liberation Sans, Arial, sans-serif" font-weight="bold" fill="#1c1c1c" >-1</text>
<text x="529.3" y="152.3" font-size="8.10" text-anchor="start" font-family="Liberation Sans, Arial, sans-serif" font-weight="bold" fill="#1c1c1c" >0</text>
<text x="529.3" y="134.7" font-size="8.10" text-anchor="start" font-family="Liberation Sans, Arial, sans-serif" font-weight="bold" fill="#1c1c1c" >1</text>
<text x="529.3" y="117.0" font-size="8.10" text-anchor="start" font-family="Liberation Sans, Arial, sans-serif" font-weight="bold" fill="#1c1c1c" >2</text>
<text x="529.3" y="99.4" font-size="8.10" text-anchor="start" font-family="Liberation Sans, Arial, sans-serif" font-weight="bold" fill="#1c1c1c" >3</text>
<text x="529.3" y="81.8" font-size="8.10" text-anchor="start" font-family="Liberation Sans, Arial, sans-serif" font-weight="bold" fill="#1c1c1c" >4</text>
<text x="529.3" y="64.1" font-size="8.10" text-anchor="start" font-family="Liberation Sans, Arial, sans-serif" font-weight="bold" fill="#1c1c1c" >5</text>
<text x="529.3" y="46.5" font-size="8.10" text-anchor="start" font-family="Liberation Sans, Arial, sans-serif" font-weight="bold" fill="#1c1c1c" >6</text>
<text x="529.3" y="28.9" font-size="8.10" text-anchor="start" font-family="Liberation Sans, Arial, sans-serif" font-weight="bold" fill="#1c1c1c" >7</text>
<path d="M526.3 202.5h-1.6 M526.3 184.8h-1.6 M526.3 167.2h-1.6 M526.3 149.6h-1.6 M526.3 132.0h-1.6 M526.3 114.3h-1.6 M526.3 96.7h-1.6 M526.3 79.1h-1.6 M526.3 61.4h-1.6 M526.3 43.8h-1.6 M526.3 26.2h-1.6" stroke="#333" stroke-width="0.5" fill="none"/>
<text x="526.9" y="13.5" font-size="9.60" text-anchor="start" font-family="Liberation Sans, Arial, sans-serif" font-weight="bold" fill="#1c1c1c" style="font-weight:normal">×</text>
<text x="532.6" y="13.2" font-size="8.10" text-anchor="start" font-family="Liberation Sans, Arial, sans-serif" font-weight="bold" fill="#1c1c1c" >10</text>
<text x="541.6" y="9.5" font-size="5.60" text-anchor="start" font-family="Liberation Sans, Arial, sans-serif" font-weight="bold" fill="#1c1c1c" >-3</text>
</svg>
</body></html>
